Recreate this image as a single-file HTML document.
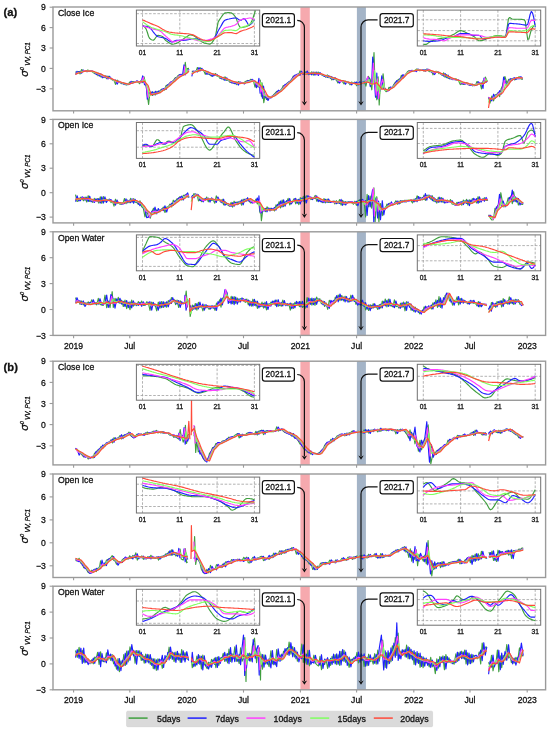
<!DOCTYPE html>
<html><head><meta charset="utf-8"><title>figure</title><style>html,body{margin:0;padding:0;background:#fff;}svg{display:block;}text{stroke:#111;stroke-width:0.28px;}</style></head><body>
<svg width="550" height="730" viewBox="0 0 550 730" font-family="'Liberation Sans', Arial, sans-serif">
<rect width="550" height="730" fill="#fff"/>
<defs>
<clipPath id="c0"><rect x="53.0" y="7.0" width="492.6" height="103.8"/></clipPath>
<clipPath id="c1"><rect x="53.0" y="119.4" width="492.6" height="103.5"/></clipPath>
<clipPath id="c2"><rect x="53.0" y="231.8" width="492.6" height="103.59999999999997"/></clipPath>
<clipPath id="c3"><rect x="53.0" y="361.2" width="492.6" height="103.69999999999999"/></clipPath>
<clipPath id="c4"><rect x="53.0" y="474.0" width="492.6" height="103.5"/></clipPath>
<clipPath id="c5"><rect x="53.0" y="586.2" width="492.6" height="103.59999999999991"/></clipPath>
</defs>
<rect x="300.4" y="7.0" width="9.4" height="103.8" fill="#f6a9ae"/>
<rect x="356.9" y="7.0" width="9.0" height="103.8" fill="#a4b4c7"/>
<g clip-path="url(#c0)" fill="none" stroke-width="1.25" stroke-linejoin="round">
<path d="M75.5,71.7 L77.0,73.2 L78.5,71.5 L80.0,74.0 L81.6,69.5 L83.2,71.0 L84.8,70.9 L86.4,71.6 L87.8,70.0 L89.3,71.0 L90.7,71.2 L92.2,71.6 L93.6,72.8 L95.1,73.9 L96.5,72.4 L98.0,75.8 L99.4,73.6 L100.9,76.9 L102.3,74.9 L103.7,77.6 L105.2,75.8 L106.6,78.7 L108.0,76.1 L109.5,77.2 L111.0,79.1 L112.5,80.0 L114.0,80.2 L115.5,84.4 L117.1,80.1 L118.8,82.3 L120.4,82.6 L122.0,83.9 L123.5,82.8 L125.1,84.7 L126.6,84.4 L128.2,84.6 L129.7,82.0 L131.1,83.4 L132.6,81.5 L134.0,82.0 L135.5,81.5 L136.9,81.7 L138.2,82.1 L139.6,83.7 L141.0,80.5 L142.8,82.6 L144.0,76.7 L146.3,87.5 L148.6,104.5 L149.6,95.4 L150.9,91.8 L152.4,95.5 L154.0,92.0 L155.5,94.9 L157.0,91.3 L158.5,93.1 L160.0,90.6 L161.5,89.2 L163.0,89.3 L164.6,90.1 L166.1,85.3 L167.6,85.4 L169.1,83.5 L170.6,82.5 L172.1,81.7 L173.6,80.1 L175.2,77.8 L176.7,77.3 L178.2,75.3 L179.6,74.8 L181.1,75.0 L182.6,75.4 L184.0,73.2 L185.3,62.3 L186.5,73.3 L187.3,68.6 L189.0,68.4 M191.8,71.4 L193.2,71.4 L194.6,71.7 L196.0,71.4 L197.4,67.5 L198.9,71.4 L200.4,67.8 L201.8,70.0 L203.5,70.0 L205.3,74.3 L207.0,71.3 L208.4,74.1 L209.8,74.4 L211.3,76.1 L212.7,73.7 L214.2,75.6 L215.6,73.5 L217.1,76.3 L218.5,76.2 L220.0,78.4 L221.7,77.3 L223.3,79.8 L225.0,76.8 L226.7,80.4 L228.3,79.7 L230.0,82.4 L231.7,82.0 L233.3,83.3 L235.0,82.0 L236.7,84.6 L238.3,81.5 L240.0,82.4 L241.5,83.0 L243.0,83.4 L244.5,82.3 L246.0,81.2 L247.5,80.4 L249.0,81.5 L250.5,79.4 L252.0,79.9 L253.5,81.1 L255.0,87.2 L256.5,83.0 L258.0,86.8 L259.3,87.1 L260.2,80.1 L261.4,96.1 L262.0,82.7 L263.8,102.6 L265.0,95.5 L266.5,99.5 L268.0,97.9 L269.5,98.3 L271.0,96.8 L272.3,96.7 L273.7,94.6 L275.0,93.3 L276.7,91.4 L278.3,92.6 L280.0,90.8 L281.7,89.2 L283.3,85.6 L285.0,86.2 L286.7,83.5 L288.3,82.5 L290.0,81.2 L291.7,79.8 L293.3,76.1 L295.0,76.5 L296.7,74.4 L298.3,75.7 L300.0,70.9 L301.5,73.5 L303.0,73.8 L304.5,73.6 L306.0,71.6 L307.3,74.4 L308.7,72.6 L310.0,74.1 L311.7,71.8 L313.3,75.1 L315.0,72.1 L316.7,74.7 L318.3,72.0 L320.0,74.2 L321.5,74.6 L322.9,75.6 L324.4,75.5 L325.9,77.3 L327.4,74.9 L328.9,77.7 L330.3,76.4 L331.8,80.0 L333.3,77.5 L334.9,79.5 L336.4,80.0 L337.9,83.0 L339.5,80.9 L341.0,81.5 L342.5,81.6 L344.0,83.9 L345.5,81.1 L347.0,82.7 L348.5,82.2 L350.0,84.8 L351.6,82.1 L353.3,82.9 L354.9,82.0 L356.6,85.7 L358.2,82.5 L359.8,84.6 L361.4,82.4 L363.0,83.6 L364.4,81.3 L365.9,86.1 L367.3,79.9 L368.3,76.3 L370.3,79.6 L371.8,89.8 L374.0,52.5 L374.9,82.8 L376.8,99.8 L378.1,76.9 L379.2,104.9 L380.0,89.5 L381.8,88.5 L383.1,73.9 L384.7,89.9 L386.1,91.6 L387.6,91.0 L389.0,87.3 L390.7,88.5 L392.3,87.4 L394.0,84.2 L395.4,82.0 L396.8,83.3 L398.2,79.4 L399.8,79.9 L401.4,75.3 L403.0,78.3 L404.4,75.4 L405.9,74.6 L407.3,71.9 L408.9,70.6 L410.4,71.2 L412.0,71.1 L413.5,70.6 L414.9,70.9 L416.4,69.1 L417.9,69.6 L419.5,70.7 L421.0,70.4 L422.5,69.8 L424.0,71.1 L425.5,69.6 L427.0,69.2 L428.5,71.0 L430.0,71.8 L431.5,71.0 L433.0,74.8 L434.5,71.7 L436.0,71.4 L437.5,71.6 L439.0,73.6 L440.5,73.3 L442.1,75.4 L443.6,72.8 L445.1,77.3 L446.7,74.5 L448.2,78.5 L449.7,77.2 L451.2,79.1 L452.8,79.1 L454.3,79.7 L455.8,78.8 L457.3,79.8 L458.8,81.2 L460.3,84.6 L461.9,83.5 L463.4,84.5 L464.9,82.9 L466.4,83.2 L467.9,84.6 L469.4,85.0 L470.9,84.0 L472.5,85.9 L474.0,84.8 L475.5,85.1 L477.0,81.5 L478.5,83.1 L480.0,82.8 L481.5,88.9 L483.0,80.9 L484.5,83.1 L485.3,77.0 L487.3,81.2 M488.5,97.0 L490.0,103.1 L491.8,96.1 L493.6,100.9 L495.1,94.7 L496.5,94.8 L498.0,92.7 L499.6,96.6 L501.1,88.8 L502.7,85.4 L504.9,76.5 L507.0,83.4 L508.6,79.4 L510.2,81.4 L511.8,78.6 L513.2,78.7 L514.5,79.9 L515.9,78.3 L517.3,78.8 L519.1,76.6 L520.9,79.0 L522.7,79.4" stroke="#3f9f3f" stroke-width="1.15"/>
<path d="M75.5,74.5 L77.0,71.3 L78.5,72.7 L80.0,71.3 L81.6,73.2 L83.2,70.0 L84.8,71.2 L86.4,71.1 L87.8,71.6 L89.3,70.7 L90.7,70.9 L92.2,71.1 L93.6,72.0 L95.1,73.0 L96.5,74.7 L98.0,73.1 L99.4,76.1 L100.9,73.9 L102.3,77.8 L103.7,75.5 L105.2,77.6 L106.6,76.1 L108.0,78.9 L109.5,76.3 L111.0,78.1 L112.5,79.6 L114.0,80.6 L115.5,80.0 L117.1,84.1 L118.8,81.1 L120.4,82.8 L122.0,82.7 L123.5,84.2 L125.1,83.3 L126.6,84.8 L128.2,83.8 L129.7,84.3 L131.1,81.3 L132.6,83.5 L134.0,81.6 L135.5,81.9 L136.9,80.8 L138.2,81.6 L139.6,81.5 L141.0,82.6 L142.7,75.8 L144.5,84.7 L146.3,85.2 L147.3,99.1 L148.2,92.5 L149.6,93.0 L150.9,94.7 L152.4,91.7 L154.0,94.9 L155.5,91.3 L157.0,93.9 L158.5,91.0 L160.0,92.7 L161.5,90.0 L163.0,88.9 L164.6,88.3 L166.1,89.4 L167.6,84.8 L169.1,84.9 L170.6,82.0 L172.1,81.9 L173.6,81.0 L175.2,79.4 L176.7,77.5 L178.2,77.2 L179.6,74.9 L181.1,74.4 L182.6,74.8 L184.0,64.8 L185.2,74.9 L185.7,73.0 L187.3,72.4 L189.0,69.2 M191.8,76.3 L193.2,71.2 L194.6,71.3 L196.0,71.0 L197.4,71.9 L198.9,67.6 L200.4,70.8 L201.8,68.3 L203.5,70.8 L205.3,70.9 L207.0,74.5 L208.4,72.0 L209.8,74.7 L211.3,74.8 L212.7,76.4 L214.2,74.3 L215.6,75.3 L217.1,74.6 L218.5,76.3 L220.0,76.9 L221.7,78.9 L223.3,77.4 L225.0,80.5 L226.7,77.8 L228.3,80.7 L230.0,80.2 L231.7,82.9 L233.3,82.4 L235.0,83.8 L236.7,82.1 L238.3,85.1 L240.0,82.0 L241.5,82.6 L243.0,83.2 L244.5,83.9 L246.0,82.1 L247.5,81.3 L249.0,80.6 L250.5,81.3 L252.0,79.3 L253.5,80.5 L255.0,81.2 L256.5,87.7 L258.0,83.5 L258.9,78.3 L260.1,93.1 L260.7,87.5 L262.5,98.3 L263.5,86.1 L265.0,97.0 L266.5,97.5 L268.0,100.5 L269.5,97.4 L271.0,98.0 L272.3,95.9 L273.7,96.1 L275.0,94.3 L276.7,92.9 L278.3,90.2 L280.0,91.4 L281.7,89.1 L283.3,88.0 L285.0,84.4 L286.7,84.5 L288.3,82.3 L290.0,81.4 L291.7,79.4 L293.3,77.4 L295.0,75.1 L296.7,75.0 L298.3,73.6 L300.0,75.4 L301.5,71.3 L303.0,74.3 L304.5,73.4 L306.0,73.9 L307.3,71.1 L308.7,74.7 L310.0,73.1 L311.7,74.8 L313.3,72.1 L315.0,75.1 L316.7,72.1 L318.3,75.5 L320.0,72.6 L321.5,74.6 L322.9,74.8 L324.4,76.5 L325.9,75.4 L327.4,77.5 L328.9,75.7 L330.3,78.3 L331.8,76.7 L333.3,79.7 L334.9,77.5 L336.4,79.5 L337.9,80.9 L339.5,83.1 L341.0,81.0 L342.5,81.5 L344.0,81.0 L345.5,84.2 L347.0,81.4 L348.5,82.8 L350.0,82.6 L351.6,84.8 L353.3,82.6 L354.9,83.5 L356.6,82.0 L358.2,85.0 L359.8,81.7 L361.4,83.8 L363.0,81.8 L364.4,83.3 L365.9,82.0 L367.0,78.8 L368.8,78.1 L370.3,86.7 L371.8,80.0 L372.7,57.0 L375.5,97.2 L376.4,85.1 L376.8,73.0 L377.9,98.8 L378.2,83.0 L380.0,91.1 L381.8,75.8 L383.2,88.7 L384.7,87.9 L386.1,89.9 L387.6,90.9 L389.0,90.5 L390.7,86.9 L392.3,87.8 L394.0,85.1 L395.4,83.6 L396.8,80.6 L398.2,82.2 L399.8,78.7 L401.4,78.2 L403.0,74.5 L404.4,76.8 L405.9,74.0 L407.3,73.4 L408.9,72.1 L410.4,70.7 L412.0,70.3 L413.5,70.7 L414.9,70.7 L416.4,71.6 L417.9,69.1 L419.5,69.7 L421.0,70.3 L422.5,70.5 L424.0,69.8 L425.5,71.1 L427.0,69.2 L428.5,69.3 L430.0,70.7 L431.5,72.2 L433.0,71.5 L434.5,74.6 L436.0,72.2 L437.5,72.1 L439.0,72.3 L440.5,73.9 L442.1,74.0 L443.6,76.1 L445.1,73.5 L446.7,77.6 L448.2,75.2 L449.7,78.9 L451.2,77.9 L452.8,79.6 L454.3,79.1 L455.8,80.0 L457.3,79.7 L458.8,80.1 L460.3,81.5 L461.9,84.0 L463.4,83.1 L464.9,84.4 L466.4,82.6 L467.9,83.7 L469.4,85.1 L470.9,85.5 L472.5,84.2 L474.0,85.7 L475.5,84.9 L477.0,85.0 L478.5,81.8 L480.0,83.7 L481.5,82.9 L483.0,88.4 L484.0,78.0 L485.9,82.4 L487.3,81.2 M488.5,97.4 L490.0,99.0 L491.8,100.8 L493.6,94.2 L495.1,98.4 L496.5,94.6 L498.0,94.3 L499.6,90.7 L501.1,94.2 L502.7,87.1 L503.6,77.1 L505.6,82.8 L507.0,85.5 L508.6,82.8 L510.2,78.6 L511.8,80.6 L513.2,78.3 L514.5,77.7 L515.9,79.6 L517.3,78.1 L519.1,79.0 L520.9,76.6 L522.7,79.2" stroke="#1f1fff" stroke-width="1.15"/>
<path d="M75.5,73.8 L77.0,73.0 L78.5,72.6 L80.0,72.5 L81.6,72.0 L83.2,71.0 L84.8,70.6 L86.4,71.2 L87.8,71.2 L89.3,70.9 L90.7,70.9 L92.2,71.2 L93.6,71.9 L95.1,72.8 L96.5,73.3 L98.0,73.9 L99.4,74.4 L100.9,75.1 L102.3,76.0 L103.7,76.4 L105.2,76.6 L106.6,77.4 L108.0,77.9 L109.5,77.7 L111.0,78.3 L112.5,79.6 L114.0,80.3 L115.5,81.3 L117.1,82.0 L118.8,81.8 L120.4,82.2 L122.0,82.7 L123.5,83.4 L125.1,83.8 L126.6,84.3 L128.2,84.4 L129.7,83.6 L131.1,83.0 L132.6,83.0 L134.0,82.3 L135.5,81.6 L136.9,81.4 L138.2,81.5 L139.6,82.5 L141.0,82.5 L143.4,77.3 L144.5,82.3 L146.3,84.4 L148.0,97.2 L149.6,94.4 L150.9,94.1 L152.4,93.8 L154.0,93.5 L155.5,93.2 L157.0,93.0 L158.5,92.8 L160.0,92.0 L161.5,90.8 L163.0,89.7 L164.6,89.1 L166.1,87.8 L167.6,86.3 L169.1,84.7 L170.6,83.0 L172.1,82.1 L173.6,81.2 L175.2,79.5 L176.7,77.9 L178.2,76.7 L179.6,75.6 L181.1,75.3 L182.6,75.5 L184.0,74.7 L184.7,66.4 L185.8,74.1 L187.3,71.0 L189.0,70.2 M191.8,73.9 L193.2,72.2 L194.6,71.4 L196.0,71.3 L197.4,70.3 L198.9,69.9 L200.4,69.6 L201.8,69.5 L203.5,70.1 L205.3,71.4 L207.0,72.7 L208.4,72.9 L209.8,73.6 L211.3,74.4 L212.7,74.5 L214.2,74.7 L215.6,74.9 L217.1,75.2 L218.5,75.9 L220.0,77.0 L221.7,77.8 L223.3,78.4 L225.0,78.8 L226.7,78.9 L228.3,79.7 L230.0,81.0 L231.7,81.8 L233.3,82.1 L235.0,82.5 L236.7,83.0 L238.3,83.4 L240.0,82.8 L241.5,82.9 L243.0,83.2 L244.5,82.9 L246.0,82.2 L247.5,81.7 L249.0,81.3 L250.5,80.8 L252.0,80.4 L253.5,80.5 L255.0,82.4 L256.5,84.0 L258.0,85.3 L259.3,86.4 L259.6,81.0 L260.8,92.2 L262.0,88.8 L263.2,95.0 L265.0,93.8 L266.5,96.8 L268.0,97.6 L269.5,98.3 L271.0,97.2 L272.3,96.3 L273.7,95.6 L275.0,94.7 L276.7,93.2 L278.3,92.3 L280.0,91.4 L281.7,90.0 L283.3,87.9 L285.0,86.0 L286.7,84.7 L288.3,83.1 L290.0,81.9 L291.7,80.3 L293.3,78.1 L295.0,76.4 L296.7,75.3 L298.3,74.2 L300.0,73.7 L301.5,72.9 L303.0,73.3 L304.5,74.1 L306.0,73.4 L307.3,73.2 L308.7,73.4 L310.0,73.5 L311.7,73.3 L313.3,73.3 L315.0,73.7 L316.7,73.9 L318.3,73.9 L320.0,73.9 L321.5,74.3 L322.9,74.8 L324.4,75.3 L325.9,76.2 L327.4,76.3 L328.9,76.7 L330.3,77.2 L331.8,77.7 L333.3,78.4 L334.9,78.7 L336.4,79.3 L337.9,80.6 L339.5,81.5 L341.0,81.4 L342.5,80.9 L344.0,81.5 L345.5,82.2 L347.0,82.1 L348.5,82.4 L350.0,83.1 L351.6,83.5 L353.3,83.1 L354.9,83.4 L356.6,84.2 L358.2,83.8 L359.8,83.4 L361.4,83.2 L363.0,82.8 L364.4,82.4 L365.9,82.5 L367.7,76.6 L368.8,82.4 L370.3,83.6 L371.8,83.8 L373.4,63.1 L374.9,82.8 L376.2,95.3 L377.4,78.9 L378.6,98.5 L380.0,88.5 L382.5,79.2 L384.7,89.0 L386.1,90.2 L387.6,91.1 L389.0,89.9 L390.7,88.2 L392.3,87.4 L394.0,85.9 L395.4,84.0 L396.8,82.8 L398.2,81.7 L399.8,80.1 L401.4,78.4 L403.0,76.9 L404.4,75.7 L405.9,74.1 L407.3,73.0 L408.9,71.9 L410.4,71.0 L412.0,71.0 L413.5,70.8 L414.9,70.7 L416.4,70.6 L417.9,69.9 L419.5,69.8 L421.0,70.3 L422.5,70.4 L424.0,70.6 L425.5,70.4 L427.0,70.0 L428.5,69.7 L430.0,70.7 L431.5,71.4 L433.0,72.2 L434.5,72.9 L436.0,72.2 L437.5,72.0 L439.0,72.5 L440.5,73.4 L442.1,74.4 L443.6,74.7 L445.1,75.2 L446.7,75.6 L448.2,76.3 L449.7,77.5 L451.2,78.5 L452.8,79.1 L454.3,79.4 L455.8,79.6 L457.3,79.9 L458.8,80.8 L460.3,81.9 L461.9,82.9 L463.4,83.3 L464.9,83.4 L466.4,83.7 L467.9,84.1 L469.4,84.7 L470.9,84.9 L472.5,85.0 L474.0,85.6 L475.5,85.1 L477.0,83.9 L478.5,83.2 L480.0,83.1 L481.5,84.3 L483.0,84.3 L484.7,78.3 L485.9,80.7 L487.3,80.7 M488.5,97.3 L490.0,98.5 L491.8,99.0 L493.6,97.4 L495.1,97.0 L496.5,95.5 L498.0,93.9 L499.6,93.1 L501.1,92.2 L502.7,88.8 L504.3,80.2 L505.6,86.0 L507.0,85.2 L508.6,82.5 L510.2,80.2 L511.8,79.7 L513.2,78.8 L514.5,78.5 L515.9,77.8 L517.3,78.1 L519.1,78.4 L520.9,77.9 L522.7,78.0" stroke="#ff3fff" stroke-width="1.15"/>
<path d="M75.5,73.7 L77.0,73.2 L78.5,72.9 L80.0,72.5 L81.6,71.8 L83.2,71.4 L84.8,71.2 L86.4,71.0 L87.8,70.9 L89.3,71.0 L90.7,71.2 L92.2,71.4 L93.6,72.1 L95.1,72.4 L96.5,73.0 L98.0,73.4 L99.4,74.1 L100.9,74.6 L102.3,75.3 L103.7,75.7 L105.2,76.5 L106.6,77.0 L108.0,77.3 L109.5,77.8 L111.0,78.7 L112.5,79.4 L114.0,80.5 L115.5,81.1 L117.1,81.2 L118.8,81.6 L120.4,82.3 L122.0,82.8 L123.5,83.2 L125.1,83.6 L126.6,84.2 L128.2,83.9 L129.7,83.5 L131.1,83.2 L132.6,82.7 L134.0,82.2 L135.5,82.0 L136.9,81.9 L138.2,82.2 L139.6,81.8 L141.0,81.4 L142.8,81.0 L144.6,79.7 L146.3,84.1 L148.2,88.7 L149.2,96.3 L150.9,94.5 L152.4,94.2 L154.0,93.9 L155.5,93.7 L157.0,93.4 L158.5,93.1 L160.0,92.0 L161.5,91.0 L163.0,90.4 L164.6,89.3 L166.1,87.9 L167.6,86.8 L169.1,85.5 L170.6,84.2 L172.1,83.0 L173.6,81.5 L175.2,80.1 L176.7,78.6 L178.2,77.3 L179.6,76.7 L181.1,76.2 L182.6,75.2 L184.0,74.2 L185.7,73.0 L185.9,68.2 L187.1,72.6 L187.3,71.5 L189.0,71.0 M191.8,73.1 L193.2,72.5 L194.6,72.1 L196.0,71.1 L197.4,70.6 L198.9,70.3 L200.4,69.7 L201.8,69.8 L203.5,70.7 L205.3,71.5 L207.0,72.0 L208.4,72.7 L209.8,73.5 L211.3,73.7 L212.7,73.9 L214.2,74.2 L215.6,74.7 L217.1,75.4 L218.5,76.3 L220.0,76.9 L221.7,77.5 L223.3,78.0 L225.0,78.4 L226.7,79.2 L228.3,80.0 L230.0,80.7 L231.7,81.3 L233.3,81.6 L235.0,82.1 L236.7,82.7 L238.3,83.0 L240.0,83.3 L241.5,83.4 L243.0,83.3 L244.5,82.8 L246.0,82.4 L247.5,82.4 L249.0,81.9 L250.5,81.1 L252.0,80.8 L253.5,81.7 L255.0,82.3 L256.5,82.5 L258.0,83.5 L259.3,85.7 L260.8,82.5 L261.9,88.9 L263.5,90.5 L264.4,95.5 L266.5,95.7 L268.0,96.8 L269.5,97.3 L271.0,97.1 L272.3,96.6 L273.7,96.0 L275.0,94.9 L276.7,93.8 L278.3,93.0 L280.0,91.8 L281.7,90.0 L283.3,88.4 L285.0,86.9 L286.7,85.3 L288.3,83.6 L290.0,82.0 L291.7,80.3 L293.3,78.8 L295.0,77.6 L296.7,76.3 L298.3,74.7 L300.0,73.4 L301.5,73.2 L303.0,73.5 L304.5,73.7 L306.0,74.0 L307.3,73.9 L308.7,73.6 L310.0,73.3 L311.7,73.2 L313.3,73.2 L315.0,73.2 L316.7,73.4 L318.3,73.2 L320.0,73.6 L321.5,74.3 L322.9,74.8 L324.4,75.4 L325.9,75.6 L327.4,76.1 L328.9,76.6 L330.3,77.2 L331.8,77.6 L333.3,77.9 L334.9,78.5 L336.4,79.5 L337.9,80.1 L339.5,80.3 L341.0,80.4 L342.5,81.0 L344.0,81.4 L345.5,81.6 L347.0,81.9 L348.5,82.5 L350.0,82.9 L351.6,83.0 L353.3,83.1 L354.9,83.7 L356.6,84.3 L358.2,84.2 L359.8,83.8 L361.4,83.4 L363.0,82.8 L364.4,82.9 L365.9,81.7 L367.3,81.8 L368.9,79.4 L370.3,84.2 L371.8,84.7 L373.3,83.5 L374.6,70.5 L376.4,83.0 L377.4,90.9 L378.2,85.7 L378.6,82.2 L379.8,93.4 L380.0,88.0 L381.8,88.7 L383.7,83.6 L384.7,89.7 L386.1,90.4 L387.6,90.3 L389.0,89.6 L390.7,88.7 L392.3,87.8 L394.0,86.0 L395.4,84.8 L396.8,83.4 L398.2,82.0 L399.8,80.3 L401.4,78.9 L403.0,77.7 L404.4,76.1 L405.9,74.3 L407.3,73.0 L408.9,72.2 L410.4,71.8 L412.0,71.3 L413.5,70.9 L414.9,70.3 L416.4,69.8 L417.9,69.9 L419.5,70.1 L421.0,70.2 L422.5,70.5 L424.0,70.7 L425.5,70.4 L427.0,70.3 L428.5,70.4 L430.0,70.7 L431.5,71.4 L433.0,71.8 L434.5,71.6 L436.0,71.6 L437.5,72.1 L439.0,72.7 L440.5,73.6 L442.1,74.0 L443.6,74.5 L445.1,75.2 L446.7,75.9 L448.2,76.7 L449.7,77.4 L451.2,78.0 L452.8,78.5 L454.3,79.0 L455.8,79.4 L457.3,80.0 L458.8,80.9 L460.3,81.9 L461.9,82.4 L463.4,82.5 L464.9,82.6 L466.4,83.0 L467.9,83.6 L469.4,84.0 L470.9,84.4 L472.5,84.9 L474.0,85.4 L475.5,85.0 L477.0,84.2 L478.5,83.7 L480.0,84.4 L481.5,84.2 L483.0,83.1 L484.5,82.3 L485.9,79.4 L487.3,81.1 M488.5,102.5 L490.0,98.8 L491.8,98.6 L493.6,98.6 L495.1,97.2 L496.5,95.7 L498.0,95.1 L499.6,94.3 L501.1,92.5 L502.7,90.4 L504.1,89.1 L505.5,84.1 L507.0,85.4 L508.6,83.2 L510.2,81.3 L511.8,79.7 L513.2,79.3 L514.5,78.7 L515.9,77.9 L517.3,77.6 L519.1,77.5 L520.9,78.1 L522.7,78.2" stroke="#7fff5f" stroke-width="1.15"/>
<path d="M75.5,74.4 L77.0,73.6 L78.5,73.0 L80.0,72.5 L81.6,72.2 L83.2,71.8 L84.8,71.2 L86.4,70.9 L87.8,71.1 L89.3,71.2 L90.7,71.1 L92.2,71.2 L93.6,71.4 L95.1,72.0 L96.5,72.6 L98.0,73.1 L99.4,73.6 L100.9,74.1 L102.3,74.8 L103.7,75.5 L105.2,76.1 L106.6,76.8 L108.0,77.4 L109.5,78.0 L111.0,78.4 L112.5,79.1 L114.0,79.8 L115.5,80.4 L117.1,81.2 L118.8,81.6 L120.4,81.9 L122.0,82.5 L123.5,82.9 L125.1,83.3 L126.6,83.7 L128.2,84.2 L129.7,83.9 L131.1,83.4 L132.6,83.0 L134.0,82.7 L135.5,82.2 L136.9,82.0 L138.2,81.9 L139.6,81.8 L141.0,81.8 L142.8,81.5 L144.5,81.2 L146.3,83.5 L148.2,85.6 L149.6,90.1 L150.9,94.9 L152.4,94.5 L154.0,94.2 L155.5,93.9 L157.0,93.5 L158.5,93.1 L160.0,92.7 L161.5,91.8 L163.0,90.5 L164.6,89.6 L166.1,88.7 L167.6,87.6 L169.1,86.4 L170.6,85.0 L172.1,83.6 L173.6,82.3 L175.2,81.0 L176.7,79.5 L178.2,78.2 L179.6,77.2 L181.1,76.2 L182.6,75.5 L184.0,74.7 L185.7,73.7 L187.3,72.8 L189.0,71.3 M191.8,74.2 L193.2,73.2 L194.6,72.3 L196.0,71.7 L197.4,71.4 L198.9,70.6 L200.4,70.2 L201.8,69.9 L203.5,70.2 L205.3,70.8 L207.0,71.6 L208.4,72.1 L209.8,72.6 L211.3,73.3 L212.7,73.9 L214.2,74.3 L215.6,74.7 L217.1,75.2 L218.5,75.7 L220.0,76.4 L221.7,77.1 L223.3,77.7 L225.0,78.3 L226.7,78.8 L228.3,79.3 L230.0,80.1 L231.7,80.7 L233.3,81.4 L235.0,81.9 L236.7,82.4 L238.3,83.0 L240.0,83.6 L241.5,83.2 L243.0,83.2 L244.5,83.2 L246.0,83.0 L247.5,82.7 L249.0,82.5 L250.5,82.0 L252.0,81.3 L253.5,81.0 L255.0,81.0 L256.5,82.2 L258.0,82.9 L259.3,84.1 L260.7,85.5 L262.0,87.3 L263.5,88.8 L265.0,90.8 L266.5,93.8 L268.0,96.1 L269.5,96.8 L271.0,97.4 L272.3,96.9 L273.7,96.3 L275.0,95.8 L276.7,94.5 L278.3,93.2 L280.0,92.1 L281.7,90.9 L283.3,89.3 L285.0,87.7 L286.7,86.0 L288.3,84.4 L290.0,82.7 L291.7,81.3 L293.3,79.8 L295.0,78.2 L296.7,76.8 L298.3,75.4 L300.0,74.1 L301.5,73.5 L303.0,73.0 L304.5,73.7 L306.0,74.3 L307.3,73.7 L308.7,73.5 L310.0,73.3 L311.7,73.3 L313.3,73.1 L315.0,73.1 L316.7,73.3 L318.3,73.5 L320.0,73.6 L321.5,73.9 L322.9,74.4 L324.4,75.0 L325.9,75.5 L327.4,76.0 L328.9,76.3 L330.3,76.8 L331.8,77.3 L333.3,77.8 L334.9,78.2 L336.4,78.6 L337.9,79.2 L339.5,79.9 L341.0,80.3 L342.5,80.6 L344.0,80.9 L345.5,81.5 L347.0,81.9 L348.5,82.2 L350.0,82.6 L351.6,83.1 L353.3,83.4 L354.9,83.6 L356.6,83.9 L358.2,84.4 L359.8,84.0 L361.4,83.5 L363.0,83.0 L364.4,82.7 L365.9,82.2 L367.3,82.1 L368.8,82.5 L370.3,83.3 L371.8,84.2 L373.3,84.0 L374.9,83.7 L376.4,82.5 L378.2,84.5 L380.0,86.7 L381.8,89.1 L383.2,89.1 L384.7,89.2 L386.1,89.4 L387.6,89.9 L389.0,90.3 L390.7,89.1 L392.3,88.0 L394.0,87.2 L395.4,85.7 L396.8,84.1 L398.2,82.8 L399.8,81.3 L401.4,79.6 L403.0,78.0 L404.4,76.7 L405.9,75.4 L407.3,73.8 L408.9,73.0 L410.4,72.0 L412.0,71.4 L413.5,71.0 L414.9,70.5 L416.4,70.1 L417.9,70.1 L419.5,70.0 L421.0,70.2 L422.5,70.5 L424.0,70.6 L425.5,70.8 L427.0,70.6 L428.5,70.2 L430.0,70.1 L431.5,70.7 L433.0,71.1 L434.5,71.7 L436.0,72.1 L437.5,72.1 L439.0,72.4 L440.5,73.1 L442.1,73.8 L443.6,74.5 L445.1,75.0 L446.7,75.6 L448.2,76.3 L449.7,76.9 L451.2,77.6 L452.8,78.2 L454.3,78.8 L455.8,79.4 L457.3,79.9 L458.8,80.3 L460.3,80.8 L461.9,81.5 L463.4,82.2 L464.9,82.6 L466.4,82.8 L467.9,83.1 L469.4,83.7 L470.9,84.2 L472.5,84.6 L474.0,85.0 L475.5,85.5 L477.0,85.0 L478.5,84.3 L480.0,83.8 L481.5,83.4 L483.0,83.6 L484.5,83.1 L485.9,81.8 L487.3,81.0 M488.5,108.0 L490.0,98.1 L491.8,98.9 L493.6,99.0 L495.1,97.9 L496.5,97.2 L498.0,95.8 L499.6,94.6 L501.1,93.8 L502.7,92.7 L504.1,90.2 L505.6,88.1 L507.0,86.5 L508.6,84.6 L510.2,82.1 L511.8,80.1 L513.2,79.5 L514.5,78.7 L515.9,78.2 L517.3,77.5 L519.1,77.7 L520.9,77.8 L522.7,78.1" stroke="#ff4a3a" stroke-width="1.2"/>
</g>
<rect x="53.0" y="7.0" width="492.6" height="103.8" fill="none" stroke="#9a9a9a" stroke-width="1.4"/>
<line x1="49.6" y1="7.2" x2="53.0" y2="7.2" stroke="#9a9a9a" stroke-width="1.1"/>
<text x="45.8" y="10.3" font-size="8.6" text-anchor="end" fill="#111">9</text>
<line x1="49.6" y1="27.6" x2="53.0" y2="27.6" stroke="#9a9a9a" stroke-width="1.1"/>
<text x="45.8" y="30.7" font-size="8.6" text-anchor="end" fill="#111">6</text>
<line x1="49.6" y1="48.0" x2="53.0" y2="48.0" stroke="#9a9a9a" stroke-width="1.1"/>
<text x="45.8" y="51.1" font-size="8.6" text-anchor="end" fill="#111">3</text>
<line x1="49.6" y1="68.4" x2="53.0" y2="68.4" stroke="#9a9a9a" stroke-width="1.1"/>
<text x="45.8" y="71.5" font-size="8.6" text-anchor="end" fill="#111">0</text>
<line x1="49.6" y1="88.8" x2="53.0" y2="88.8" stroke="#9a9a9a" stroke-width="1.1"/>
<text x="45.8" y="91.9" font-size="8.6" text-anchor="end" fill="#111">−3</text>
<line x1="73.6" y1="110.8" x2="73.6" y2="113.6" stroke="#9a9a9a" stroke-width="1.1"/>
<line x1="129.8" y1="110.8" x2="129.8" y2="113.6" stroke="#9a9a9a" stroke-width="1.1"/>
<line x1="187.0" y1="110.8" x2="187.0" y2="113.6" stroke="#9a9a9a" stroke-width="1.1"/>
<line x1="243.5" y1="110.8" x2="243.5" y2="113.6" stroke="#9a9a9a" stroke-width="1.1"/>
<line x1="300.4" y1="110.8" x2="300.4" y2="113.6" stroke="#9a9a9a" stroke-width="1.1"/>
<line x1="356.6" y1="110.8" x2="356.6" y2="113.6" stroke="#9a9a9a" stroke-width="1.1"/>
<line x1="413.8" y1="110.8" x2="413.8" y2="113.6" stroke="#9a9a9a" stroke-width="1.1"/>
<line x1="470.0" y1="110.8" x2="470.0" y2="113.6" stroke="#9a9a9a" stroke-width="1.1"/>
<line x1="527.2" y1="110.8" x2="527.2" y2="113.6" stroke="#9a9a9a" stroke-width="1.1"/>
<text x="58" y="15.9" font-size="8.7" fill="#111">Close Ice</text>
<g transform="translate(28.4,76.4) rotate(-90)" fill="#111"><text x="-0.3" y="0" font-size="10.2" font-style="italic" font-family="DejaVu Sans, sans-serif">σ</text><text x="6.2" y="-4.3" font-size="5.6" font-style="italic">0</text><text x="10.6" y="1.6" font-size="6.3" font-style="italic">VV, PC1</text></g>
<rect x="136.4" y="10.1" width="123.3" height="35.9" fill="#fff"/>
<line x1="142.5" y1="10.1" x2="142.5" y2="46.0" stroke="#a0a0a0" stroke-width="0.8" stroke-dasharray="2.6,1.6"/>
<line x1="179.8" y1="10.1" x2="179.8" y2="46.0" stroke="#a0a0a0" stroke-width="0.8" stroke-dasharray="2.6,1.6"/>
<line x1="217.1" y1="10.1" x2="217.1" y2="46.0" stroke="#a0a0a0" stroke-width="0.8" stroke-dasharray="2.6,1.6"/>
<line x1="254.4" y1="10.1" x2="254.4" y2="46.0" stroke="#a0a0a0" stroke-width="0.8" stroke-dasharray="2.6,1.6"/>
<line x1="136.4" y1="13.7" x2="259.7" y2="13.7" stroke="#a0a0a0" stroke-width="0.8" stroke-dasharray="2.6,1.6"/>
<line x1="136.4" y1="43.5" x2="259.7" y2="43.5" stroke="#a0a0a0" stroke-width="0.8" stroke-dasharray="2.6,1.6"/>
<g fill="none" stroke-width="1.15" stroke-linejoin="round">
<path d="M142.6,25.2 L143.8,26.0 L145.0,27.4 L146.2,29.1 L147.4,32.5 L148.6,36.5 L149.8,38.6 L151.0,39.4 L152.2,40.0 L153.4,40.2 L154.6,39.2 L155.8,37.5 L157.0,35.9 L158.2,35.4 L159.4,35.5 L160.6,35.8 L161.8,36.2 L163.0,36.7 L164.2,38.6 L165.4,40.2 L166.6,41.1 L167.8,41.9 L169.0,42.7 L170.2,43.5 L171.4,44.1 L172.6,44.2 L173.8,44.0 L175.0,43.7 L176.2,43.4 L177.4,42.9 L178.6,42.3 L179.8,41.4 L181.0,40.5 L182.2,39.7 L183.4,38.9 L184.6,38.0 L185.8,37.2 L187.0,36.5 L188.2,35.7 L189.4,35.0 L190.6,34.9 L191.8,35.2 L193.0,35.5 L194.2,36.0 L195.4,36.8 L196.6,37.7 L197.8,38.6 L199.0,39.5 L200.2,40.5 L201.4,41.5 L202.6,42.3 L203.8,42.8 L205.0,43.1 L206.2,43.4 L207.4,43.7 L208.6,44.0 L209.8,44.2 L211.0,43.6 L212.2,42.3 L213.4,40.7 L214.6,38.5 L215.8,34.4 L217.0,27.8 L218.2,21.9 L219.4,19.9 L220.6,18.2 L221.8,16.3 L223.0,14.6 L224.2,13.4 L225.4,12.9 L226.6,12.7 L227.8,12.6 L229.0,12.6 L230.2,12.7 L231.4,12.9 L232.6,13.7 L233.8,14.8 L235.0,16.3 L236.2,18.4 L237.4,21.9 L238.6,24.7 L239.8,27.0 L241.0,27.6 L242.2,27.5 L243.4,27.3 L244.6,27.0 L245.8,26.6 L247.0,26.3 L248.2,25.8 L249.4,25.1 L250.6,23.8 L251.8,21.0 L253.0,17.9 L254.2,14.2 L255.4,10.6 L255.5,10.6" stroke="#3f9f3f"/>
<path d="M142.6,26.4 L143.8,26.4 L145.0,26.4 L146.2,26.4 L147.4,26.4 L148.6,26.8 L149.8,27.7 L151.0,29.0 L152.2,30.5 L153.4,32.1 L154.6,33.6 L155.8,35.0 L157.0,36.1 L158.2,36.7 L159.4,37.0 L160.6,37.3 L161.8,37.5 L163.0,37.7 L164.2,38.0 L165.4,38.4 L166.6,39.0 L167.8,39.9 L169.0,40.7 L170.2,41.5 L171.4,41.9 L172.6,41.9 L173.8,41.3 L175.0,40.7 L176.2,40.4 L177.4,40.4 L178.6,40.4 L179.8,40.4 L181.0,40.4 L182.2,40.4 L183.4,40.4 L184.6,40.2 L185.8,40.1 L187.0,39.9 L188.2,39.8 L189.4,39.5 L190.6,39.1 L191.8,38.8 L193.0,38.7 L194.2,38.8 L195.4,38.9 L196.6,39.1 L197.8,39.3 L199.0,39.5 L200.2,39.8 L201.4,40.1 L202.6,40.3 L203.8,40.5 L205.0,40.7 L206.2,40.8 L207.4,40.9 L208.6,40.9 L209.8,40.6 L211.0,40.2 L212.2,39.7 L213.4,38.8 L214.6,37.5 L215.8,35.8 L217.0,33.4 L218.2,30.7 L219.4,28.7 L220.6,26.8 L221.8,24.6 L223.0,22.4 L224.2,20.8 L225.4,20.0 L226.6,19.6 L227.8,19.2 L229.0,19.0 L230.2,18.7 L231.4,18.5 L232.6,18.3 L233.8,18.1 L235.0,18.0 L236.2,18.0 L237.4,18.6 L238.6,19.5 L239.8,20.2 L241.0,20.3 L242.2,19.6 L243.4,18.7 L244.6,18.9 L245.8,20.4 L247.0,22.2 L248.2,24.5 L249.4,25.1 L250.6,24.3 L251.8,23.3 L253.0,21.9 L254.2,20.1 L254.4,19.8" stroke="#1f1fff"/>
<path d="M142.6,25.8 L143.8,26.2 L145.0,26.6 L146.2,27.0 L147.4,27.4 L148.6,27.8 L149.8,28.2 L151.0,28.5 L152.2,28.9 L153.4,29.1 L154.6,29.4 L155.8,29.6 L157.0,29.9 L158.2,30.2 L159.4,30.7 L160.6,31.4 L161.8,32.4 L163.0,33.6 L164.2,34.8 L165.4,35.8 L166.6,36.9 L167.8,38.0 L169.0,39.0 L170.2,40.0 L171.4,41.1 L172.6,41.9 L173.8,41.9 L175.0,41.6 L176.2,41.1 L177.4,40.8 L178.6,40.6 L179.8,40.3 L181.0,40.1 L182.2,39.9 L183.4,39.7 L184.6,39.5 L185.8,39.2 L187.0,39.0 L188.2,38.8 L189.4,38.7 L190.6,38.7 L191.8,38.9 L193.0,39.3 L194.2,39.6 L195.4,39.9 L196.6,40.2 L197.8,40.6 L199.0,40.8 L200.2,40.9 L201.4,40.8 L202.6,40.7 L203.8,40.6 L205.0,40.4 L206.2,40.2 L207.4,40.0 L208.6,39.7 L209.8,39.4 L211.0,39.0 L212.2,38.7 L213.4,38.3 L214.6,37.8 L215.8,37.1 L217.0,36.2 L218.2,35.1 L219.4,33.9 L220.6,32.7 L221.8,31.1 L223.0,29.6 L224.2,28.3 L225.4,27.7 L226.6,27.3 L227.8,27.1 L229.0,26.8 L230.2,26.6 L231.4,26.3 L232.6,25.9 L233.8,25.5 L235.0,25.0 L236.2,24.3 L237.4,23.1 L238.6,21.6 L239.8,20.3 L241.0,19.7 L242.2,19.4 L243.4,19.1 L244.6,18.9 L245.8,18.7 L247.0,18.5 L248.2,18.2 L249.4,18.0 L250.6,18.0 L251.8,18.3 L253.0,18.9 L254.2,19.7 L254.4,19.8" stroke="#ff3fff"/>
<path d="M142.6,21.6 L143.8,22.6 L145.0,23.5 L146.2,24.4 L147.4,25.2 L148.6,25.9 L149.8,26.6 L151.0,27.2 L152.2,27.7 L153.4,28.1 L154.6,28.5 L155.8,28.9 L157.0,29.2 L158.2,29.6 L159.4,29.9 L160.6,30.3 L161.8,30.6 L163.0,31.0 L164.2,31.3 L165.4,31.7 L166.6,32.2 L167.8,32.8 L169.0,33.3 L170.2,33.9 L171.4,34.3 L172.6,34.5 L173.8,34.7 L175.0,34.9 L176.2,35.0 L177.4,35.1 L178.6,35.3 L179.8,35.5 L181.0,35.7 L182.2,36.0 L183.4,36.3 L184.6,36.7 L185.8,37.0 L187.0,37.3 L188.2,37.7 L189.4,37.9 L190.6,38.2 L191.8,38.5 L193.0,38.8 L194.2,39.1 L195.4,39.4 L196.6,39.7 L197.8,40.0 L199.0,40.3 L200.2,40.6 L201.4,40.8 L202.6,41.0 L203.8,41.2 L205.0,41.3 L206.2,41.4 L207.4,41.5 L208.6,41.5 L209.8,41.2 L211.0,40.8 L212.2,40.2 L213.4,39.6 L214.6,39.0 L215.8,38.1 L217.0,37.1 L218.2,36.0 L219.4,34.9 L220.6,33.9 L221.8,32.7 L223.0,31.6 L224.2,30.8 L225.4,30.4 L226.6,30.3 L227.8,30.2 L229.0,30.1 L230.2,30.0 L231.4,30.0 L232.6,30.2 L233.8,30.4 L235.0,30.6 L236.2,30.6 L237.4,30.0 L238.6,29.0 L239.8,28.1 L241.0,27.4 L242.2,27.1 L243.4,26.7 L244.6,26.4 L245.8,26.1 L247.0,25.6 L248.2,25.0 L249.4,24.3 L250.6,23.5 L251.8,22.6 L253.0,21.6 L254.2,20.6 L254.4,20.4" stroke="#7fff5f"/>
<path d="M142.6,19.8 L143.8,20.4 L145.0,20.9 L146.2,21.5 L147.4,22.0 L148.6,22.5 L149.8,23.1 L151.0,23.6 L152.2,24.1 L153.4,24.6 L154.6,25.0 L155.8,25.5 L157.0,26.0 L158.2,26.5 L159.4,27.2 L160.6,27.9 L161.8,28.7 L163.0,29.4 L164.2,30.1 L165.4,30.7 L166.6,31.2 L167.8,31.6 L169.0,32.0 L170.2,32.2 L171.4,32.4 L172.6,32.6 L173.8,32.7 L175.0,32.9 L176.2,33.0 L177.4,33.1 L178.6,33.2 L179.8,33.3 L181.0,33.4 L182.2,33.4 L183.4,33.5 L184.6,33.6 L185.8,33.6 L187.0,33.7 L188.2,33.8 L189.4,34.0 L190.6,34.2 L191.8,34.5 L193.0,34.9 L194.2,35.4 L195.4,36.1 L196.6,36.8 L197.8,37.5 L199.0,38.1 L200.2,38.7 L201.4,39.2 L202.6,39.7 L203.8,40.0 L205.0,40.3 L206.2,40.5 L207.4,40.7 L208.6,40.7 L209.8,40.5 L211.0,40.1 L212.2,39.7 L213.4,39.2 L214.6,38.4 L215.8,37.7 L217.0,37.1 L218.2,36.4 L219.4,35.8 L220.6,35.1 L221.8,34.3 L223.0,33.4 L224.2,32.9 L225.4,32.7 L226.6,32.7 L227.8,32.6 L229.0,32.6 L230.2,32.6 L231.4,32.6 L232.6,32.9 L233.8,33.2 L235.0,33.5 L236.2,33.6 L237.4,33.1 L238.6,32.4 L239.8,31.6 L241.0,31.1 L242.2,30.7 L243.4,30.3 L244.6,30.0 L245.8,29.7 L247.0,29.3 L248.2,28.8 L249.4,28.3 L250.6,27.7 L251.8,27.2 L253.0,26.6 L254.2,25.9 L254.4,25.8" stroke="#ff4a3a"/>
</g>
<rect x="136.4" y="10.1" width="123.3" height="35.9" fill="none" stroke="#707070" stroke-width="1.0"/>
<text x="142.5" y="54.7" font-size="6.6" text-anchor="middle" fill="#111">01</text>
<text x="179.8" y="54.7" font-size="6.6" text-anchor="middle" fill="#111">11</text>
<text x="217.1" y="54.7" font-size="6.6" text-anchor="middle" fill="#111">21</text>
<text x="254.4" y="54.7" font-size="6.6" text-anchor="middle" fill="#111">31</text>
<rect x="417.3" y="10.1" width="123.4" height="35.9" fill="#fff"/>
<line x1="423.3" y1="10.1" x2="423.3" y2="46.0" stroke="#a0a0a0" stroke-width="0.8" stroke-dasharray="2.6,1.6"/>
<line x1="460.6" y1="10.1" x2="460.6" y2="46.0" stroke="#a0a0a0" stroke-width="0.8" stroke-dasharray="2.6,1.6"/>
<line x1="497.9" y1="10.1" x2="497.9" y2="46.0" stroke="#a0a0a0" stroke-width="0.8" stroke-dasharray="2.6,1.6"/>
<line x1="535.2" y1="10.1" x2="535.2" y2="46.0" stroke="#a0a0a0" stroke-width="0.8" stroke-dasharray="2.6,1.6"/>
<line x1="417.3" y1="19.8" x2="540.7" y2="19.8" stroke="#a0a0a0" stroke-width="0.8" stroke-dasharray="2.6,1.6"/>
<line x1="417.3" y1="30.6" x2="540.7" y2="30.6" stroke="#a0a0a0" stroke-width="0.8" stroke-dasharray="2.6,1.6"/>
<line x1="417.3" y1="40.8" x2="540.7" y2="40.8" stroke="#a0a0a0" stroke-width="0.8" stroke-dasharray="2.6,1.6"/>
<g fill="none" stroke-width="1.15" stroke-linejoin="round">
<path d="M423.3,44.2 L424.5,44.4 L425.7,44.4 L426.9,44.1 L428.1,43.1 L429.3,42.2 L430.5,41.6 L431.7,41.1 L432.9,40.6 L434.1,40.2 L435.3,39.8 L436.5,39.5 L437.7,39.1 L438.9,38.8 L440.1,38.6 L441.3,38.4 L442.5,38.2 L443.7,38.0 L444.9,37.8 L446.1,37.6 L447.3,37.3 L448.5,36.8 L449.7,36.3 L450.9,35.7 L452.1,35.1 L453.3,34.5 L454.5,33.9 L455.7,33.1 L456.9,32.2 L458.1,31.4 L459.3,30.9 L460.5,30.6 L461.7,30.7 L462.9,31.1 L464.1,31.6 L465.3,32.2 L466.5,32.8 L467.7,33.4 L468.9,34.0 L470.1,34.5 L471.3,35.1 L472.5,35.7 L473.7,36.4 L474.9,37.3 L476.1,38.5 L477.3,39.8 L478.5,40.6 L479.7,40.8 L480.9,40.6 L482.1,40.4 L483.3,40.1 L484.5,39.8 L485.7,39.3 L486.9,38.8 L488.1,38.2 L489.3,37.8 L490.5,37.4 L491.7,36.9 L492.9,36.5 L494.1,36.1 L495.3,35.7 L496.5,35.5 L497.7,35.4 L498.9,35.5 L500.1,35.7 L501.3,35.9 L502.5,36.2 L503.7,36.4 L504.9,36.6 L506.1,34.6 L507.3,26.4 L508.5,18.7 L509.7,17.5 L510.9,18.3 L512.1,19.0 L513.3,19.2 L514.5,19.2 L515.7,19.2 L516.9,19.2 L518.1,19.2 L519.3,19.2 L520.5,19.3 L521.7,19.3 L522.9,19.5 L524.1,19.7 L525.3,21.3 L526.5,30.7 L527.7,39.4 L528.9,39.0 L530.1,34.2 L531.3,29.8 L532.5,27.6 L533.7,25.8 L534.9,24.7 L535.2,24.6" stroke="#3f9f3f"/>
<path d="M423.3,40.8 L424.5,41.0 L425.7,41.2 L426.9,41.3 L428.1,41.4 L429.3,41.4 L430.5,41.4 L431.7,41.3 L432.9,41.3 L434.1,41.2 L435.3,41.1 L436.5,41.0 L437.7,40.9 L438.9,40.7 L440.1,40.4 L441.3,40.1 L442.5,39.7 L443.7,39.2 L444.9,38.8 L446.1,38.3 L447.3,38.0 L448.5,37.7 L449.7,37.4 L450.9,37.2 L452.1,37.0 L453.3,36.8 L454.5,36.4 L455.7,35.8 L456.9,35.1 L458.1,34.4 L459.3,33.8 L460.5,33.6 L461.7,33.6 L462.9,33.6 L464.1,33.6 L465.3,33.6 L466.5,33.6 L467.7,33.6 L468.9,33.7 L470.1,34.3 L471.3,34.9 L472.5,35.4 L473.7,35.4 L474.9,35.4 L476.1,35.4 L477.3,35.4 L478.5,35.4 L479.7,35.5 L480.9,36.9 L482.1,38.5 L483.3,39.0 L484.5,38.9 L485.7,38.6 L486.9,38.3 L488.1,38.0 L489.3,37.8 L490.5,37.6 L491.7,37.4 L492.9,37.2 L494.1,36.9 L495.3,36.8 L496.5,36.7 L497.7,36.6 L498.9,36.6 L500.1,36.7 L501.3,36.9 L502.5,37.0 L503.7,37.1 L504.9,37.2 L506.1,35.8 L507.3,29.9 L508.5,24.3 L509.7,23.4 L510.9,23.4 L512.1,23.5 L513.3,23.6 L514.5,23.7 L515.7,23.8 L516.9,23.9 L518.1,24.0 L519.3,24.1 L520.5,24.3 L521.7,24.5 L522.9,24.7 L524.1,24.9 L525.3,25.1 L526.5,25.2 L527.7,24.3 L528.9,19.8 L530.1,14.5 L531.3,11.5 L532.5,12.8 L533.7,17.4 L534.9,24.8 L535.2,27.0" stroke="#1f1fff"/>
<path d="M423.3,37.8 L424.5,38.1 L425.7,38.5 L426.9,38.7 L428.1,38.9 L429.3,39.1 L430.5,39.2 L431.7,39.2 L432.9,39.3 L434.1,39.3 L435.3,39.4 L436.5,39.5 L437.7,39.6 L438.9,39.7 L440.1,40.0 L441.3,40.3 L442.5,40.6 L443.7,40.8 L444.9,40.7 L446.1,40.2 L447.3,39.5 L448.5,38.8 L449.7,38.3 L450.9,37.8 L452.1,37.3 L453.3,36.8 L454.5,36.3 L455.7,35.8 L456.9,35.4 L458.1,35.1 L459.3,34.9 L460.5,34.8 L461.7,34.8 L462.9,34.8 L464.1,34.8 L465.3,34.8 L466.5,34.8 L467.7,34.8 L468.9,34.8 L470.1,34.8 L471.3,34.9 L472.5,34.9 L473.7,35.0 L474.9,35.0 L476.1,35.1 L477.3,35.2 L478.5,35.3 L479.7,35.5 L480.9,35.7 L482.1,36.1 L483.3,36.5 L484.5,36.9 L485.7,37.1 L486.9,37.2 L488.1,37.2 L489.3,37.1 L490.5,37.0 L491.7,36.9 L492.9,36.9 L494.1,36.8 L495.3,36.7 L496.5,36.6 L497.7,36.6 L498.9,36.6 L500.1,36.7 L501.3,36.9 L502.5,37.0 L503.7,37.1 L504.9,37.2 L506.1,36.2 L507.3,32.1 L508.5,28.2 L509.7,27.6 L510.9,27.7 L512.1,27.7 L513.3,27.9 L514.5,28.0 L515.7,28.1 L516.9,28.2 L518.1,28.2 L519.3,28.2 L520.5,28.2 L521.7,28.2 L522.9,28.2 L524.1,28.2 L525.3,28.2 L526.5,28.2 L527.7,27.7 L528.9,25.2 L530.1,22.1 L531.3,20.4 L532.5,20.4 L533.7,20.4 L534.9,20.4 L535.2,20.4" stroke="#ff3fff"/>
<path d="M423.3,34.8 L424.5,34.8 L425.7,34.9 L426.9,35.0 L428.1,35.1 L429.3,35.1 L430.5,35.2 L431.7,35.4 L432.9,35.5 L434.1,35.6 L435.3,35.8 L436.5,36.1 L437.7,36.3 L438.9,36.5 L440.1,36.7 L441.3,36.9 L442.5,37.1 L443.7,37.2 L444.9,37.2 L446.1,37.2 L447.3,37.3 L448.5,37.3 L449.7,37.3 L450.9,37.3 L452.1,37.3 L453.3,37.4 L454.5,37.4 L455.7,37.4 L456.9,37.4 L458.1,37.4 L459.3,37.5 L460.5,37.5 L461.7,37.6 L462.9,37.6 L464.1,37.6 L465.3,37.7 L466.5,37.7 L467.7,37.8 L468.9,37.8 L470.1,37.9 L471.3,38.0 L472.5,38.1 L473.7,38.2 L474.9,38.2 L476.1,38.3 L477.3,38.4 L478.5,38.4 L479.7,38.4 L480.9,38.4 L482.1,38.3 L483.3,38.2 L484.5,38.0 L485.7,37.9 L486.9,37.8 L488.1,37.6 L489.3,37.4 L490.5,37.1 L491.7,36.9 L492.9,36.6 L494.1,36.4 L495.3,36.2 L496.5,36.1 L497.7,36.0 L498.9,36.0 L500.1,36.2 L501.3,36.4 L502.5,36.7 L503.7,36.9 L504.9,37.0 L506.1,36.3 L507.3,33.6 L508.5,31.0 L509.7,30.6 L510.9,30.7 L512.1,30.7 L513.3,30.9 L514.5,31.0 L515.7,31.1 L516.9,31.2 L518.1,31.2 L519.3,31.2 L520.5,31.2 L521.7,31.1 L522.9,31.0 L524.1,30.9 L525.3,30.8 L526.5,30.7 L527.7,30.3 L528.9,29.1 L530.1,27.6 L531.3,26.5 L532.5,25.9 L533.7,25.5 L534.9,25.2 L535.2,25.2" stroke="#7fff5f"/>
<path d="M423.3,33.8 L424.5,33.9 L425.7,33.9 L426.9,34.0 L428.1,34.1 L429.3,34.1 L430.5,34.2 L431.7,34.3 L432.9,34.4 L434.1,34.5 L435.3,34.6 L436.5,34.7 L437.7,34.8 L438.9,34.9 L440.1,35.0 L441.3,35.1 L442.5,35.3 L443.7,35.4 L444.9,35.5 L446.1,35.7 L447.3,35.8 L448.5,35.9 L449.7,36.0 L450.9,36.1 L452.1,36.2 L453.3,36.2 L454.5,36.3 L455.7,36.3 L456.9,36.4 L458.1,36.4 L459.3,36.5 L460.5,36.6 L461.7,36.7 L462.9,36.9 L464.1,37.1 L465.3,37.3 L466.5,37.6 L467.7,37.8 L468.9,37.9 L470.1,38.1 L471.3,38.3 L472.5,38.4 L473.7,38.6 L474.9,38.7 L476.1,38.9 L477.3,38.9 L478.5,39.0 L479.7,39.0 L480.9,39.0 L482.1,38.9 L483.3,38.8 L484.5,38.6 L485.7,38.5 L486.9,38.4 L488.1,38.3 L489.3,38.1 L490.5,37.9 L491.7,37.8 L492.9,37.6 L494.1,37.4 L495.3,37.3 L496.5,37.2 L497.7,37.2 L498.9,37.2 L500.1,37.2 L501.3,37.3 L502.5,37.3 L503.7,37.4 L504.9,37.4 L506.1,36.8 L507.3,34.4 L508.5,32.2 L509.7,31.8 L510.9,31.8 L512.1,31.9 L513.3,31.9 L514.5,32.0 L515.7,32.1 L516.9,32.1 L518.1,32.2 L519.3,32.2 L520.5,32.3 L521.7,32.4 L522.9,32.5 L524.1,32.5 L525.3,32.6 L526.5,32.6 L527.7,32.3 L528.9,31.1 L530.1,29.7 L531.3,28.8 L532.5,28.8 L533.7,28.9 L534.9,29.3 L535.2,29.4" stroke="#ff4a3a"/>
</g>
<rect x="417.3" y="10.1" width="123.4" height="35.9" fill="none" stroke="#707070" stroke-width="1.0"/>
<text x="423.3" y="54.7" font-size="6.6" text-anchor="middle" fill="#111">01</text>
<text x="460.6" y="54.7" font-size="6.6" text-anchor="middle" fill="#111">11</text>
<text x="497.9" y="54.7" font-size="6.6" text-anchor="middle" fill="#111">21</text>
<text x="535.2" y="54.7" font-size="6.6" text-anchor="middle" fill="#111">31</text>
<rect x="262.4" y="13.7" width="32.0" height="13.2" rx="2.4" fill="#fff" stroke="#111" stroke-width="1.2"/>
<text x="278.4" y="22.9" font-size="8.4" text-anchor="middle" fill="#111">2021.1</text>
<rect x="380.1" y="13.7" width="33.2" height="13.2" rx="2.4" fill="#fff" stroke="#111" stroke-width="1.2"/>
<text x="396.7" y="22.9" font-size="8.4" text-anchor="middle" fill="#111">2021.7</text>
<path d="M297.2,20.3 A7.2,7.2 0 0 1 304.4,27.5 L304.4,102.1" fill="none" stroke="#111" stroke-width="1.2"/>
<path d="M301.7,101.2 L304.4,102.6 L307.1,101.2 L304.4,105.6 Z" fill="#111"/>
<path d="M377.6,19.9 L368.2,19.9 A7.2,7.2 0 0 0 361.0,27.1 L361.0,102.1" fill="none" stroke="#111" stroke-width="1.2"/>
<path d="M358.3,101.2 L361.0,102.6 L363.7,101.2 L361.0,105.6 Z" fill="#111"/>
<rect x="300.4" y="119.4" width="9.4" height="103.5" fill="#f6a9ae"/>
<rect x="356.9" y="119.4" width="9.0" height="103.5" fill="#a4b4c7"/>
<g clip-path="url(#c1)" fill="none" stroke-width="1.25" stroke-linejoin="round">
<path d="M75.5,194.7 L77.1,201.5 L78.8,200.4 L80.4,197.3 L82.0,198.7 L83.5,200.7 L85.1,197.0 L86.7,202.0 L88.2,195.7 L89.7,201.5 L91.2,200.1 L92.8,202.4 L94.3,198.4 L95.8,201.6 L97.3,198.5 L98.8,203.2 L100.3,196.9 L101.8,203.3 L103.4,196.6 L104.9,201.7 L106.4,199.3 L107.9,200.1 L109.4,199.0 L111.0,202.6 L112.5,201.4 L114.0,206.1 L115.5,199.2 L117.0,203.6 L118.5,202.9 L120.0,204.2 L121.5,204.3 L123.0,203.3 L124.5,198.5 L126.0,203.7 L127.5,200.0 L129.1,202.7 L130.6,198.4 L132.1,202.1 L133.6,198.7 L135.0,202.1 L136.7,202.5 L138.3,204.5 L140.0,200.8 L141.7,206.9 L143.3,208.1 L145.0,216.8 L146.7,210.1 L148.3,216.2 L150.3,218.1 L152.0,211.8 L153.5,208.3 L155.0,213.9 L156.7,209.9 L158.3,212.4 L160.0,209.8 L161.7,210.2 L163.3,207.1 L165.0,212.5 L166.7,207.1 L168.3,206.8 L170.0,204.0 L171.7,206.9 L173.3,200.2 L175.0,203.0 L176.7,199.1 L178.3,198.6 L180.0,196.5 L181.7,200.1 L183.3,195.4 L185.0,195.2 L186.3,194.2 L187.7,196.9 L189.0,196.9 M191.2,197.1 L192.5,197.6 L194.0,193.5 L195.5,195.3 L197.0,194.2 L198.5,200.9 L200.0,199.3 L201.7,201.7 L203.3,199.1 L205.0,200.5 L206.7,197.0 L208.3,201.8 L210.0,198.6 L211.6,200.3 L213.2,199.9 L214.8,203.2 L216.3,195.9 L217.9,199.9 L219.5,200.3 L220.9,202.1 L222.2,199.3 L223.6,204.8 L225.0,201.6 L226.5,204.4 L228.0,205.1 L229.6,206.2 L231.1,202.4 L232.6,207.1 L234.1,201.2 L235.6,204.5 L237.1,201.8 L238.6,204.1 L240.2,200.9 L241.7,205.2 L243.2,199.2 L244.7,201.8 L246.1,198.7 L247.6,200.7 L249.0,200.6 L250.5,202.9 L252.3,202.1 L254.1,202.7 L255.9,199.2 L257.3,203.9 L258.6,201.0 L260.0,212.8 L260.2,203.8 L261.4,220.8 L262.8,210.0 L264.1,208.4 L265.5,211.6 L267.0,206.8 L268.5,209.6 L270.0,208.2 L271.5,210.1 L273.0,208.7 L274.5,210.9 L276.0,204.9 L277.5,207.0 L279.1,201.7 L280.6,208.0 L282.1,200.0 L283.6,206.6 L285.1,201.6 L286.6,202.8 L288.1,198.4 L289.7,204.9 L291.2,202.0 L292.7,201.1 L294.2,198.6 L295.7,203.8 L297.2,199.6 L298.8,204.6 L300.3,197.6 L301.8,201.2 L303.3,196.4 L304.8,203.6 L306.4,195.8 L307.9,197.1 L309.4,196.6 L310.9,199.6 L312.4,198.3 L313.8,198.1 L315.3,195.4 L316.7,201.2 L318.2,199.2 L319.7,201.2 L321.1,201.0 L322.6,202.6 L324.0,198.5 L325.5,202.9 L327.1,199.1 L328.6,202.4 L330.2,201.9 L331.7,201.7 L333.3,201.0 L334.8,203.9 L336.4,200.7 L338.0,203.4 L339.5,199.6 L341.1,205.1 L342.6,200.3 L344.2,204.6 L345.7,201.6 L347.3,203.2 L348.8,201.7 L350.3,202.0 L351.9,202.5 L353.4,204.2 L354.9,201.2 L356.4,205.3 L357.9,200.7 L359.5,199.9 L361.0,199.9 L362.6,202.1 L364.1,202.0 L365.6,216.9 L367.1,194.4 L368.6,206.8 L370.2,196.1 L371.7,208.1 L373.2,198.1 L373.9,187.8 L375.1,221.9 L376.8,196.7 L377.8,205.6 L378.9,221.9 L380.5,203.5 L382.3,215.6 L383.8,208.8 L385.3,209.3 L386.9,204.2 L388.4,205.8 L389.9,203.0 L391.4,205.4 L392.9,204.2 L394.4,203.2 L395.9,200.7 L397.5,204.3 L399.0,201.1 L400.5,203.2 L402.0,200.6 L403.5,201.8 L405.0,200.1 L406.5,201.9 L408.0,200.2 L409.5,200.6 L411.0,200.6 L412.5,203.0 L414.1,199.0 L415.6,201.1 L417.1,195.8 L418.6,199.0 L420.4,197.3 L422.2,200.0 L424.0,195.2 L425.4,200.4 L426.8,195.2 L428.1,197.3 L429.5,195.2 L431.0,199.5 L432.4,195.8 L433.9,201.4 L435.3,198.8 L436.8,203.1 L438.3,197.4 L439.8,202.1 L441.4,197.6 L442.9,202.2 L444.4,201.4 L445.9,202.8 L447.4,200.0 L449.0,201.9 L450.5,199.6 L452.1,204.0 L453.7,204.4 L455.4,205.0 L457.0,202.3 L458.6,204.4 L460.2,201.7 L461.8,205.2 L463.4,200.0 L465.0,203.0 L466.5,199.4 L467.9,205.0 L469.4,199.8 L470.8,203.8 L472.3,198.7 L473.7,200.0 L475.2,199.7 L476.6,202.9 L478.1,196.7 L479.5,202.4 L481.1,199.4 L482.8,200.4 L484.4,197.7 L486.1,200.4 L487.7,200.4 M488.6,214.7 L490.2,217.8 L491.8,220.0 L493.4,219.8 L495.0,208.3 L496.4,210.6 L497.7,205.2 L499.5,205.1 L500.8,192.7 L503.2,206.9 L505.0,205.2 L506.8,203.4 L508.2,197.8 L509.5,199.4 L510.9,195.9 L512.3,203.7 L513.6,191.7 L515.3,201.6 L516.8,197.9 L518.4,205.0 L520.0,201.6 L521.6,204.3 L523.2,204.3" stroke="#3f9f3f" stroke-width="1.15"/>
<path d="M75.5,201.7 L77.1,195.8 L78.8,200.7 L80.4,200.7 L82.0,196.9 L83.5,197.5 L85.1,200.1 L86.7,197.2 L88.2,201.5 L89.7,196.2 L91.2,201.8 L92.8,199.4 L94.3,202.5 L95.8,198.9 L97.3,201.6 L98.8,198.6 L100.3,203.0 L101.8,196.8 L103.4,203.0 L104.9,196.9 L106.4,202.5 L107.9,200.0 L109.4,200.1 L111.0,199.5 L112.5,202.5 L114.0,201.1 L115.5,205.1 L117.0,200.1 L118.5,203.4 L120.0,202.8 L121.5,204.0 L123.0,203.9 L124.5,203.5 L126.0,198.9 L127.5,202.8 L129.1,200.3 L130.6,202.7 L132.1,198.8 L133.6,203.2 L135.0,199.2 L136.7,201.7 L138.3,202.9 L140.0,205.7 L141.7,202.9 L143.3,207.9 L145.0,209.5 L146.7,217.6 L149.0,216.9 L150.0,215.4 L152.0,211.2 L153.5,212.1 L155.0,207.1 L156.7,213.8 L158.3,208.5 L160.0,211.8 L161.7,208.9 L163.3,210.6 L165.0,205.8 L166.7,212.0 L168.3,206.5 L170.0,206.4 L171.7,203.2 L173.3,205.4 L175.0,200.8 L176.7,202.2 L178.3,198.1 L180.0,198.1 L181.7,196.1 L183.3,200.0 L185.0,195.8 L186.3,194.9 L187.7,192.9 L189.0,197.6 M191.2,198.2 L192.5,195.4 L194.0,197.8 L195.5,193.9 L197.0,195.9 L198.5,194.8 L200.0,200.7 L201.7,199.5 L203.3,201.8 L205.0,198.6 L206.7,199.7 L208.3,198.1 L210.0,202.1 L211.6,197.9 L213.2,200.0 L214.8,199.7 L216.3,202.4 L217.9,197.0 L219.5,200.6 L220.9,201.3 L222.2,202.9 L223.6,199.2 L225.0,205.3 L226.5,202.8 L228.0,204.5 L229.6,205.2 L231.1,206.3 L232.6,202.7 L234.1,206.2 L235.6,202.2 L237.1,204.7 L238.6,201.8 L240.2,203.6 L241.7,199.9 L243.2,204.8 L244.7,199.2 L246.1,201.3 L247.6,197.7 L249.0,201.1 L250.5,200.5 L252.3,203.1 L254.1,202.2 L255.9,201.0 L257.3,197.9 L258.6,203.5 L258.9,195.9 L260.1,211.5 L261.4,213.0 L262.8,209.6 L264.1,211.1 L265.5,208.4 L267.0,211.8 L268.5,208.0 L270.0,211.0 L271.5,208.3 L273.0,209.6 L274.5,207.4 L276.0,210.1 L277.5,204.4 L279.1,206.4 L280.6,201.0 L282.1,206.9 L283.6,199.9 L285.1,206.2 L286.6,200.7 L288.1,202.2 L289.7,198.6 L291.2,204.0 L292.7,202.0 L294.2,200.0 L295.7,198.3 L297.2,203.3 L298.8,199.3 L300.3,203.9 L301.8,198.1 L303.3,201.1 L304.8,195.9 L306.4,202.8 L307.9,195.7 L309.4,197.5 L310.9,197.0 L312.4,199.6 L313.8,198.1 L315.3,198.4 L316.7,195.9 L318.2,201.6 L319.7,199.8 L321.1,202.0 L322.6,201.1 L324.0,202.6 L325.5,199.3 L327.1,202.5 L328.6,199.0 L330.2,202.4 L331.7,202.0 L333.3,201.6 L334.8,201.2 L336.4,203.7 L338.0,201.6 L339.5,203.5 L341.1,199.4 L342.6,205.3 L344.2,201.8 L345.7,205.0 L347.3,202.0 L348.8,202.3 L350.3,201.5 L351.9,201.9 L353.4,202.4 L354.9,203.4 L356.4,201.3 L357.9,205.7 L359.5,200.4 L361.0,200.9 L362.6,199.3 L364.1,202.7 L365.6,200.7 L367.1,215.4 L368.6,195.6 L370.2,206.9 L371.7,195.4 L372.6,189.7 L373.8,221.9 L375.0,197.6 L376.4,201.3 L377.6,217.9 L378.6,201.1 L380.5,219.8 L382.3,200.7 L383.8,215.0 L385.3,207.0 L386.9,207.9 L388.4,203.6 L389.9,205.4 L391.4,201.9 L392.9,205.1 L394.4,203.3 L395.9,203.1 L397.5,201.1 L399.0,203.9 L400.5,200.7 L402.0,202.3 L403.5,200.8 L405.0,202.1 L406.5,200.3 L408.0,201.3 L409.5,200.8 L411.0,200.1 L412.5,200.4 L414.1,201.9 L415.6,198.7 L417.1,201.7 L418.6,196.5 L420.4,200.1 L422.2,197.5 L424.0,199.5 L425.4,193.6 L426.8,200.1 L428.1,195.0 L429.5,198.1 L431.0,195.7 L432.4,200.6 L433.9,197.5 L435.3,201.8 L436.8,199.7 L438.3,202.3 L439.8,197.2 L441.4,202.0 L442.9,198.2 L444.4,203.0 L445.9,201.8 L447.4,202.6 L449.0,201.3 L450.5,202.3 L452.1,200.7 L453.7,203.2 L455.4,205.3 L457.0,205.4 L458.6,202.3 L460.2,204.2 L461.8,201.6 L463.4,204.6 L465.0,200.8 L466.5,203.4 L467.9,200.1 L469.4,205.6 L470.8,200.1 L472.3,202.7 L473.7,198.3 L475.2,200.1 L476.6,198.7 L478.1,203.3 L479.5,196.8 L481.1,202.1 L482.8,198.8 L484.4,201.2 L486.1,197.4 L487.7,200.6 M488.6,215.9 L490.2,215.3 L491.8,216.6 L493.4,218.2 L495.0,215.0 L496.4,206.8 L497.7,209.9 L499.5,194.4 L501.4,205.5 L503.2,201.1 L505.0,206.9 L506.8,205.1 L508.2,203.8 L509.5,197.3 L510.9,199.2 L512.3,190.1 L513.8,201.7 L515.3,196.8 L516.8,202.2 L518.4,198.5 L520.0,205.0 L521.6,202.3 L523.2,203.7" stroke="#1f1fff" stroke-width="1.15"/>
<path d="M75.5,199.7 L77.1,198.7 L78.8,199.6 L80.4,199.2 L82.0,198.0 L83.5,198.3 L85.1,198.9 L86.7,198.9 L88.2,199.1 L89.7,199.2 L91.2,199.9 L92.8,200.7 L94.3,201.1 L95.8,201.2 L97.3,200.4 L98.8,200.7 L100.3,200.9 L101.8,200.5 L103.4,200.0 L104.9,199.7 L106.4,200.5 L107.9,200.2 L109.4,200.0 L111.0,200.8 L112.5,201.6 L114.0,202.9 L115.5,203.0 L117.0,202.4 L118.5,202.6 L120.0,203.1 L121.5,203.7 L123.0,203.8 L124.5,202.3 L126.0,201.2 L127.5,201.1 L129.1,201.3 L130.6,200.7 L132.1,199.8 L133.6,200.4 L135.0,200.5 L136.7,201.2 L138.3,202.3 L140.0,203.1 L141.7,204.0 L143.3,206.3 L145.0,210.2 L146.7,211.7 L148.3,212.2 L149.7,217.3 L152.0,212.4 L153.5,211.4 L155.0,211.5 L156.7,211.6 L158.3,211.4 L160.0,210.9 L161.7,210.0 L163.3,209.0 L165.0,209.0 L166.7,209.2 L168.3,207.8 L170.0,205.9 L171.7,205.2 L173.3,204.2 L175.0,202.3 L176.7,201.6 L178.3,200.0 L180.0,198.5 L181.7,198.6 L183.3,198.5 L185.0,196.4 L186.3,195.2 L187.7,195.2 L189.0,195.5 M191.2,197.8 L192.5,197.0 L194.0,196.0 L195.5,194.7 L197.0,195.2 L198.5,196.7 L200.0,198.4 L201.7,199.8 L203.3,200.7 L205.0,199.9 L206.7,199.1 L208.3,199.1 L210.0,199.5 L211.6,199.3 L213.2,199.3 L214.8,200.4 L216.3,200.3 L217.9,198.9 L219.5,199.9 L220.9,201.2 L222.2,201.1 L223.6,202.1 L225.0,203.1 L226.5,203.4 L228.0,204.3 L229.6,205.4 L231.1,205.3 L232.6,205.0 L234.1,204.0 L235.6,203.5 L237.1,203.5 L238.6,203.4 L240.2,202.5 L241.7,202.0 L243.2,201.8 L244.7,200.9 L246.1,199.6 L247.6,199.6 L249.0,199.7 L250.5,200.6 L252.3,201.8 L254.1,202.9 L255.9,201.6 L257.3,201.8 L258.6,201.8 L259.6,200.2 L260.8,212.1 L261.4,208.9 L262.8,210.6 L264.1,210.2 L265.5,210.0 L267.0,209.8 L268.5,209.2 L270.0,209.6 L271.5,209.8 L273.0,209.4 L274.5,209.1 L276.0,208.2 L277.5,206.8 L279.1,205.4 L280.6,204.7 L282.1,204.1 L283.6,204.2 L285.1,204.0 L286.6,202.8 L288.1,201.6 L289.7,201.6 L291.2,202.3 L292.7,201.5 L294.2,200.2 L295.7,200.5 L297.2,200.8 L298.8,201.4 L300.3,201.1 L301.8,200.1 L303.3,199.7 L304.8,199.8 L306.4,199.4 L307.9,197.8 L309.4,197.1 L310.9,197.7 L312.4,198.2 L313.8,198.1 L315.3,197.1 L316.7,197.4 L318.2,198.8 L319.7,199.5 L321.1,200.0 L322.6,200.9 L324.0,201.0 L325.5,200.9 L327.1,201.3 L328.6,201.1 L330.2,201.5 L331.7,201.7 L333.3,201.9 L334.8,202.7 L336.4,202.5 L338.0,201.9 L339.5,201.7 L341.1,202.0 L342.6,202.6 L344.2,203.1 L345.7,203.3 L347.3,202.8 L348.8,202.6 L350.3,202.1 L351.9,202.1 L353.4,202.9 L354.9,202.7 L356.4,202.9 L357.9,202.9 L359.5,201.9 L361.0,200.9 L362.6,201.1 L364.1,201.3 L365.6,205.1 L367.1,204.7 L368.6,200.7 L370.2,200.2 L371.7,201.1 L373.3,188.2 L374.4,216.2 L375.0,203.3 L376.8,205.1 L377.1,198.7 L378.2,211.3 L378.6,206.3 L380.5,210.7 L382.3,209.6 L383.8,209.8 L385.3,208.9 L386.9,207.3 L388.4,205.6 L389.9,204.4 L391.4,203.6 L392.9,203.7 L394.4,203.7 L395.9,202.8 L397.5,202.4 L399.0,202.2 L400.5,202.2 L402.0,201.8 L403.5,201.2 L405.0,201.3 L406.5,201.3 L408.0,200.9 L409.5,200.5 L411.0,200.0 L412.5,200.2 L414.1,200.3 L415.6,200.3 L417.1,199.9 L418.6,199.2 L420.4,199.2 L422.2,198.9 L424.0,197.5 L425.4,196.9 L426.8,196.9 L428.1,196.2 L429.5,196.3 L431.0,197.2 L432.4,197.8 L433.9,198.7 L435.3,200.2 L436.8,200.7 L438.3,200.1 L439.8,199.8 L441.4,199.9 L442.9,199.9 L444.4,200.6 L445.9,201.9 L447.4,201.8 L449.0,201.5 L450.5,201.9 L452.1,202.6 L453.7,203.7 L455.4,204.9 L457.0,205.2 L458.6,203.8 L460.2,203.1 L461.8,203.0 L463.4,202.3 L465.0,202.1 L466.5,202.1 L467.9,202.5 L469.4,202.4 L470.8,202.8 L472.3,201.9 L473.7,200.8 L475.2,200.1 L476.6,200.8 L478.1,200.1 L479.5,200.0 L481.1,200.3 L482.8,199.9 L484.4,199.5 L486.1,199.1 L487.7,199.2 M488.6,216.1 L490.2,216.2 L491.8,217.1 L493.4,219.2 L495.0,213.6 L496.4,209.4 L497.7,208.7 L500.2,198.7 L501.4,204.9 L503.2,204.4 L505.0,205.0 L506.8,205.6 L508.2,202.7 L509.5,200.1 L510.9,198.6 L513.0,194.7 L515.3,198.6 L516.8,199.3 L518.4,200.7 L520.0,202.2 L521.6,203.0 L523.2,203.0" stroke="#ff3fff" stroke-width="1.15"/>
<path d="M75.5,198.8 L77.1,199.4 L78.8,199.3 L80.4,198.5 L82.0,198.7 L83.5,198.7 L85.1,198.7 L86.7,198.3 L88.2,198.4 L89.7,199.1 L91.2,199.8 L92.8,199.9 L94.3,200.3 L95.8,200.6 L97.3,201.0 L98.8,200.7 L100.3,200.6 L101.8,200.3 L103.4,200.0 L104.9,199.9 L106.4,199.9 L107.9,200.0 L109.4,200.7 L111.0,201.2 L112.5,202.2 L114.0,202.6 L115.5,202.4 L117.0,202.7 L118.5,203.1 L120.0,203.2 L121.5,203.3 L123.0,202.6 L124.5,202.1 L126.0,202.0 L127.5,201.8 L129.1,201.2 L130.6,200.8 L132.1,200.2 L133.6,200.0 L135.0,200.6 L136.7,201.6 L138.3,201.7 L140.0,202.2 L141.7,204.3 L143.3,206.9 L145.0,208.9 L146.7,210.0 L148.3,211.6 L150.0,213.0 L150.9,215.0 L152.0,213.1 L153.5,213.2 L155.0,213.4 L156.7,212.7 L158.3,211.9 L160.0,211.2 L161.7,210.1 L163.3,209.3 L165.0,209.1 L166.7,208.2 L168.3,207.1 L170.0,206.4 L171.7,205.5 L173.3,204.2 L175.0,203.2 L176.7,201.7 L178.3,200.2 L180.0,199.5 L181.7,199.2 L183.3,198.1 L185.0,196.8 L186.3,196.7 L187.7,196.1 L189.0,195.9 M191.2,201.6 L192.5,197.1 L194.0,196.0 L195.5,195.0 L197.0,195.7 L198.5,197.0 L200.0,198.0 L201.7,198.7 L203.3,199.3 L205.0,199.5 L206.7,199.3 L208.3,199.2 L210.0,198.9 L211.6,199.1 L213.2,199.9 L214.8,199.9 L216.3,199.2 L217.9,199.4 L219.5,200.3 L220.9,200.4 L222.2,201.5 L223.6,202.5 L225.0,202.9 L226.5,203.5 L228.0,204.3 L229.6,204.4 L231.1,204.6 L232.6,205.0 L234.1,204.8 L235.6,204.4 L237.1,203.9 L238.6,203.1 L240.2,202.9 L241.7,202.5 L243.2,201.7 L244.7,200.8 L246.1,200.3 L247.6,199.8 L249.0,199.2 L250.5,199.5 L252.3,200.4 L254.1,200.7 L255.9,201.3 L257.3,201.5 L258.6,203.2 L260.0,205.4 L260.8,203.9 L261.9,210.7 L262.8,207.5 L264.1,209.4 L265.5,209.8 L267.0,209.6 L268.5,209.7 L270.0,209.7 L271.5,209.6 L273.0,210.0 L274.5,209.4 L276.0,208.2 L277.5,206.9 L279.1,206.4 L280.6,205.6 L282.1,204.9 L283.6,204.4 L285.1,203.6 L286.6,202.6 L288.1,202.3 L289.7,202.5 L291.2,201.7 L292.7,200.6 L294.2,200.8 L295.7,201.0 L297.2,201.2 L298.8,200.8 L300.3,200.3 L301.8,199.6 L303.3,199.7 L304.8,199.4 L306.4,198.5 L307.9,198.1 L309.4,198.3 L310.9,198.5 L312.4,198.3 L313.8,197.6 L315.3,197.7 L316.7,197.9 L318.2,198.4 L319.7,199.0 L321.1,199.7 L322.6,199.9 L324.0,200.5 L325.5,200.8 L327.1,200.9 L328.6,201.3 L330.2,201.5 L331.7,201.5 L333.3,201.8 L334.8,202.0 L336.4,201.9 L338.0,201.8 L339.5,202.1 L341.1,202.6 L342.6,202.7 L344.2,202.8 L345.7,202.8 L347.3,202.6 L348.8,202.3 L350.3,202.4 L351.9,202.9 L353.4,202.8 L354.9,203.0 L356.4,203.0 L357.9,202.2 L359.5,201.5 L361.0,201.5 L362.6,201.7 L364.1,204.1 L365.6,203.7 L367.1,201.8 L368.6,200.9 L370.2,200.9 L371.7,200.5 L373.2,201.1 L374.5,194.9 L375.6,210.9 L376.8,203.2 L378.3,202.5 L379.4,209.7 L380.5,208.0 L382.3,209.9 L383.8,209.1 L385.3,207.7 L386.9,206.7 L388.4,205.8 L389.9,205.3 L391.4,205.1 L392.9,204.6 L394.4,203.7 L395.9,203.4 L397.5,203.0 L399.0,202.4 L400.5,201.9 L402.0,201.6 L403.5,201.4 L405.0,201.2 L406.5,200.9 L408.0,200.4 L409.5,200.1 L411.0,200.4 L412.5,200.3 L414.1,200.3 L415.6,200.1 L417.1,200.1 L418.6,200.2 L420.4,199.8 L422.2,199.1 L424.0,198.6 L425.4,198.1 L426.8,197.2 L428.1,196.1 L429.5,196.4 L431.0,197.1 L432.4,198.2 L433.9,199.4 L435.3,200.6 L436.8,200.5 L438.3,200.3 L439.8,200.3 L441.4,200.3 L442.9,200.6 L444.4,200.7 L445.9,200.6 L447.4,200.7 L449.0,200.9 L450.5,201.5 L452.1,202.7 L453.7,203.7 L455.4,204.1 L457.0,204.7 L458.6,204.7 L460.2,204.2 L461.8,203.4 L463.4,202.2 L465.0,201.6 L466.5,202.1 L467.9,202.4 L469.4,202.7 L470.8,202.9 L472.3,202.3 L473.7,201.8 L475.2,201.9 L476.6,200.7 L478.1,199.7 L479.5,199.7 L481.1,199.7 L482.8,199.4 L484.4,199.4 L486.1,199.7 L487.7,199.8 M488.6,216.3 L490.2,217.0 L491.8,217.9 L493.4,217.3 L495.0,214.7 L496.4,211.5 L497.7,209.3 L499.5,207.1 L501.4,201.7 L503.2,206.2 L505.0,206.2 L506.8,204.0 L508.2,202.5 L509.5,201.1 L510.9,200.9 L512.3,200.4 L514.2,197.0 L515.3,198.6 L516.8,198.9 L518.4,200.4 L520.0,201.4 L521.6,202.4 L523.2,202.9" stroke="#7fff5f" stroke-width="1.15"/>
<path d="M75.5,199.7 L77.1,198.8 L78.8,198.7 L80.4,199.2 L82.0,198.6 L83.5,198.3 L85.1,198.6 L86.7,198.5 L88.2,198.4 L89.7,198.6 L91.2,199.0 L92.8,199.8 L94.3,200.2 L95.8,200.5 L97.3,200.9 L98.8,200.7 L100.3,200.8 L101.8,200.5 L103.4,200.3 L104.9,200.2 L106.4,199.8 L107.9,200.5 L109.4,200.6 L111.0,200.9 L112.5,201.6 L114.0,202.1 L115.5,202.9 L117.0,202.7 L118.5,202.4 L120.0,202.9 L121.5,202.9 L123.0,203.0 L124.5,203.0 L126.0,202.0 L127.5,201.6 L129.1,201.5 L130.6,201.1 L132.1,200.5 L133.6,200.1 L135.0,200.4 L136.7,200.6 L138.3,201.5 L140.0,202.1 L141.7,203.3 L143.3,204.9 L145.0,207.0 L146.7,209.6 L148.3,211.1 L150.0,212.6 L152.0,214.8 L153.5,213.9 L155.0,213.2 L156.7,212.8 L158.3,212.3 L160.0,211.3 L161.7,210.5 L163.3,209.6 L165.0,208.5 L166.7,208.3 L168.3,208.0 L170.0,207.0 L171.7,205.9 L173.3,205.1 L175.0,203.9 L176.7,202.6 L178.3,201.5 L180.0,200.0 L181.7,199.2 L183.3,198.9 L185.0,198.2 L186.3,197.1 L187.7,196.3 L189.0,195.8 M191.2,210.1 L192.5,197.5 L194.0,196.9 L195.5,196.1 L197.0,195.0 L198.5,195.7 L200.0,196.8 L201.7,198.1 L203.3,199.0 L205.0,199.8 L206.7,199.4 L208.3,199.1 L210.0,199.0 L211.6,199.2 L213.2,199.1 L214.8,199.5 L216.3,200.1 L217.9,199.8 L219.5,199.5 L220.9,200.5 L222.2,201.3 L223.6,201.6 L225.0,202.5 L226.5,203.3 L228.0,203.5 L229.6,204.2 L231.1,204.8 L232.6,204.9 L234.1,205.3 L235.6,204.7 L237.1,204.1 L238.6,203.7 L240.2,203.0 L241.7,202.3 L243.2,202.0 L244.7,201.4 L246.1,200.5 L247.6,199.8 L249.0,199.1 L250.5,198.6 L252.3,199.8 L254.1,201.0 L255.9,201.9 L257.3,201.6 L258.6,202.1 L260.0,202.6 L261.4,204.9 L262.8,207.4 L264.1,208.6 L265.5,209.9 L267.0,210.0 L268.5,209.9 L270.0,209.7 L271.5,209.9 L273.0,209.8 L274.5,209.8 L276.0,209.2 L277.5,208.1 L279.1,207.0 L280.6,205.9 L282.1,205.3 L283.6,204.4 L285.1,203.9 L286.6,203.6 L288.1,202.6 L289.7,201.8 L291.2,201.6 L292.7,201.5 L294.2,200.9 L295.7,200.4 L297.2,200.6 L298.8,200.6 L300.3,200.6 L301.8,200.3 L303.3,199.7 L304.8,199.2 L306.4,199.2 L307.9,199.0 L309.4,198.1 L310.9,198.0 L312.4,198.1 L313.8,198.1 L315.3,197.8 L316.7,197.3 L318.2,197.4 L319.7,198.4 L321.1,199.1 L322.6,199.8 L324.0,200.4 L325.5,200.8 L327.1,200.9 L328.6,201.1 L330.2,201.1 L331.7,201.5 L333.3,201.6 L334.8,201.6 L336.4,202.0 L338.0,202.0 L339.5,202.0 L341.1,202.0 L342.6,202.3 L344.2,202.7 L345.7,202.7 L347.3,202.9 L348.8,202.7 L350.3,202.6 L351.9,202.4 L353.4,202.6 L354.9,202.9 L356.4,202.7 L357.9,202.7 L359.5,202.6 L361.0,201.8 L362.6,201.5 L364.1,201.6 L365.6,201.5 L367.1,203.1 L368.6,202.1 L370.2,200.6 L371.7,200.5 L373.2,200.2 L375.0,201.4 L376.8,203.0 L378.6,203.8 L380.5,206.8 L382.3,209.7 L383.8,208.5 L385.3,208.9 L386.9,207.6 L388.4,206.7 L389.9,205.9 L391.4,205.2 L392.9,204.6 L394.4,204.4 L395.9,203.7 L397.5,202.9 L399.0,202.6 L400.5,202.1 L402.0,201.6 L403.5,201.4 L405.0,201.1 L406.5,200.8 L408.0,200.5 L409.5,200.3 L411.0,200.2 L412.5,200.3 L414.1,200.6 L415.6,200.5 L417.1,200.6 L418.6,200.5 L420.4,199.9 L422.2,199.5 L424.0,199.0 L425.4,198.1 L426.8,197.7 L428.1,197.3 L429.5,196.3 L431.0,197.0 L432.4,197.9 L433.9,198.7 L435.3,199.7 L436.8,200.8 L438.3,200.8 L439.8,200.4 L441.4,200.2 L442.9,200.2 L444.4,200.1 L445.9,200.4 L447.4,200.9 L449.0,201.2 L450.5,201.6 L452.1,202.1 L453.7,202.9 L455.4,204.0 L457.0,204.7 L458.6,205.2 L460.2,204.4 L461.8,203.5 L463.4,202.9 L465.0,201.9 L466.5,202.0 L467.9,202.3 L469.4,202.7 L470.8,203.1 L472.3,203.3 L473.7,202.4 L475.2,201.3 L476.6,200.8 L478.1,200.4 L479.5,199.3 L481.1,199.4 L482.8,199.8 L484.4,199.7 L486.1,199.6 L487.7,199.8 M488.6,216.3 L490.2,216.3 L491.8,216.6 L493.4,217.1 L495.0,217.7 L496.4,214.0 L497.7,210.6 L499.5,208.9 L501.4,206.8 L503.2,205.9 L505.0,205.6 L506.8,205.7 L508.2,204.5 L509.5,202.7 L510.9,201.3 L512.3,200.2 L513.8,199.8 L515.3,199.3 L516.8,198.3 L518.4,199.3 L520.0,200.5 L521.6,201.9 L523.2,202.8" stroke="#ff4a3a" stroke-width="1.2"/>
</g>
<rect x="53.0" y="119.4" width="492.6" height="103.5" fill="none" stroke="#9a9a9a" stroke-width="1.4"/>
<line x1="49.6" y1="119.4" x2="53.0" y2="119.4" stroke="#9a9a9a" stroke-width="1.1"/>
<text x="45.8" y="122.5" font-size="8.6" text-anchor="end" fill="#111">9</text>
<line x1="49.6" y1="143.8" x2="53.0" y2="143.8" stroke="#9a9a9a" stroke-width="1.1"/>
<text x="45.8" y="146.9" font-size="8.6" text-anchor="end" fill="#111">6</text>
<line x1="49.6" y1="168.2" x2="53.0" y2="168.2" stroke="#9a9a9a" stroke-width="1.1"/>
<text x="45.8" y="171.3" font-size="8.6" text-anchor="end" fill="#111">3</text>
<line x1="49.6" y1="192.7" x2="53.0" y2="192.7" stroke="#9a9a9a" stroke-width="1.1"/>
<text x="45.8" y="195.8" font-size="8.6" text-anchor="end" fill="#111">0</text>
<line x1="49.6" y1="217.1" x2="53.0" y2="217.1" stroke="#9a9a9a" stroke-width="1.1"/>
<text x="45.8" y="220.2" font-size="8.6" text-anchor="end" fill="#111">−3</text>
<line x1="73.6" y1="222.9" x2="73.6" y2="225.7" stroke="#9a9a9a" stroke-width="1.1"/>
<line x1="129.8" y1="222.9" x2="129.8" y2="225.7" stroke="#9a9a9a" stroke-width="1.1"/>
<line x1="187.0" y1="222.9" x2="187.0" y2="225.7" stroke="#9a9a9a" stroke-width="1.1"/>
<line x1="243.5" y1="222.9" x2="243.5" y2="225.7" stroke="#9a9a9a" stroke-width="1.1"/>
<line x1="300.4" y1="222.9" x2="300.4" y2="225.7" stroke="#9a9a9a" stroke-width="1.1"/>
<line x1="356.6" y1="222.9" x2="356.6" y2="225.7" stroke="#9a9a9a" stroke-width="1.1"/>
<line x1="413.8" y1="222.9" x2="413.8" y2="225.7" stroke="#9a9a9a" stroke-width="1.1"/>
<line x1="470.0" y1="222.9" x2="470.0" y2="225.7" stroke="#9a9a9a" stroke-width="1.1"/>
<line x1="527.2" y1="222.9" x2="527.2" y2="225.7" stroke="#9a9a9a" stroke-width="1.1"/>
<text x="58" y="128.3" font-size="8.7" fill="#111">Open Ice</text>
<g transform="translate(28.4,188.7) rotate(-90)" fill="#111"><text x="-0.3" y="0" font-size="10.2" font-style="italic" font-family="DejaVu Sans, sans-serif">σ</text><text x="6.2" y="-4.3" font-size="5.6" font-style="italic">0</text><text x="10.6" y="1.6" font-size="6.3" font-style="italic">VV, PC1</text></g>
<rect x="136.4" y="122.5" width="123.3" height="35.9" fill="#fff"/>
<line x1="142.5" y1="122.5" x2="142.5" y2="158.4" stroke="#a0a0a0" stroke-width="0.8" stroke-dasharray="2.6,1.6"/>
<line x1="179.8" y1="122.5" x2="179.8" y2="158.4" stroke="#a0a0a0" stroke-width="0.8" stroke-dasharray="2.6,1.6"/>
<line x1="217.1" y1="122.5" x2="217.1" y2="158.4" stroke="#a0a0a0" stroke-width="0.8" stroke-dasharray="2.6,1.6"/>
<line x1="254.4" y1="122.5" x2="254.4" y2="158.4" stroke="#a0a0a0" stroke-width="0.8" stroke-dasharray="2.6,1.6"/>
<line x1="136.4" y1="130.7" x2="259.7" y2="130.7" stroke="#a0a0a0" stroke-width="0.8" stroke-dasharray="2.6,1.6"/>
<line x1="136.4" y1="147.2" x2="259.7" y2="147.2" stroke="#a0a0a0" stroke-width="0.8" stroke-dasharray="2.6,1.6"/>
<g fill="none" stroke-width="1.15" stroke-linejoin="round">
<path d="M142.5,146.6 L143.7,145.8 L144.9,145.2 L146.1,144.9 L147.3,145.1 L148.5,145.5 L149.7,146.1 L150.9,146.5 L152.1,146.6 L153.3,145.4 L154.5,143.3 L155.7,141.1 L156.9,139.7 L158.1,139.7 L159.3,140.7 L160.5,142.2 L161.7,143.5 L162.9,144.2 L164.1,143.9 L165.3,143.1 L166.5,142.1 L167.7,141.3 L168.9,141.1 L170.1,141.3 L171.3,141.8 L172.5,142.2 L173.7,142.5 L174.9,142.4 L176.1,142.1 L177.3,141.5 L178.5,140.7 L179.7,139.6 L180.9,136.4 L182.1,130.7 L183.3,126.7 L184.5,126.0 L185.7,125.5 L186.9,125.2 L188.1,124.9 L189.3,124.7 L190.5,124.6 L191.7,124.7 L192.9,125.4 L194.1,126.6 L195.3,128.1 L196.5,129.8 L197.7,131.4 L198.9,133.0 L200.1,134.9 L201.3,137.2 L202.5,139.7 L203.7,142.3 L204.9,144.7 L206.1,146.9 L207.3,148.6 L208.5,149.7 L209.7,150.1 L210.9,149.6 L212.1,148.4 L213.3,146.6 L214.5,144.7 L215.7,142.6 L216.9,140.9 L218.1,139.3 L219.3,137.8 L220.5,136.3 L221.7,134.7 L222.9,133.2 L224.1,131.8 L225.3,130.2 L226.5,128.4 L227.7,127.1 L228.9,127.1 L230.1,128.4 L231.3,130.7 L232.5,133.5 L233.7,136.4 L234.9,139.1 L236.1,141.1 L237.3,142.9 L238.5,144.7 L239.7,146.3 L240.9,147.8 L242.1,149.1 L243.3,150.2 L244.5,151.1 L245.7,151.9 L246.9,152.7 L248.1,153.3 L249.3,153.9 L250.5,154.3 L251.7,154.7 L252.9,155.0 L254.1,155.3 L254.4,155.3" stroke="#3f9f3f"/>
<path d="M142.5,145.4 L143.7,144.7 L144.9,144.3 L146.1,144.2 L147.3,144.7 L148.5,145.8 L149.7,146.6 L150.9,146.5 L152.1,146.1 L153.3,145.6 L154.5,144.9 L155.7,144.2 L156.9,143.7 L158.1,143.3 L159.3,142.8 L160.5,142.6 L161.7,142.6 L162.9,143.3 L164.1,144.0 L165.3,144.1 L166.5,143.2 L167.7,142.2 L168.9,141.8 L170.1,142.2 L171.3,142.8 L172.5,143.0 L173.7,142.7 L174.9,142.1 L176.1,141.2 L177.3,140.1 L178.5,139.0 L179.7,137.9 L180.9,136.6 L182.1,135.1 L183.3,133.7 L184.5,132.5 L185.7,131.2 L186.9,130.0 L188.1,128.9 L189.3,128.1 L190.5,127.6 L191.7,127.7 L192.9,128.0 L194.1,128.5 L195.3,129.2 L196.5,129.9 L197.7,130.7 L198.9,131.5 L200.1,132.3 L201.3,133.3 L202.5,134.3 L203.7,135.5 L204.9,137.1 L206.1,139.3 L207.3,141.7 L208.5,143.5 L209.7,144.2 L210.9,144.2 L212.1,144.2 L213.3,144.2 L214.5,144.2 L215.7,144.2 L216.9,144.2 L218.1,143.7 L219.3,142.2 L220.5,140.8 L221.7,140.2 L222.9,139.8 L224.1,139.4 L225.3,139.1 L226.5,138.8 L227.7,138.5 L228.9,138.0 L230.1,137.4 L231.3,136.7 L232.5,136.2 L233.7,135.9 L234.9,136.3 L236.1,137.7 L237.3,139.6 L238.5,141.6 L239.7,143.3 L240.9,144.7 L242.1,146.1 L243.3,147.5 L244.5,148.8 L245.7,150.1 L246.9,151.3 L248.1,152.4 L249.3,153.4 L250.5,154.4 L251.7,155.3 L252.9,156.2 L254.1,157.0 L254.4,157.2" stroke="#1f1fff"/>
<path d="M142.5,146.6 L143.7,146.5 L144.9,146.4 L146.1,146.3 L147.3,146.2 L148.5,146.1 L149.7,145.9 L150.9,145.8 L152.1,145.6 L153.3,145.5 L154.5,145.3 L155.7,145.1 L156.9,144.8 L158.1,144.5 L159.3,144.3 L160.5,144.0 L161.7,143.7 L162.9,143.4 L164.1,143.1 L165.3,142.9 L166.5,142.7 L167.7,142.6 L168.9,142.4 L170.1,142.3 L171.3,142.0 L172.5,141.8 L173.7,141.3 L174.9,140.6 L176.1,139.8 L177.3,138.9 L178.5,138.0 L179.7,137.2 L180.9,136.3 L182.1,135.4 L183.3,134.5 L184.5,133.7 L185.7,133.0 L186.9,132.5 L188.1,132.2 L189.3,132.0 L190.5,131.9 L191.7,131.7 L192.9,131.7 L194.1,131.9 L195.3,132.4 L196.5,133.1 L197.7,133.7 L198.9,134.1 L200.1,134.5 L201.3,134.8 L202.5,135.1 L203.7,135.3 L204.9,135.6 L206.1,136.0 L207.3,136.3 L208.5,136.8 L209.7,137.2 L210.9,137.6 L212.1,138.0 L213.3,138.3 L214.5,138.5 L215.7,138.8 L216.9,139.1 L218.1,139.3 L219.3,139.4 L220.5,139.5 L221.7,139.4 L222.9,139.2 L224.1,138.8 L225.3,138.4 L226.5,138.0 L227.7,137.8 L228.9,137.8 L230.1,138.0 L231.3,138.2 L232.5,138.5 L233.7,138.9 L234.9,139.3 L236.1,139.6 L237.3,140.0 L238.5,140.5 L239.7,141.0 L240.9,141.4 L242.1,141.7 L243.3,141.8 L244.5,141.6 L245.7,141.3 L246.9,140.9 L248.1,140.7 L249.3,140.7 L250.5,141.4 L251.7,142.9 L252.9,144.8 L254.1,147.1 L254.4,147.7" stroke="#ff3fff"/>
<path d="M142.5,152.5 L143.7,152.3 L144.9,152.1 L146.1,151.8 L147.3,151.6 L148.5,151.3 L149.7,151.1 L150.9,150.8 L152.1,150.5 L153.3,150.2 L154.5,149.9 L155.7,149.6 L156.9,149.2 L158.1,148.8 L159.3,148.4 L160.5,148.0 L161.7,147.6 L162.9,147.2 L164.1,146.9 L165.3,146.5 L166.5,146.1 L167.7,145.8 L168.9,145.4 L170.1,145.0 L171.3,144.6 L172.5,144.1 L173.7,143.5 L174.9,142.8 L176.1,141.9 L177.3,141.1 L178.5,140.3 L179.7,139.6 L180.9,138.9 L182.1,138.2 L183.3,137.5 L184.5,136.9 L185.7,136.4 L186.9,136.0 L188.1,135.7 L189.3,135.4 L190.5,135.2 L191.7,135.0 L192.9,134.8 L194.1,134.7 L195.3,134.7 L196.5,134.9 L197.7,135.1 L198.9,135.5 L200.1,135.8 L201.3,136.2 L202.5,136.6 L203.7,136.9 L204.9,137.0 L206.1,137.1 L207.3,137.1 L208.5,137.1 L209.7,137.1 L210.9,137.1 L212.1,137.1 L213.3,137.1 L214.5,137.1 L215.7,137.1 L216.9,137.1 L218.1,137.1 L219.3,136.9 L220.5,136.7 L221.7,136.4 L222.9,136.1 L224.1,136.0 L225.3,135.8 L226.5,135.7 L227.7,135.6 L228.9,135.5 L230.1,135.4 L231.3,135.4 L232.5,135.4 L233.7,135.6 L234.9,136.0 L236.1,136.6 L237.3,137.2 L238.5,137.8 L239.7,138.4 L240.9,139.1 L242.1,139.8 L243.3,140.6 L244.5,141.4 L245.7,142.2 L246.9,143.0 L248.1,143.7 L249.3,144.5 L250.5,145.2 L251.7,146.0 L252.9,146.8 L254.1,147.5 L254.4,147.7" stroke="#7fff5f"/>
<path d="M142.5,153.6 L143.7,153.5 L144.9,153.5 L146.1,153.4 L147.3,153.3 L148.5,153.1 L149.7,153.0 L150.9,152.9 L152.1,152.7 L153.3,152.6 L154.5,152.4 L155.7,152.2 L156.9,152.0 L158.1,151.8 L159.3,151.5 L160.5,151.3 L161.7,151.0 L162.9,150.7 L164.1,150.3 L165.3,150.0 L166.5,149.5 L167.7,149.0 L168.9,148.5 L170.1,147.9 L171.3,147.2 L172.5,146.5 L173.7,145.6 L174.9,144.6 L176.1,143.5 L177.3,142.4 L178.5,141.4 L179.7,140.7 L180.9,140.0 L182.1,139.5 L183.3,139.0 L184.5,138.5 L185.7,138.1 L186.9,137.9 L188.1,137.7 L189.3,137.5 L190.5,137.4 L191.7,137.2 L192.9,137.2 L194.1,137.1 L195.3,137.1 L196.5,137.2 L197.7,137.3 L198.9,137.4 L200.1,137.6 L201.3,137.8 L202.5,137.9 L203.7,138.1 L204.9,138.2 L206.1,138.3 L207.3,138.4 L208.5,138.4 L209.7,138.5 L210.9,138.5 L212.1,138.6 L213.3,138.6 L214.5,138.7 L215.7,138.7 L216.9,138.7 L218.1,138.6 L219.3,138.5 L220.5,138.2 L221.7,137.9 L222.9,137.5 L224.1,137.1 L225.3,136.8 L226.5,136.6 L227.7,136.4 L228.9,136.4 L230.1,136.4 L231.3,136.5 L232.5,136.5 L233.7,136.6 L234.9,136.7 L236.1,136.8 L237.3,136.9 L238.5,137.0 L239.7,137.1 L240.9,137.2 L242.1,137.4 L243.3,137.6 L244.5,137.8 L245.7,138.0 L246.9,138.3 L248.1,138.6 L249.3,139.1 L250.5,139.6 L251.7,140.2 L252.9,140.9 L254.1,141.6 L254.4,141.8" stroke="#ff4a3a"/>
</g>
<rect x="136.4" y="122.5" width="123.3" height="35.9" fill="none" stroke="#707070" stroke-width="1.0"/>
<text x="142.5" y="167.1" font-size="6.6" text-anchor="middle" fill="#111">01</text>
<text x="179.8" y="167.1" font-size="6.6" text-anchor="middle" fill="#111">11</text>
<text x="217.1" y="167.1" font-size="6.6" text-anchor="middle" fill="#111">21</text>
<text x="254.4" y="167.1" font-size="6.6" text-anchor="middle" fill="#111">31</text>
<rect x="417.3" y="122.5" width="123.4" height="35.9" fill="#fff"/>
<line x1="423.3" y1="122.5" x2="423.3" y2="158.4" stroke="#a0a0a0" stroke-width="0.8" stroke-dasharray="2.6,1.6"/>
<line x1="460.6" y1="122.5" x2="460.6" y2="158.4" stroke="#a0a0a0" stroke-width="0.8" stroke-dasharray="2.6,1.6"/>
<line x1="497.9" y1="122.5" x2="497.9" y2="158.4" stroke="#a0a0a0" stroke-width="0.8" stroke-dasharray="2.6,1.6"/>
<line x1="535.2" y1="122.5" x2="535.2" y2="158.4" stroke="#a0a0a0" stroke-width="0.8" stroke-dasharray="2.6,1.6"/>
<line x1="417.3" y1="128.4" x2="540.7" y2="128.4" stroke="#a0a0a0" stroke-width="0.8" stroke-dasharray="2.6,1.6"/>
<line x1="417.3" y1="143.5" x2="540.7" y2="143.5" stroke="#a0a0a0" stroke-width="0.8" stroke-dasharray="2.6,1.6"/>
<g fill="none" stroke-width="1.15" stroke-linejoin="round">
<path d="M423.3,151.0 L424.5,150.0 L425.7,149.1 L426.9,148.2 L428.1,147.5 L429.3,146.9 L430.5,146.5 L431.7,146.2 L432.9,146.0 L434.1,145.9 L435.3,145.8 L436.5,145.6 L437.7,145.5 L438.9,145.4 L440.1,145.3 L441.3,145.1 L442.5,144.9 L443.7,144.5 L444.9,144.1 L446.1,143.6 L447.3,143.0 L448.5,142.5 L449.7,142.0 L450.9,141.5 L452.1,141.1 L453.3,140.9 L454.5,140.7 L455.7,140.5 L456.9,140.3 L458.1,140.2 L459.3,140.1 L460.5,140.1 L461.7,140.3 L462.9,141.1 L464.1,142.1 L465.3,143.4 L466.5,144.8 L467.7,146.0 L468.9,147.3 L470.1,148.7 L471.3,150.2 L472.5,151.7 L473.7,153.0 L474.9,154.1 L476.1,154.8 L477.3,155.5 L478.5,156.1 L479.7,156.6 L480.9,157.0 L482.1,157.2 L483.3,157.3 L484.5,156.9 L485.7,156.1 L486.9,155.1 L488.1,154.2 L489.3,153.5 L490.5,153.2 L491.7,153.4 L492.9,153.8 L494.1,154.3 L495.3,154.8 L496.5,155.2 L497.7,155.4 L498.9,155.2 L500.1,154.5 L501.3,153.5 L502.5,151.1 L503.7,146.0 L504.9,141.6 L506.1,140.4 L507.3,139.8 L508.5,139.4 L509.7,139.1 L510.9,138.8 L512.1,138.4 L513.3,138.0 L514.5,137.5 L515.7,136.9 L516.9,136.4 L518.1,135.9 L519.3,135.6 L520.5,135.6 L521.7,137.9 L522.9,141.2 L524.1,142.8 L525.3,140.3 L526.5,135.9 L527.7,132.7 L528.9,131.4 L530.1,130.5 L531.3,130.0 L532.5,130.4 L533.7,131.6 L534.9,133.5 L535.2,134.1" stroke="#3f9f3f"/>
<path d="M423.3,153.7 L424.5,152.4 L425.7,151.2 L426.9,150.0 L428.1,149.0 L429.3,148.3 L430.5,147.8 L431.7,147.5 L432.9,147.3 L434.1,147.2 L435.3,147.1 L436.5,147.0 L437.7,146.9 L438.9,146.8 L440.1,146.7 L441.3,146.5 L442.5,146.3 L443.7,145.9 L444.9,145.5 L446.1,145.0 L447.3,144.4 L448.5,143.9 L449.7,143.4 L450.9,142.9 L452.1,142.5 L453.3,142.3 L454.5,142.1 L455.7,141.9 L456.9,141.7 L458.1,141.6 L459.3,141.5 L460.5,141.5 L461.7,141.6 L462.9,142.0 L464.1,142.5 L465.3,143.2 L466.5,144.0 L467.7,144.8 L468.9,145.6 L470.1,146.8 L471.3,148.1 L472.5,149.5 L473.7,150.7 L474.9,151.5 L476.1,152.0 L477.3,152.3 L478.5,152.6 L479.7,152.8 L480.9,153.0 L482.1,153.2 L483.3,153.3 L484.5,153.5 L485.7,153.6 L486.9,153.7 L488.1,153.8 L489.3,154.0 L490.5,154.1 L491.7,154.2 L492.9,154.3 L494.1,154.4 L495.3,154.4 L496.5,154.5 L497.7,154.5 L498.9,154.2 L500.1,153.3 L501.3,152.1 L502.5,150.7 L503.7,148.6 L504.9,146.8 L506.1,146.0 L507.3,145.4 L508.5,144.9 L509.7,144.5 L510.9,144.2 L512.1,143.9 L513.3,143.6 L514.5,143.2 L515.7,142.7 L516.9,142.1 L518.1,141.3 L519.3,140.4 L520.5,139.3 L521.7,138.1 L522.9,136.8 L524.1,135.4 L525.3,133.5 L526.5,131.0 L527.7,128.3 L528.9,125.9 L530.1,124.1 L531.3,123.2 L532.5,124.6 L533.7,129.1 L534.9,135.2 L535.2,136.8" stroke="#1f1fff"/>
<path d="M423.3,153.2 L424.5,152.7 L425.7,152.2 L426.9,151.7 L428.1,151.3 L429.3,150.8 L430.5,150.4 L431.7,150.0 L432.9,149.6 L434.1,149.2 L435.3,148.9 L436.5,148.6 L437.7,148.3 L438.9,148.0 L440.1,147.7 L441.3,147.5 L442.5,147.2 L443.7,146.9 L444.9,146.6 L446.1,146.3 L447.3,145.9 L448.5,145.4 L449.7,144.9 L450.9,144.4 L452.1,143.9 L453.3,143.5 L454.5,143.1 L455.7,142.9 L456.9,142.8 L458.1,142.8 L459.3,142.9 L460.5,143.0 L461.7,143.2 L462.9,143.4 L464.1,143.6 L465.3,143.8 L466.5,144.3 L467.7,144.8 L468.9,145.5 L470.1,146.2 L471.3,147.0 L472.5,147.7 L473.7,148.3 L474.9,148.9 L476.1,149.3 L477.3,149.7 L478.5,150.1 L479.7,150.5 L480.9,150.8 L482.1,151.2 L483.3,151.5 L484.5,151.8 L485.7,152.1 L486.9,152.3 L488.1,152.5 L489.3,152.6 L490.5,152.6 L491.7,152.6 L492.9,152.6 L494.1,152.6 L495.3,152.6 L496.5,152.6 L497.7,152.6 L498.9,152.6 L500.1,152.6 L501.3,152.6 L502.5,151.8 L503.7,149.2 L504.9,146.8 L506.1,146.1 L507.3,145.8 L508.5,145.5 L509.7,145.2 L510.9,145.1 L512.1,144.9 L513.3,144.8 L514.5,144.7 L515.7,144.5 L516.9,144.4 L518.1,144.2 L519.3,143.9 L520.5,143.5 L521.7,143.0 L522.9,142.3 L524.1,141.4 L525.3,140.4 L526.5,139.3 L527.7,138.2 L528.9,136.8 L530.1,135.1 L531.3,134.1 L532.5,134.3 L533.7,135.0 L534.9,136.3 L535.2,136.8" stroke="#ff3fff"/>
<path d="M423.3,152.6 L424.5,152.3 L425.7,151.9 L426.9,151.6 L428.1,151.3 L429.3,151.0 L430.5,150.7 L431.7,150.4 L432.9,150.1 L434.1,149.9 L435.3,149.6 L436.5,149.4 L437.7,149.2 L438.9,149.0 L440.1,148.8 L441.3,148.6 L442.5,148.5 L443.7,148.3 L444.9,148.2 L446.1,148.0 L447.3,147.9 L448.5,147.7 L449.7,147.6 L450.9,147.5 L452.1,147.3 L453.3,147.2 L454.5,147.0 L455.7,146.9 L456.9,146.7 L458.1,146.5 L459.3,146.4 L460.5,146.4 L461.7,146.4 L462.9,146.5 L464.1,146.6 L465.3,146.7 L466.5,146.8 L467.7,147.0 L468.9,147.2 L470.1,147.4 L471.3,147.6 L472.5,147.8 L473.7,148.0 L474.9,148.2 L476.1,148.4 L477.3,148.6 L478.5,148.8 L479.7,149.1 L480.9,149.3 L482.1,149.6 L483.3,149.8 L484.5,150.1 L485.7,150.3 L486.9,150.5 L488.1,150.7 L489.3,150.9 L490.5,151.0 L491.7,151.1 L492.9,151.2 L494.1,151.4 L495.3,151.5 L496.5,151.6 L497.7,151.7 L498.9,151.7 L500.1,151.8 L501.3,151.8 L502.5,151.4 L503.7,150.2 L504.9,149.2 L506.1,149.1 L507.3,149.1 L508.5,149.1 L509.7,149.1 L510.9,149.1 L512.1,149.1 L513.3,149.1 L514.5,149.1 L515.7,149.1 L516.9,149.1 L518.1,149.1 L519.3,149.1 L520.5,149.1 L521.7,148.9 L522.9,148.4 L524.1,147.7 L525.3,146.9 L526.5,146.0 L527.7,145.0 L528.9,143.6 L530.1,141.9 L531.3,140.9 L532.5,141.0 L533.7,141.5 L534.9,142.7 L535.2,143.1" stroke="#7fff5f"/>
<path d="M423.3,153.2 L424.5,152.9 L425.7,152.7 L426.9,152.4 L428.1,152.2 L429.3,151.9 L430.5,151.7 L431.7,151.5 L432.9,151.3 L434.1,151.1 L435.3,150.9 L436.5,150.7 L437.7,150.6 L438.9,150.4 L440.1,150.3 L441.3,150.1 L442.5,150.0 L443.7,149.9 L444.9,149.8 L446.1,149.6 L447.3,149.5 L448.5,149.4 L449.7,149.3 L450.9,149.2 L452.1,149.2 L453.3,149.1 L454.5,149.0 L455.7,149.0 L456.9,148.9 L458.1,148.8 L459.3,148.8 L460.5,148.7 L461.7,148.7 L462.9,148.6 L464.1,148.6 L465.3,148.6 L466.5,148.5 L467.7,148.5 L468.9,148.5 L470.1,148.5 L471.3,148.4 L472.5,148.4 L473.7,148.4 L474.9,148.4 L476.1,148.4 L477.3,148.3 L478.5,148.3 L479.7,148.3 L480.9,148.3 L482.1,148.3 L483.3,148.3 L484.5,148.3 L485.7,148.3 L486.9,148.4 L488.1,148.4 L489.3,148.5 L490.5,148.6 L491.7,148.6 L492.9,148.7 L494.1,148.8 L495.3,148.9 L496.5,149.0 L497.7,149.1 L498.9,149.2 L500.1,149.3 L501.3,149.5 L502.5,149.7 L503.7,149.8 L504.9,149.9 L506.1,149.7 L507.3,148.7 L508.5,147.8 L509.7,147.7 L510.9,147.7 L512.1,147.8 L513.3,147.9 L514.5,148.0 L515.7,148.1 L516.9,148.2 L518.1,148.2 L519.3,148.3 L520.5,148.3 L521.7,148.2 L522.9,148.1 L524.1,147.9 L525.3,147.7 L526.5,147.4 L527.7,147.2 L528.9,146.9 L530.1,146.6 L531.3,146.4 L532.5,146.5 L533.7,146.9 L534.9,147.5 L535.2,147.7" stroke="#ff4a3a"/>
</g>
<rect x="417.3" y="122.5" width="123.4" height="35.9" fill="none" stroke="#707070" stroke-width="1.0"/>
<text x="423.3" y="167.1" font-size="6.6" text-anchor="middle" fill="#111">01</text>
<text x="460.6" y="167.1" font-size="6.6" text-anchor="middle" fill="#111">11</text>
<text x="497.9" y="167.1" font-size="6.6" text-anchor="middle" fill="#111">21</text>
<text x="535.2" y="167.1" font-size="6.6" text-anchor="middle" fill="#111">31</text>
<rect x="262.4" y="126.1" width="32.0" height="13.2" rx="2.4" fill="#fff" stroke="#111" stroke-width="1.2"/>
<text x="278.4" y="135.3" font-size="8.4" text-anchor="middle" fill="#111">2021.1</text>
<rect x="380.1" y="126.1" width="33.2" height="13.2" rx="2.4" fill="#fff" stroke="#111" stroke-width="1.2"/>
<text x="396.7" y="135.3" font-size="8.4" text-anchor="middle" fill="#111">2021.7</text>
<path d="M297.2,132.7 A7.2,7.2 0 0 1 304.4,139.9 L304.4,214.5" fill="none" stroke="#111" stroke-width="1.2"/>
<path d="M301.7,213.6 L304.4,215.0 L307.1,213.6 L304.4,218.0 Z" fill="#111"/>
<path d="M377.6,132.3 L368.2,132.3 A7.2,7.2 0 0 0 361.0,139.5 L361.0,214.5" fill="none" stroke="#111" stroke-width="1.2"/>
<path d="M358.3,213.6 L361.0,215.0 L363.7,213.6 L361.0,218.0 Z" fill="#111"/>
<rect x="300.4" y="231.8" width="9.4" height="103.59999999999997" fill="#f6a9ae"/>
<rect x="356.9" y="231.8" width="9.0" height="103.59999999999997" fill="#a4b4c7"/>
<g clip-path="url(#c2)" fill="none" stroke-width="1.25" stroke-linejoin="round">
<path d="M75.5,297.6 L77.0,301.7 L78.5,300.6 L80.0,304.4 L81.7,300.9 L83.3,304.9 L85.0,302.6 L86.7,304.6 L88.3,301.9 L90.0,304.2 L91.7,299.9 L93.3,303.9 L95.0,302.5 L96.7,304.9 L98.3,298.3 L100.0,304.4 L101.7,304.9 L103.3,305.4 L105.0,295.2 L106.7,307.7 L108.3,301.0 L110.0,307.6 L112.2,291.7 L113.3,307.5 L115.0,298.3 L116.7,302.6 L118.3,297.4 L120.0,303.5 L121.7,300.2 L123.3,306.5 L125.0,300.1 L126.7,308.6 L128.3,302.2 L130.0,309.6 L131.7,300.1 L133.3,306.2 L135.0,302.9 L136.7,305.6 L138.3,301.6 L140.0,304.5 L141.7,301.1 L143.3,305.4 L145.0,305.2 L146.7,301.8 L148.3,302.7 L150.0,310.3 L151.7,302.1 L153.3,304.9 L155.0,304.0 L156.7,310.8 L158.3,302.2 L160.0,308.2 L161.7,301.5 L163.3,307.5 L165.0,302.2 L166.7,307.2 L168.3,300.6 L170.0,303.6 L171.4,297.6 L172.7,301.1 L174.1,299.4 L175.6,304.6 L177.1,300.0 L178.6,307.5 L180.2,300.8 L181.7,304.2 L183.2,302.8 L184.7,302.6 L186.2,291.0 L187.4,307.0 L187.7,299.0 M189.1,300.4 L190.2,316.4 L192.3,305.0 L193.8,309.4 L195.3,303.5 L196.9,310.2 L198.4,302.3 L199.9,307.4 L201.4,305.5 L202.9,310.8 L204.4,304.9 L205.9,307.9 L207.5,305.5 L209.0,309.4 L210.5,306.0 L212.0,308.1 L213.5,306.1 L215.0,310.4 L216.5,303.0 L218.0,305.8 L219.5,299.8 L221.0,307.2 L222.4,298.1 L223.9,299.0 L225.3,293.2 L226.3,291.2 L228.3,298.2 L229.7,302.7 L231.2,296.4 L232.6,303.6 L234.1,296.5 L235.7,303.4 L237.3,298.1 L238.9,302.1 L240.4,298.6 L242.0,300.3 L243.6,298.6 L245.2,302.4 L246.8,299.0 L248.3,304.9 L249.8,300.7 L251.4,306.2 L252.9,299.2 L254.4,305.4 L255.9,301.1 L257.4,308.4 L258.9,303.2 L260.4,306.7 L262.0,302.1 L263.5,308.0 L265.0,302.2 L266.5,309.9 L267.9,303.5 L269.4,305.6 L270.9,302.2 L272.3,303.0 L273.8,301.0 L275.3,305.3 L276.7,300.1 L278.2,306.3 L279.7,303.1 L281.2,306.3 L282.8,300.1 L284.3,304.8 L285.8,303.7 L287.3,305.6 L288.8,304.0 L290.3,310.2 L291.8,303.3 L293.4,308.4 L294.9,302.4 L296.4,304.9 L297.9,301.9 L299.4,306.6 L300.9,301.4 L302.5,307.5 L304.0,304.9 L305.5,308.1 L307.1,297.5 L308.7,304.1 L310.3,298.6 L311.9,305.1 L313.4,298.6 L315.0,305.3 L316.6,297.0 L318.2,301.1 L319.8,298.7 L321.4,303.8 L323.0,301.1 L324.5,306.4 L326.1,302.9 L327.7,309.3 L329.3,300.3 L330.9,303.2 L332.4,301.2 L333.8,303.8 L335.3,297.1 L336.7,300.4 L338.2,295.0 L340.0,300.6 L341.8,295.5 L343.6,300.9 L345.1,296.2 L346.5,300.9 L348.0,298.6 L349.4,301.9 L350.9,295.2 L352.6,300.8 L354.3,297.9 L356.0,304.3 L357.6,301.5 L359.2,304.8 L360.9,300.2 L362.5,305.3 L364.1,302.6 L365.6,310.0 L367.1,306.0 L368.6,310.5 L370.2,304.7 L371.7,308.5 L373.2,303.7 L374.7,307.3 L376.2,305.5 L377.8,309.5 L379.3,304.6 L380.8,308.1 L382.3,301.1 L383.8,305.5 L385.3,299.0 L386.9,307.0 L388.4,299.1 L389.9,306.0 L391.4,305.4 L392.9,306.9 L394.4,299.9 L395.9,306.6 L397.5,306.0 L399.0,308.2 L400.5,303.2 L402.0,307.4 L403.5,302.0 L405.0,310.8 L406.5,301.7 L408.0,305.7 L409.5,303.7 L411.0,310.2 L412.4,307.6 L413.9,311.6 L415.3,307.2 L416.8,311.1 L418.3,309.7 L419.7,313.8 L421.2,311.0 L422.6,312.5 L424.1,306.9 L425.6,309.0 L427.0,306.9 L428.5,307.7 L429.9,306.0 L431.4,309.0 L432.9,302.9 L434.4,306.2 L435.9,299.8 L437.5,307.4 L439.0,296.5 L440.5,307.4 L442.0,300.2 L443.5,303.8 L445.0,295.7 L446.5,294.4 L448.0,293.0 L449.5,301.0 L451.0,299.7 L452.6,305.1 L454.1,300.3 L455.6,301.4 L457.1,296.9 L458.6,305.0 L460.2,298.5 L461.7,302.5 L463.2,299.9 L464.7,302.3 L466.2,301.7 L467.8,303.9 L469.3,301.0 L470.8,303.3 L472.3,300.8 L473.8,303.4 L475.3,302.9 L476.9,305.8 L478.4,301.5 L479.9,306.8 L481.4,304.0 L483.2,304.3 L485.0,304.4 L486.8,304.4 M488.6,308.0 L490.0,310.8 L491.4,302.5 L492.7,306.2 L494.1,303.7 L495.6,307.3 L497.1,301.5 L498.6,304.3 L500.2,300.7 L501.7,307.0 L503.2,298.6 L504.7,303.8 L506.2,301.2 L507.8,304.1 L509.3,296.9 L510.8,303.3 L512.3,300.0 L513.8,304.5 L515.3,299.3 L516.8,302.2 L518.4,299.7 L519.9,304.2 L521.4,304.5 L523.2,304.3" stroke="#3f9f3f" stroke-width="1.15"/>
<path d="M75.5,302.8 L77.0,297.7 L78.5,301.6 L80.0,300.7 L81.7,304.4 L83.3,300.9 L85.0,306.5 L86.7,302.9 L88.3,304.6 L90.0,302.3 L91.7,304.2 L93.3,299.8 L95.0,304.1 L96.7,302.5 L98.3,304.1 L100.0,298.7 L101.7,304.6 L103.3,304.3 L105.0,303.4 L106.7,295.1 L108.3,307.4 L110.0,301.0 L110.9,294.5 L113.3,299.2 L115.0,308.2 L116.7,298.8 L118.3,302.6 L120.0,298.3 L121.7,304.2 L123.3,301.4 L125.0,306.5 L126.7,300.5 L128.3,307.7 L130.0,301.8 L131.7,307.9 L133.3,300.9 L135.0,305.2 L136.7,303.4 L138.3,305.5 L140.0,302.4 L141.7,306.3 L143.3,301.9 L145.0,305.0 L146.7,304.0 L148.3,302.6 L150.0,301.8 L151.7,310.1 L153.3,302.4 L155.0,305.9 L156.7,305.0 L158.3,310.2 L160.0,301.7 L161.7,307.6 L163.3,301.7 L165.0,306.8 L166.7,301.8 L168.3,306.8 L170.0,299.8 L171.4,303.5 L172.7,297.6 L174.1,301.7 L175.6,300.4 L177.1,303.9 L178.6,300.5 L180.2,307.4 L181.7,301.7 L183.2,303.9 L184.7,302.6 L184.9,295.4 L186.1,310.1 L187.7,299.8 M189.5,310.9 L190.0,305.3 L192.3,310.3 L193.8,305.7 L195.3,309.1 L196.9,303.6 L198.4,308.9 L199.9,302.1 L201.4,307.3 L202.9,304.1 L204.4,310.2 L205.9,304.6 L207.5,307.7 L209.0,305.8 L210.5,309.0 L212.0,305.6 L213.5,308.2 L215.0,305.6 L216.5,310.3 L218.0,301.6 L219.5,305.0 L221.0,298.2 L222.4,304.9 L223.9,296.1 L225.0,289.6 L226.8,292.0 L228.3,303.4 L229.7,299.0 L231.2,304.0 L232.6,296.9 L234.1,304.7 L235.7,297.1 L237.3,304.1 L238.9,298.8 L240.4,302.0 L242.0,297.9 L243.6,301.1 L245.2,299.3 L246.8,301.8 L248.3,300.0 L249.8,305.8 L251.4,301.6 L252.9,306.0 L254.4,299.3 L255.9,305.9 L257.4,301.2 L258.9,307.9 L260.4,304.1 L262.0,306.4 L263.5,303.3 L265.0,307.6 L266.5,301.6 L267.9,309.5 L269.4,303.9 L270.9,306.1 L272.3,301.1 L273.8,303.7 L275.3,300.0 L276.7,306.6 L278.2,299.7 L279.7,305.6 L281.2,302.4 L282.8,305.9 L284.3,300.5 L285.8,305.6 L287.3,303.5 L288.8,305.3 L290.3,303.1 L291.8,308.7 L293.4,303.8 L294.9,307.8 L296.4,301.4 L297.9,305.2 L299.4,301.5 L300.9,306.8 L302.5,301.4 L304.0,306.9 L305.5,304.4 L307.1,307.4 L308.7,298.0 L310.3,304.4 L311.9,298.1 L313.4,304.7 L315.0,298.3 L316.6,304.3 L318.2,298.9 L319.8,301.1 L321.4,300.4 L323.0,304.7 L324.5,301.6 L326.1,305.8 L327.7,305.2 L329.3,308.3 L330.9,300.3 L332.4,302.4 L333.8,300.3 L335.3,302.2 L336.7,295.6 L338.2,301.8 L340.0,294.0 L341.8,300.3 L343.6,297.0 L345.1,301.9 L346.5,296.6 L348.0,302.2 L349.4,298.4 L350.9,301.5 L352.6,295.2 L354.3,301.5 L356.0,300.0 L357.6,305.2 L359.2,303.1 L360.9,305.2 L362.5,300.2 L364.1,306.5 L365.6,302.6 L367.1,309.1 L368.6,305.0 L370.2,310.6 L371.7,305.4 L373.2,308.0 L374.7,303.7 L376.2,307.6 L377.8,305.5 L379.3,308.8 L380.8,304.1 L382.3,307.8 L383.8,301.4 L385.3,305.9 L386.9,300.3 L388.4,306.4 L389.9,299.2 L391.4,305.8 L392.9,305.2 L394.4,307.6 L395.9,301.0 L397.5,306.5 L399.0,306.2 L400.5,308.2 L402.0,302.9 L403.5,306.8 L405.0,302.8 L406.5,310.3 L408.0,301.8 L409.5,307.3 L411.0,304.0 L412.4,310.3 L413.9,307.0 L415.3,312.1 L416.8,308.5 L418.3,312.4 L419.7,310.7 L421.2,314.1 L422.6,310.0 L424.1,311.5 L425.6,306.2 L427.0,309.4 L428.5,305.9 L429.9,307.8 L431.4,305.0 L432.9,309.0 L434.4,302.4 L435.9,305.4 L437.5,300.4 L439.0,306.5 L440.5,297.8 L442.0,308.2 L443.5,297.7 L445.0,300.7 L446.5,293.0 L448.0,295.7 L449.5,293.8 L451.0,302.2 L452.6,300.1 L454.1,305.2 L455.6,300.8 L457.1,302.4 L458.6,296.5 L460.2,304.0 L461.7,298.4 L463.2,303.2 L464.7,300.3 L466.2,302.6 L467.8,302.5 L469.3,304.2 L470.8,300.3 L472.3,302.9 L473.8,300.3 L475.3,303.5 L476.9,303.0 L478.4,306.6 L479.9,302.0 L481.4,306.6 L483.2,303.9 L485.0,304.6 L486.8,304.5 M488.6,309.7 L490.0,305.9 L491.4,311.1 L492.7,302.4 L494.1,306.5 L495.6,303.3 L497.1,306.7 L498.6,301.6 L500.2,304.5 L501.7,300.8 L503.2,306.4 L504.7,299.6 L506.2,303.4 L507.8,300.9 L509.3,304.2 L510.8,297.7 L512.3,303.6 L513.8,299.9 L515.3,303.9 L516.8,299.6 L518.4,302.1 L519.9,301.4 L521.4,305.6 L523.2,304.3" stroke="#1f1fff" stroke-width="1.15"/>
<path d="M75.5,301.7 L77.0,300.6 L78.5,301.0 L80.0,302.9 L81.7,303.2 L83.3,303.0 L85.0,303.8 L86.7,303.7 L88.3,304.0 L90.0,304.1 L91.7,303.1 L93.3,302.7 L95.0,303.5 L96.7,303.3 L98.3,302.3 L100.0,302.1 L101.7,303.4 L103.3,304.2 L105.0,302.1 L106.7,301.7 L108.3,303.8 L110.0,303.8 L111.6,296.3 L113.3,303.3 L115.0,303.4 L116.7,301.9 L118.3,301.1 L120.0,301.5 L121.7,302.1 L123.3,302.9 L125.0,303.1 L126.7,303.3 L128.3,304.2 L130.0,304.9 L131.7,304.2 L133.3,303.1 L135.0,303.7 L136.7,304.2 L138.3,304.1 L140.0,304.1 L141.7,304.1 L143.3,303.4 L145.0,303.9 L146.7,303.7 L148.3,303.1 L150.0,304.8 L151.7,305.8 L153.3,304.5 L155.0,304.3 L156.7,305.8 L158.3,306.1 L160.0,304.9 L161.7,304.5 L163.3,304.7 L165.0,304.4 L166.7,304.2 L168.3,303.8 L170.0,302.1 L171.4,300.7 L172.7,300.3 L174.1,301.2 L175.6,301.9 L177.1,302.2 L178.6,303.1 L180.2,304.0 L181.7,303.8 L183.2,303.0 L184.7,302.9 L185.6,296.0 L186.8,307.2 L187.7,300.8 M189.5,309.2 L190.0,308.7 L192.3,307.9 L193.8,307.9 L195.3,306.9 L196.9,306.5 L198.4,306.7 L199.9,306.0 L201.4,305.9 L202.9,307.1 L204.4,307.1 L205.9,306.3 L207.5,306.8 L209.0,307.4 L210.5,307.1 L212.0,306.9 L213.5,306.7 L215.0,307.3 L216.5,306.6 L218.0,305.2 L219.5,303.3 L221.0,303.3 L222.4,302.1 L223.9,299.2 L225.7,289.4 L226.8,296.9 L228.3,300.3 L229.7,301.1 L231.2,300.0 L232.6,300.0 L234.1,300.3 L235.7,300.5 L237.3,301.0 L238.9,300.7 L240.4,300.4 L242.0,300.3 L243.6,299.8 L245.2,300.4 L246.8,301.0 L248.3,301.5 L249.8,302.4 L251.4,303.0 L252.9,302.8 L254.4,302.4 L255.9,303.1 L257.4,304.6 L258.9,305.3 L260.4,305.2 L262.0,304.9 L263.5,305.2 L265.0,305.0 L266.5,305.5 L267.9,306.1 L269.4,305.9 L270.9,304.9 L272.3,303.6 L273.8,303.0 L275.3,303.0 L276.7,302.4 L278.2,302.6 L279.7,303.5 L281.2,304.3 L282.8,303.9 L284.3,303.7 L285.8,304.6 L287.3,304.8 L288.8,304.4 L290.3,305.4 L291.8,306.1 L293.4,305.7 L294.9,305.3 L296.4,304.7 L297.9,304.1 L299.4,304.7 L300.9,304.8 L302.5,304.4 L304.0,305.1 L305.5,305.5 L307.1,303.8 L308.7,301.8 L310.3,301.4 L311.9,301.9 L313.4,302.0 L315.0,301.6 L316.6,300.3 L318.2,300.3 L319.8,300.7 L321.4,302.0 L323.0,303.2 L324.5,303.9 L326.1,305.1 L327.7,306.2 L329.3,306.4 L330.9,303.5 L332.4,302.3 L333.8,302.3 L335.3,300.5 L336.7,298.9 L338.2,298.3 L340.0,297.8 L341.8,297.6 L343.6,298.4 L345.1,298.8 L346.5,299.2 L348.0,299.8 L349.4,300.5 L350.9,299.5 L352.6,298.7 L354.3,299.4 L356.0,301.1 L357.6,302.3 L359.2,302.9 L360.9,302.9 L362.5,303.8 L364.1,304.1 L365.6,305.3 L367.1,306.4 L368.6,306.9 L370.2,307.2 L371.7,307.1 L373.2,306.5 L374.7,306.2 L376.2,306.2 L377.8,306.8 L379.3,306.6 L380.8,305.9 L382.3,304.7 L383.8,304.1 L385.3,303.3 L386.9,303.3 L388.4,303.8 L389.9,303.1 L391.4,304.2 L392.9,305.4 L394.4,304.7 L395.9,304.2 L397.5,305.2 L399.0,306.6 L400.5,306.2 L402.0,305.6 L403.5,305.1 L405.0,305.7 L406.5,305.4 L408.0,304.1 L409.5,304.9 L411.0,306.5 L412.4,307.8 L413.9,309.3 L415.3,309.6 L416.8,309.6 L418.3,310.5 L419.7,311.3 L421.2,312.0 L422.6,312.5 L424.1,310.5 L425.6,309.0 L427.0,308.0 L428.5,307.4 L429.9,306.7 L431.4,307.0 L432.9,306.1 L434.4,304.9 L435.9,304.2 L437.5,304.1 L439.0,303.1 L440.5,303.4 L442.0,303.7 L443.5,303.1 L445.0,300.0 L446.5,297.0 L448.0,293.5 L449.5,295.7 L451.0,298.3 L452.6,301.5 L454.1,302.0 L455.6,301.9 L457.1,300.8 L458.6,300.8 L460.2,301.3 L461.7,301.3 L463.2,301.4 L464.7,301.4 L466.2,301.9 L467.8,302.2 L469.3,302.0 L470.8,302.3 L472.3,302.2 L473.8,302.2 L475.3,302.8 L476.9,303.8 L478.4,304.2 L479.9,303.9 L481.4,304.2 L483.2,303.7 L485.0,304.1 L486.8,304.7 M488.6,310.0 L490.0,309.6 L491.4,307.7 L492.7,304.9 L494.1,304.7 L495.6,304.9 L497.1,304.3 L498.6,303.6 L500.2,303.2 L501.7,303.6 L503.2,303.3 L504.7,302.2 L506.2,301.9 L507.8,301.9 L509.3,300.7 L510.8,300.4 L512.3,301.0 L513.8,301.7 L515.3,302.1 L516.8,301.3 L518.4,301.0 L519.9,301.2 L521.4,304.5 L523.2,305.0" stroke="#ff3fff" stroke-width="1.15"/>
<path d="M75.5,302.3 L77.0,302.3 L78.5,302.4 L80.0,302.4 L81.7,302.7 L83.3,303.5 L85.0,303.7 L86.7,303.9 L88.3,304.3 L90.0,304.1 L91.7,303.5 L93.3,303.6 L95.0,303.6 L96.7,303.1 L98.3,302.4 L100.0,303.0 L101.7,303.6 L103.3,302.5 L105.0,301.9 L106.7,303.1 L108.3,303.4 L110.0,303.1 L111.7,302.8 L112.8,299.0 L115.0,302.2 L116.7,301.5 L118.3,301.3 L120.0,301.8 L121.7,302.5 L123.3,302.9 L125.0,303.1 L126.7,303.7 L128.3,304.0 L130.0,304.0 L131.7,303.5 L133.3,303.6 L135.0,304.0 L136.7,304.2 L138.3,304.4 L140.0,304.5 L141.7,304.3 L143.3,304.5 L145.0,304.3 L146.7,303.6 L148.3,304.1 L150.0,304.9 L151.7,304.4 L153.3,304.4 L155.0,305.2 L156.7,305.6 L158.3,305.2 L160.0,305.1 L161.7,304.8 L163.3,304.6 L165.0,304.3 L166.7,304.1 L168.3,303.7 L170.0,302.6 L171.4,301.6 L172.7,300.9 L174.1,301.2 L175.6,301.4 L177.1,302.3 L178.6,302.9 L180.2,302.9 L181.7,303.5 L183.2,303.5 L184.7,302.5 L186.2,301.6 L186.8,298.2 L188.0,304.6 M189.7,307.2 L190.8,313.6 L192.3,308.1 L193.8,307.5 L195.3,307.2 L196.9,306.9 L198.4,306.5 L199.9,306.3 L201.4,306.9 L202.9,306.9 L204.4,306.4 L205.9,306.4 L207.5,306.8 L209.0,306.7 L210.5,306.7 L212.0,306.5 L213.5,306.8 L215.0,306.3 L216.5,305.7 L218.0,305.3 L219.5,305.2 L221.0,303.6 L222.4,301.2 L223.9,298.5 L225.3,297.6 L226.9,294.6 L228.3,299.0 L229.7,298.8 L231.2,299.4 L232.6,299.8 L234.1,300.2 L235.7,300.5 L237.3,300.5 L238.9,300.3 L240.4,300.1 L242.0,300.3 L243.6,300.8 L245.2,301.2 L246.8,301.8 L248.3,302.3 L249.8,302.7 L251.4,302.3 L252.9,302.4 L254.4,302.6 L255.9,303.3 L257.4,303.9 L258.9,304.1 L260.4,304.2 L262.0,304.8 L263.5,305.2 L265.0,305.6 L266.5,305.7 L267.9,305.3 L269.4,304.6 L270.9,304.0 L272.3,303.5 L273.8,303.7 L275.3,303.3 L276.7,303.2 L278.2,303.5 L279.7,304.0 L281.2,303.7 L282.8,303.6 L284.3,304.0 L285.8,304.3 L287.3,304.3 L288.8,305.0 L290.3,305.3 L291.8,305.4 L293.4,305.2 L294.9,304.9 L296.4,304.6 L297.9,304.9 L299.4,304.7 L300.9,304.8 L302.5,305.2 L304.0,305.6 L305.5,304.5 L307.1,303.1 L308.7,302.5 L310.3,302.5 L311.9,302.3 L313.4,301.9 L315.0,301.2 L316.6,299.9 L318.2,299.8 L319.8,300.9 L321.4,301.9 L323.0,302.7 L324.5,303.6 L326.1,304.6 L327.7,305.1 L329.3,305.3 L330.9,305.0 L332.4,304.3 L333.8,302.6 L335.3,301.1 L336.7,299.4 L338.2,298.5 L340.0,298.3 L341.8,297.9 L343.6,297.7 L345.1,298.2 L346.5,298.8 L348.0,299.7 L349.4,300.0 L350.9,299.9 L352.6,299.9 L354.3,299.8 L356.0,300.4 L357.6,301.3 L359.2,301.7 L360.9,302.4 L362.5,303.5 L364.1,304.7 L365.6,305.6 L367.1,306.5 L368.6,306.7 L370.2,306.7 L371.7,306.9 L373.2,306.8 L374.7,306.7 L376.2,306.9 L377.8,306.7 L379.3,306.4 L380.8,305.5 L382.3,304.8 L383.8,304.3 L385.3,304.4 L386.9,304.1 L388.4,303.6 L389.9,303.9 L391.4,304.6 L392.9,304.1 L394.4,303.8 L395.9,304.7 L397.5,305.8 L399.0,305.8 L400.5,305.6 L402.0,305.1 L403.5,305.6 L405.0,305.4 L406.5,304.4 L408.0,303.5 L409.5,304.5 L411.0,305.8 L412.4,306.9 L413.9,307.6 L415.3,308.5 L416.8,309.4 L418.3,310.3 L419.7,310.9 L421.2,311.5 L422.6,311.7 L424.1,311.4 L425.6,310.4 L427.0,309.5 L428.5,308.5 L429.9,307.9 L431.4,306.9 L432.9,306.1 L434.4,305.3 L435.9,305.1 L437.5,304.2 L439.0,303.7 L440.5,303.8 L442.0,304.1 L443.5,304.7 L445.0,302.8 L446.5,298.8 L448.0,295.2 L449.5,295.3 L451.0,298.2 L452.6,300.7 L454.1,301.4 L455.6,300.6 L457.1,300.9 L458.6,301.2 L460.2,301.2 L461.7,301.4 L463.2,301.5 L464.7,301.8 L466.2,302.3 L467.8,302.2 L469.3,302.1 L470.8,302.2 L472.3,302.4 L473.8,302.8 L475.3,303.5 L476.9,303.6 L478.4,303.5 L479.9,303.5 L481.4,303.6 L483.2,304.1 L485.0,305.0 L486.8,305.5 M488.6,312.0 L490.0,309.9 L491.4,307.8 L492.7,306.1 L494.1,305.6 L495.6,305.1 L497.1,304.4 L498.6,303.8 L500.2,304.1 L501.7,303.8 L503.2,303.2 L504.7,302.9 L506.2,302.8 L507.8,301.8 L509.3,301.2 L510.8,301.0 L512.3,301.3 L513.8,301.3 L515.3,301.1 L516.8,301.0 L518.4,301.2 L519.9,301.5 L521.4,303.4 L523.2,305.2" stroke="#7fff5f" stroke-width="1.15"/>
<path d="M75.5,303.5 L77.0,302.4 L78.5,302.0 L80.0,302.1 L81.7,302.8 L83.3,303.0 L85.0,303.5 L86.7,304.2 L88.3,304.2 L90.0,304.6 L91.7,304.4 L93.3,303.6 L95.0,303.3 L96.7,303.4 L98.3,303.3 L100.0,302.5 L101.7,302.5 L103.3,303.4 L105.0,303.5 L106.7,302.0 L108.3,302.5 L110.0,303.4 L111.7,303.1 L113.3,302.6 L115.0,302.7 L116.7,302.6 L118.3,301.7 L120.0,301.4 L121.7,301.8 L123.3,302.4 L125.0,303.0 L126.7,303.1 L128.3,303.5 L130.0,304.0 L131.7,304.2 L133.3,304.1 L135.0,303.7 L136.7,304.2 L138.3,304.5 L140.0,304.6 L141.7,304.6 L143.3,304.3 L145.0,304.2 L146.7,304.5 L148.3,303.9 L150.0,303.4 L151.7,304.8 L153.3,304.8 L155.0,304.3 L156.7,304.8 L158.3,305.6 L160.0,305.4 L161.7,304.8 L163.3,304.7 L165.0,304.4 L166.7,304.2 L168.3,304.0 L170.0,303.6 L171.4,302.6 L172.7,301.6 L174.1,300.4 L175.6,301.2 L177.1,301.8 L178.6,302.1 L180.2,302.9 L181.7,303.5 L183.2,303.4 L184.7,303.2 L186.2,302.6 L187.7,301.6 M189.5,297.9 L190.0,311.6 L192.3,308.2 L193.8,308.0 L195.3,307.6 L196.9,307.1 L198.4,306.8 L199.9,306.6 L201.4,306.0 L202.9,306.4 L204.4,306.9 L205.9,306.7 L207.5,306.2 L209.0,306.5 L210.5,306.7 L212.0,306.5 L213.5,306.4 L215.0,306.3 L216.5,306.4 L218.0,305.9 L219.5,305.3 L221.0,303.8 L222.4,302.8 L223.9,301.2 L225.3,298.7 L226.8,296.4 L228.3,297.7 L229.7,299.1 L231.2,299.4 L232.6,299.5 L234.1,300.1 L235.7,300.3 L237.3,300.5 L238.9,300.9 L240.4,300.7 L242.0,300.7 L243.6,300.6 L245.2,300.9 L246.8,301.4 L248.3,301.6 L249.8,302.2 L251.4,302.6 L252.9,302.7 L254.4,302.5 L255.9,302.6 L257.4,303.2 L258.9,303.9 L260.4,304.5 L262.0,304.6 L263.5,304.8 L265.0,305.5 L266.5,305.2 L267.9,305.3 L269.4,305.4 L270.9,304.8 L272.3,304.3 L273.8,303.8 L275.3,303.4 L276.7,303.6 L278.2,303.2 L279.7,303.3 L281.2,304.0 L282.8,304.2 L284.3,303.9 L285.8,303.9 L287.3,304.5 L288.8,304.5 L290.3,304.6 L291.8,305.4 L293.4,305.4 L294.9,305.5 L296.4,305.4 L297.9,304.8 L299.4,304.7 L300.9,304.9 L302.5,304.6 L304.0,304.6 L305.5,305.1 L307.1,304.7 L308.7,303.3 L310.3,302.2 L311.9,302.0 L313.4,301.8 L315.0,301.5 L316.6,300.9 L318.2,300.2 L319.8,300.3 L321.4,301.1 L323.0,302.2 L324.5,303.1 L326.1,303.8 L327.7,304.8 L329.3,305.8 L330.9,306.1 L332.4,304.3 L333.8,303.2 L335.3,302.3 L336.7,300.6 L338.2,299.0 L340.0,298.3 L341.8,297.8 L343.6,297.5 L345.1,298.3 L346.5,298.7 L348.0,299.1 L349.4,300.0 L350.9,300.7 L352.6,299.8 L354.3,299.3 L356.0,299.3 L357.6,300.6 L359.2,301.8 L360.9,302.6 L362.5,303.1 L364.1,304.1 L365.6,304.6 L367.1,305.4 L368.6,306.3 L370.2,306.9 L371.7,307.1 L373.2,307.2 L374.7,306.8 L376.2,306.5 L377.8,306.4 L379.3,306.5 L380.8,306.1 L382.3,305.8 L383.8,305.0 L385.3,304.4 L386.9,304.1 L388.4,304.1 L389.9,303.7 L391.4,303.1 L392.9,304.4 L394.4,304.8 L395.9,304.3 L397.5,304.3 L399.0,305.4 L400.5,306.1 L402.0,305.4 L403.5,305.0 L405.0,304.6 L406.5,305.0 L408.0,304.7 L409.5,303.5 L411.0,304.6 L412.4,306.0 L413.9,307.3 L415.3,308.2 L416.8,309.1 L418.3,309.6 L419.7,310.5 L421.2,311.3 L422.6,311.9 L424.1,312.5 L425.6,311.1 L427.0,310.0 L428.5,309.1 L429.9,308.0 L431.4,307.1 L432.9,307.0 L434.4,306.2 L435.9,305.5 L437.5,304.8 L439.0,304.7 L440.5,303.7 L442.0,304.1 L443.5,304.6 L445.0,304.6 L446.5,301.2 L448.0,297.3 L449.5,293.4 L451.0,296.1 L452.6,298.8 L454.1,301.5 L455.6,301.7 L457.1,301.3 L458.6,300.8 L460.2,301.3 L461.7,301.6 L463.2,301.4 L464.7,301.8 L466.2,301.7 L467.8,302.2 L469.3,302.5 L470.8,302.4 L472.3,302.4 L473.8,302.5 L475.3,302.7 L476.9,303.1 L478.4,303.7 L479.9,303.6 L481.4,303.6 L483.2,304.5 L485.0,304.8 L486.8,305.7 M488.6,312.7 L490.0,310.5 L491.4,309.5 L492.7,307.5 L494.1,305.2 L495.6,305.3 L497.1,305.1 L498.6,304.5 L500.2,303.9 L501.7,303.6 L503.2,303.8 L504.7,303.2 L506.2,302.4 L507.8,302.4 L509.3,302.1 L510.8,301.1 L512.3,300.6 L513.8,301.2 L515.3,301.4 L516.8,301.5 L518.4,301.2 L519.9,301.4 L521.4,301.5 L523.2,305.4" stroke="#ff4a3a" stroke-width="1.2"/>
</g>
<rect x="53.0" y="231.8" width="492.6" height="103.59999999999997" fill="none" stroke="#9a9a9a" stroke-width="1.4"/>
<line x1="49.6" y1="231.8" x2="53.0" y2="231.8" stroke="#9a9a9a" stroke-width="1.1"/>
<text x="45.8" y="234.9" font-size="8.6" text-anchor="end" fill="#111">9</text>
<line x1="49.6" y1="257.7" x2="53.0" y2="257.7" stroke="#9a9a9a" stroke-width="1.1"/>
<text x="45.8" y="260.8" font-size="8.6" text-anchor="end" fill="#111">6</text>
<line x1="49.6" y1="283.6" x2="53.0" y2="283.6" stroke="#9a9a9a" stroke-width="1.1"/>
<text x="45.8" y="286.7" font-size="8.6" text-anchor="end" fill="#111">3</text>
<line x1="49.6" y1="309.5" x2="53.0" y2="309.5" stroke="#9a9a9a" stroke-width="1.1"/>
<text x="45.8" y="312.6" font-size="8.6" text-anchor="end" fill="#111">0</text>
<line x1="49.6" y1="335.4" x2="53.0" y2="335.4" stroke="#9a9a9a" stroke-width="1.1"/>
<text x="45.8" y="338.5" font-size="8.6" text-anchor="end" fill="#111">−3</text>
<line x1="73.6" y1="335.4" x2="73.6" y2="338.2" stroke="#9a9a9a" stroke-width="1.1"/>
<text x="73.6" y="348.9" font-size="8.6" text-anchor="middle" fill="#111">2019</text>
<line x1="129.8" y1="335.4" x2="129.8" y2="338.2" stroke="#9a9a9a" stroke-width="1.1"/>
<text x="129.8" y="348.9" font-size="8.6" text-anchor="middle" fill="#111">Jul</text>
<line x1="187.0" y1="335.4" x2="187.0" y2="338.2" stroke="#9a9a9a" stroke-width="1.1"/>
<text x="187.0" y="348.9" font-size="8.6" text-anchor="middle" fill="#111">2020</text>
<line x1="243.5" y1="335.4" x2="243.5" y2="338.2" stroke="#9a9a9a" stroke-width="1.1"/>
<text x="243.5" y="348.9" font-size="8.6" text-anchor="middle" fill="#111">Jul</text>
<line x1="300.4" y1="335.4" x2="300.4" y2="338.2" stroke="#9a9a9a" stroke-width="1.1"/>
<text x="300.4" y="348.9" font-size="8.6" text-anchor="middle" fill="#111">2021</text>
<line x1="356.6" y1="335.4" x2="356.6" y2="338.2" stroke="#9a9a9a" stroke-width="1.1"/>
<text x="356.6" y="348.9" font-size="8.6" text-anchor="middle" fill="#111">Jul</text>
<line x1="413.8" y1="335.4" x2="413.8" y2="338.2" stroke="#9a9a9a" stroke-width="1.1"/>
<text x="413.8" y="348.9" font-size="8.6" text-anchor="middle" fill="#111">2022</text>
<line x1="470.0" y1="335.4" x2="470.0" y2="338.2" stroke="#9a9a9a" stroke-width="1.1"/>
<text x="470.0" y="348.9" font-size="8.6" text-anchor="middle" fill="#111">Jul</text>
<line x1="527.2" y1="335.4" x2="527.2" y2="338.2" stroke="#9a9a9a" stroke-width="1.1"/>
<text x="527.2" y="348.9" font-size="8.6" text-anchor="middle" fill="#111">2023</text>
<text x="58" y="240.7" font-size="8.7" fill="#111">Open Water</text>
<g transform="translate(28.4,301.1) rotate(-90)" fill="#111"><text x="-0.3" y="0" font-size="10.2" font-style="italic" font-family="DejaVu Sans, sans-serif">σ</text><text x="6.2" y="-4.3" font-size="5.6" font-style="italic">0</text><text x="10.6" y="1.6" font-size="6.3" font-style="italic">VV, PC1</text></g>
<rect x="136.4" y="234.9" width="123.3" height="35.9" fill="#fff"/>
<line x1="142.5" y1="234.9" x2="142.5" y2="270.8" stroke="#a0a0a0" stroke-width="0.8" stroke-dasharray="2.6,1.6"/>
<line x1="179.8" y1="234.9" x2="179.8" y2="270.8" stroke="#a0a0a0" stroke-width="0.8" stroke-dasharray="2.6,1.6"/>
<line x1="217.1" y1="234.9" x2="217.1" y2="270.8" stroke="#a0a0a0" stroke-width="0.8" stroke-dasharray="2.6,1.6"/>
<line x1="254.4" y1="234.9" x2="254.4" y2="270.8" stroke="#a0a0a0" stroke-width="0.8" stroke-dasharray="2.6,1.6"/>
<line x1="136.4" y1="237.4" x2="259.7" y2="237.4" stroke="#a0a0a0" stroke-width="0.8" stroke-dasharray="2.6,1.6"/>
<line x1="136.4" y1="266.4" x2="259.7" y2="266.4" stroke="#a0a0a0" stroke-width="0.8" stroke-dasharray="2.6,1.6"/>
<g fill="none" stroke-width="1.15" stroke-linejoin="round">
<path d="M142.5,251.5 L143.7,248.6 L144.9,246.0 L146.1,243.5 L147.3,240.8 L148.5,238.2 L149.7,236.7 L150.9,236.6 L152.1,236.7 L153.3,236.8 L154.5,236.9 L155.7,237.0 L156.9,237.2 L158.1,237.5 L159.3,238.0 L160.5,238.7 L161.7,239.6 L162.9,240.6 L164.1,241.5 L165.3,242.3 L166.5,243.0 L167.7,243.6 L168.9,244.3 L170.1,245.0 L171.3,245.9 L172.5,246.8 L173.7,248.2 L174.9,249.9 L176.1,251.8 L177.3,253.7 L178.5,255.6 L179.7,257.3 L180.9,258.8 L182.1,260.5 L183.3,262.0 L184.5,263.5 L185.7,264.7 L186.9,265.5 L188.1,265.9 L189.3,266.2 L190.5,266.5 L191.7,266.7 L192.9,266.8 L194.1,266.2 L195.3,264.8 L196.5,262.9 L197.7,260.9 L198.9,259.0 L200.1,256.9 L201.3,254.6 L202.5,252.2 L203.7,250.0 L204.9,248.0 L206.1,246.5 L207.3,245.2 L208.5,243.9 L209.7,242.7 L210.9,241.7 L212.1,241.1 L213.3,240.8 L214.5,241.2 L215.7,242.3 L216.9,243.8 L218.1,245.5 L219.3,247.2 L220.5,249.1 L221.7,251.4 L222.9,253.6 L224.1,255.6 L225.3,257.1 L226.5,258.6 L227.7,260.0 L228.9,261.3 L230.1,262.3 L231.3,263.0 L232.5,263.4 L233.7,263.7 L234.9,264.0 L236.1,264.2 L237.3,264.4 L238.5,264.5 L239.7,264.5 L240.9,263.6 L242.1,261.8 L243.3,259.4 L244.5,256.9 L245.7,254.5 L246.9,252.6 L248.1,251.3 L249.3,250.0 L250.5,248.8 L251.7,247.9 L252.9,247.2 L254.1,246.8 L254.4,246.7" stroke="#3f9f3f"/>
<path d="M142.5,251.5 L143.7,250.3 L144.9,249.2 L146.1,248.2 L147.3,247.4 L148.5,246.6 L149.7,246.1 L150.9,245.7 L152.1,245.5 L153.3,245.3 L154.5,245.1 L155.7,244.9 L156.9,244.6 L158.1,244.1 L159.3,243.4 L160.5,242.5 L161.7,241.5 L162.9,240.0 L164.1,238.8 L165.3,238.5 L166.5,238.8 L167.7,239.4 L168.9,240.3 L170.1,241.2 L171.3,242.3 L172.5,243.3 L173.7,244.6 L174.9,246.2 L176.1,248.1 L177.3,250.0 L178.5,251.9 L179.7,253.7 L180.9,255.5 L182.1,257.6 L183.3,259.7 L184.5,261.6 L185.7,263.1 L186.9,263.9 L188.1,264.1 L189.3,264.2 L190.5,264.3 L191.7,264.4 L192.9,264.5 L194.1,264.5 L195.3,264.4 L196.5,263.7 L197.7,262.4 L198.9,260.8 L200.1,259.1 L201.3,257.3 L202.5,255.8 L203.7,254.3 L204.9,252.7 L206.1,251.1 L207.3,249.5 L208.5,248.0 L209.7,246.6 L210.9,245.2 L212.1,243.8 L213.3,243.2 L214.5,243.4 L215.7,244.0 L216.9,244.9 L218.1,245.9 L219.3,247.1 L220.5,249.0 L221.7,251.4 L222.9,253.9 L224.1,255.8 L225.3,256.7 L226.5,257.4 L227.7,258.0 L228.9,258.5 L230.1,259.0 L231.3,259.4 L232.5,259.9 L233.7,260.4 L234.9,260.9 L236.1,261.4 L237.3,261.8 L238.5,262.0 L239.7,262.1 L240.9,261.7 L242.1,260.8 L243.3,259.7 L244.5,258.5 L245.7,257.2 L246.9,256.2 L248.1,255.4 L249.3,254.6 L250.5,253.8 L251.7,253.1 L252.9,252.4 L254.1,251.7 L254.4,251.5" stroke="#1f1fff"/>
<path d="M142.5,253.8 L143.7,253.2 L144.9,252.5 L146.1,252.0 L147.3,251.4 L148.5,250.9 L149.7,250.4 L150.9,250.0 L152.1,249.5 L153.3,249.1 L154.5,248.8 L155.7,248.4 L156.9,248.0 L158.1,247.7 L159.3,247.4 L160.5,247.1 L161.7,246.8 L162.9,246.5 L164.1,246.2 L165.3,245.9 L166.5,245.6 L167.7,245.2 L168.9,244.9 L170.1,244.6 L171.3,244.5 L172.5,244.4 L173.7,244.6 L174.9,245.0 L176.1,245.6 L177.3,246.3 L178.5,247.1 L179.7,248.4 L180.9,250.0 L182.1,251.8 L183.3,253.5 L184.5,255.3 L185.7,257.3 L186.9,258.5 L188.1,258.6 L189.3,258.6 L190.5,258.6 L191.7,258.6 L192.9,258.6 L194.1,258.6 L195.3,258.6 L196.5,258.4 L197.7,258.0 L198.9,257.5 L200.1,257.0 L201.3,256.5 L202.5,256.1 L203.7,255.7 L204.9,255.4 L206.1,255.0 L207.3,254.6 L208.5,254.2 L209.7,253.8 L210.9,253.2 L212.1,252.5 L213.3,251.7 L214.5,251.1 L215.7,250.5 L216.9,250.3 L218.1,250.3 L219.3,250.3 L220.5,250.3 L221.7,250.3 L222.9,250.3 L224.1,250.3 L225.3,250.3 L226.5,250.6 L227.7,251.0 L228.9,251.5 L230.1,252.0 L231.3,252.4 L232.5,252.7 L233.7,252.9 L234.9,253.1 L236.1,253.3 L237.3,253.5 L238.5,253.6 L239.7,253.8 L240.9,254.0 L242.1,254.2 L243.3,254.4 L244.5,254.6 L245.7,254.8 L246.9,255.0 L248.1,255.2 L249.3,255.4 L250.5,255.6 L251.7,255.8 L252.9,256.0 L254.1,256.2 L254.4,256.2" stroke="#ff3fff"/>
<path d="M142.5,257.4 L143.7,256.4 L144.9,255.6 L146.1,254.7 L147.3,254.0 L148.5,253.3 L149.7,252.7 L150.9,252.2 L152.1,251.7 L153.3,251.3 L154.5,250.9 L155.7,250.6 L156.9,250.4 L158.1,250.2 L159.3,250.2 L160.5,250.1 L161.7,250.0 L162.9,249.9 L164.1,249.9 L165.3,249.8 L166.5,249.8 L167.7,249.8 L168.9,249.8 L170.1,249.9 L171.3,250.0 L172.5,250.3 L173.7,250.5 L174.9,250.8 L176.1,251.1 L177.3,251.3 L178.5,251.4 L179.7,251.5 L180.9,251.5 L182.1,251.5 L183.3,251.5 L184.5,251.5 L185.7,251.5 L186.9,251.5 L188.1,251.5 L189.3,251.5 L190.5,251.5 L191.7,251.5 L192.9,251.6 L194.1,251.6 L195.3,251.7 L196.5,251.9 L197.7,252.0 L198.9,252.2 L200.1,252.3 L201.3,252.5 L202.5,252.6 L203.7,252.8 L204.9,253.0 L206.1,253.2 L207.3,253.4 L208.5,253.6 L209.7,253.8 L210.9,254.0 L212.1,254.3 L213.3,254.5 L214.5,254.7 L215.7,255.0 L216.9,255.4 L218.1,255.7 L219.3,256.1 L220.5,256.4 L221.7,256.6 L222.9,256.8 L224.1,256.9 L225.3,256.9 L226.5,256.7 L227.7,256.4 L228.9,256.0 L230.1,255.6 L231.3,255.2 L232.5,254.9 L233.7,254.5 L234.9,254.2 L236.1,253.8 L237.3,253.4 L238.5,253.0 L239.7,252.5 L240.9,252.0 L242.1,251.3 L243.3,250.7 L244.5,250.0 L245.7,249.5 L246.9,249.1 L248.1,248.8 L249.3,248.6 L250.5,248.3 L251.7,248.1 L252.9,248.0 L254.1,247.9 L254.4,247.9" stroke="#7fff5f"/>
<path d="M142.5,252.6 L143.7,251.9 L144.9,251.4 L146.1,251.1 L147.3,250.9 L148.5,250.7 L149.7,250.7 L150.9,250.9 L152.1,251.5 L153.3,252.3 L154.5,253.2 L155.7,254.0 L156.9,254.4 L158.1,254.4 L159.3,254.1 L160.5,253.6 L161.7,252.9 L162.9,252.3 L164.1,251.7 L165.3,251.4 L166.5,251.1 L167.7,250.9 L168.9,250.6 L170.1,250.5 L171.3,250.3 L172.5,250.3 L173.7,250.4 L174.9,250.5 L176.1,250.8 L177.3,251.0 L178.5,251.3 L179.7,251.5 L180.9,251.7 L182.1,251.9 L183.3,252.2 L184.5,252.4 L185.7,252.5 L186.9,252.6 L188.1,252.6 L189.3,252.6 L190.5,252.6 L191.7,252.6 L192.9,252.6 L194.1,252.6 L195.3,252.6 L196.5,252.3 L197.7,251.9 L198.9,251.5 L200.1,251.0 L201.3,250.5 L202.5,250.2 L203.7,250.0 L204.9,249.7 L206.1,249.5 L207.3,249.3 L208.5,249.1 L209.7,249.1 L210.9,249.1 L212.1,249.3 L213.3,249.5 L214.5,249.7 L215.7,250.0 L216.9,250.3 L218.1,250.7 L219.3,251.4 L220.5,252.2 L221.7,253.1 L222.9,253.8 L224.1,254.4 L225.3,254.7 L226.5,254.9 L227.7,255.0 L228.9,255.2 L230.1,255.3 L231.3,255.4 L232.5,255.6 L233.7,255.7 L234.9,255.9 L236.1,256.0 L237.3,256.1 L238.5,256.2 L239.7,256.2 L240.9,256.1 L242.1,255.8 L243.3,255.4 L244.5,255.1 L245.7,254.7 L246.9,254.5 L248.1,254.3 L249.3,254.2 L250.5,254.1 L251.7,254.0 L252.9,253.9 L254.1,253.8 L254.4,253.8" stroke="#ff4a3a"/>
</g>
<rect x="136.4" y="234.9" width="123.3" height="35.9" fill="none" stroke="#707070" stroke-width="1.0"/>
<text x="142.5" y="279.5" font-size="6.6" text-anchor="middle" fill="#111">01</text>
<text x="179.8" y="279.5" font-size="6.6" text-anchor="middle" fill="#111">11</text>
<text x="217.1" y="279.5" font-size="6.6" text-anchor="middle" fill="#111">21</text>
<text x="254.4" y="279.5" font-size="6.6" text-anchor="middle" fill="#111">31</text>
<rect x="417.3" y="234.9" width="123.4" height="35.9" fill="#fff"/>
<line x1="423.3" y1="234.9" x2="423.3" y2="270.8" stroke="#a0a0a0" stroke-width="0.8" stroke-dasharray="2.6,1.6"/>
<line x1="460.6" y1="234.9" x2="460.6" y2="270.8" stroke="#a0a0a0" stroke-width="0.8" stroke-dasharray="2.6,1.6"/>
<line x1="497.9" y1="234.9" x2="497.9" y2="270.8" stroke="#a0a0a0" stroke-width="0.8" stroke-dasharray="2.6,1.6"/>
<line x1="535.2" y1="234.9" x2="535.2" y2="270.8" stroke="#a0a0a0" stroke-width="0.8" stroke-dasharray="2.6,1.6"/>
<line x1="417.3" y1="245.6" x2="540.7" y2="245.6" stroke="#a0a0a0" stroke-width="0.8" stroke-dasharray="2.6,1.6"/>
<line x1="417.3" y1="260.8" x2="540.7" y2="260.8" stroke="#a0a0a0" stroke-width="0.8" stroke-dasharray="2.6,1.6"/>
<g fill="none" stroke-width="1.15" stroke-linejoin="round">
<path d="M423.3,244.4 L424.5,244.0 L425.7,243.5 L426.9,243.1 L428.1,242.6 L429.3,242.2 L430.5,241.7 L431.7,241.2 L432.9,240.6 L434.1,239.9 L435.3,239.2 L436.5,238.5 L437.7,237.9 L438.9,237.4 L440.1,237.0 L441.3,236.7 L442.5,236.7 L443.7,236.7 L444.9,236.8 L446.1,236.8 L447.3,236.9 L448.5,237.0 L449.7,237.1 L450.9,237.2 L452.1,237.4 L453.3,237.5 L454.5,237.8 L455.7,238.1 L456.9,238.5 L458.1,239.0 L459.3,239.6 L460.5,240.2 L461.7,241.0 L462.9,242.0 L464.1,243.1 L465.3,244.3 L466.5,245.6 L467.7,246.8 L468.9,247.9 L470.1,249.3 L471.3,250.8 L472.5,252.1 L473.7,253.2 L474.9,253.8 L476.1,253.8 L477.3,253.0 L478.5,252.2 L479.7,252.0 L480.9,252.5 L482.1,253.3 L483.3,254.5 L484.5,255.7 L485.7,257.0 L486.9,258.2 L488.1,259.5 L489.3,261.1 L490.5,262.8 L491.7,264.3 L492.9,265.5 L494.1,266.2 L495.3,266.5 L496.5,266.8 L497.7,267.1 L498.9,267.3 L500.1,267.4 L501.3,267.5 L502.5,267.4 L503.7,267.0 L504.9,266.4 L506.1,265.8 L507.3,265.2 L508.5,264.8 L509.7,264.8 L510.9,265.1 L512.1,265.5 L513.3,266.1 L514.5,266.7 L515.7,267.4 L516.9,268.0 L518.1,268.5 L519.3,268.8 L520.5,268.9 L521.7,268.3 L522.9,267.0 L524.1,265.4 L525.3,263.8 L526.5,262.6 L527.7,262.1 L528.9,262.1 L530.1,262.1 L531.3,262.3 L532.5,262.5 L533.7,262.8 L534.9,263.3 L535.2,263.5" stroke="#3f9f3f"/>
<path d="M423.3,247.1 L424.5,246.5 L425.7,245.9 L426.9,245.4 L428.1,244.9 L429.3,244.4 L430.5,243.9 L431.7,243.5 L432.9,243.0 L434.1,242.6 L435.3,242.2 L436.5,241.8 L437.7,241.4 L438.9,241.1 L440.1,240.7 L441.3,240.4 L442.5,240.2 L443.7,239.9 L444.9,239.6 L446.1,239.3 L447.3,239.1 L448.5,238.9 L449.7,238.7 L450.9,238.5 L452.1,238.4 L453.3,238.4 L454.5,238.4 L455.7,238.4 L456.9,238.4 L458.1,238.4 L459.3,238.4 L460.5,238.4 L461.7,238.6 L462.9,239.2 L464.1,240.2 L465.3,241.4 L466.5,242.8 L467.7,244.2 L468.9,245.7 L470.1,247.0 L471.3,248.1 L472.5,249.0 L473.7,249.8 L474.9,250.6 L476.1,251.3 L477.3,252.0 L478.5,252.7 L479.7,253.4 L480.9,254.1 L482.1,254.8 L483.3,255.5 L484.5,256.3 L485.7,257.3 L486.9,258.2 L488.1,259.2 L489.3,260.1 L490.5,260.9 L491.7,261.5 L492.9,261.9 L494.1,262.1 L495.3,262.1 L496.5,262.1 L497.7,262.1 L498.9,262.1 L500.1,262.1 L501.3,262.1 L502.5,262.2 L503.7,262.7 L504.9,263.5 L506.1,264.4 L507.3,265.2 L508.5,266.0 L509.7,266.4 L510.9,266.8 L512.1,267.2 L513.3,267.6 L514.5,268.0 L515.7,268.3 L516.9,268.6 L518.1,268.8 L519.3,268.9 L520.5,268.9 L521.7,268.4 L522.9,267.4 L524.1,266.1 L525.3,264.9 L526.5,263.9 L527.7,263.5 L528.9,264.6 L530.1,266.9 L531.3,268.4 L532.5,268.2 L533.7,267.2 L534.9,265.4 L535.2,264.8" stroke="#1f1fff"/>
<path d="M423.3,247.6 L424.5,247.0 L425.7,246.4 L426.9,245.8 L428.1,245.3 L429.3,244.8 L430.5,244.3 L431.7,243.9 L432.9,243.5 L434.1,243.1 L435.3,242.8 L436.5,242.5 L437.7,242.2 L438.9,242.0 L440.1,241.7 L441.3,241.5 L442.5,241.3 L443.7,241.1 L444.9,240.9 L446.1,240.7 L447.3,240.5 L448.5,240.4 L449.7,240.3 L450.9,240.1 L452.1,240.0 L453.3,239.9 L454.5,239.8 L455.7,239.7 L456.9,239.6 L458.1,239.6 L459.3,239.5 L460.5,239.5 L461.7,239.6 L462.9,240.1 L464.1,240.8 L465.3,241.7 L466.5,242.7 L467.7,243.7 L468.9,244.8 L470.1,245.9 L471.3,246.8 L472.5,247.6 L473.7,248.3 L474.9,249.1 L476.1,249.9 L477.3,250.7 L478.5,251.5 L479.7,252.2 L480.9,252.9 L482.1,253.5 L483.3,254.0 L484.5,254.6 L485.7,255.0 L486.9,255.5 L488.1,255.9 L489.3,256.3 L490.5,256.7 L491.7,257.1 L492.9,257.5 L494.1,258.0 L495.3,258.5 L496.5,259.0 L497.7,259.5 L498.9,260.1 L500.1,260.7 L501.3,261.2 L502.5,261.8 L503.7,262.3 L504.9,262.7 L506.1,263.2 L507.3,263.6 L508.5,264.1 L509.7,264.6 L510.9,265.0 L512.1,265.4 L513.3,265.8 L514.5,266.0 L515.7,266.2 L516.9,266.2 L518.1,266.1 L519.3,266.0 L520.5,265.8 L521.7,265.6 L522.9,265.4 L524.1,265.1 L525.3,265.0 L526.5,264.8 L527.7,264.8 L528.9,264.8 L530.1,265.0 L531.3,265.2 L532.5,265.4 L533.7,265.8 L534.9,266.1 L535.2,266.2" stroke="#ff3fff"/>
<path d="M423.3,243.0 L424.5,243.3 L425.7,243.5 L426.9,243.7 L428.1,243.9 L429.3,244.1 L430.5,244.2 L431.7,244.3 L432.9,244.4 L434.1,244.4 L435.3,244.4 L436.5,244.4 L437.7,244.3 L438.9,244.2 L440.1,244.1 L441.3,244.0 L442.5,243.9 L443.7,243.7 L444.9,243.6 L446.1,243.4 L447.3,243.3 L448.5,243.1 L449.7,243.0 L450.9,242.8 L452.1,242.5 L453.3,242.3 L454.5,242.0 L455.7,241.7 L456.9,241.5 L458.1,241.3 L459.3,241.2 L460.5,241.1 L461.7,241.2 L462.9,241.5 L464.1,241.9 L465.3,242.4 L466.5,243.0 L467.7,243.7 L468.9,244.3 L470.1,244.9 L471.3,245.5 L472.5,246.0 L473.7,246.4 L474.9,246.9 L476.1,247.4 L477.3,247.9 L478.5,248.3 L479.7,248.7 L480.9,249.1 L482.1,249.5 L483.3,249.9 L484.5,250.3 L485.7,250.7 L486.9,251.0 L488.1,251.4 L489.3,251.8 L490.5,252.1 L491.7,252.3 L492.9,252.4 L494.1,252.5 L495.3,252.4 L496.5,252.2 L497.7,251.9 L498.9,251.6 L500.1,251.3 L501.3,251.2 L502.5,251.3 L503.7,251.8 L504.9,252.5 L506.1,253.5 L507.3,254.6 L508.5,255.7 L509.7,256.9 L510.9,258.0 L512.1,258.9 L513.3,259.7 L514.5,260.4 L515.7,261.2 L516.9,262.0 L518.1,262.7 L519.3,263.4 L520.5,264.0 L521.7,264.4 L522.9,264.7 L524.1,264.8 L525.3,264.8 L526.5,264.8 L527.7,264.8 L528.9,264.7 L530.1,264.6 L531.3,264.4 L532.5,264.2 L533.7,264.0 L534.9,263.6 L535.2,263.5" stroke="#7fff5f"/>
<path d="M423.3,245.7 L424.5,245.4 L425.7,245.1 L426.9,244.8 L428.1,244.5 L429.3,244.2 L430.5,243.9 L431.7,243.6 L432.9,243.3 L434.1,243.1 L435.3,242.8 L436.5,242.6 L437.7,242.3 L438.9,242.0 L440.1,241.7 L441.3,241.4 L442.5,241.1 L443.7,240.9 L444.9,240.7 L446.1,240.5 L447.3,240.4 L448.5,240.3 L449.7,240.3 L450.9,240.3 L452.1,240.4 L453.3,240.4 L454.5,240.5 L455.7,240.6 L456.9,240.7 L458.1,240.8 L459.3,241.0 L460.5,241.1 L461.7,241.3 L462.9,241.6 L464.1,242.0 L465.3,242.5 L466.5,243.0 L467.7,243.5 L468.9,244.0 L470.1,244.4 L471.3,244.8 L472.5,245.0 L473.7,245.2 L474.9,245.4 L476.1,245.6 L477.3,245.7 L478.5,245.8 L479.7,246.0 L480.9,246.2 L482.1,246.3 L483.3,246.6 L484.5,246.8 L485.7,247.1 L486.9,247.5 L488.1,247.8 L489.3,248.2 L490.5,248.6 L491.7,249.0 L492.9,249.4 L494.1,249.8 L495.3,250.2 L496.5,250.6 L497.7,251.0 L498.9,251.5 L500.1,251.9 L501.3,252.4 L502.5,252.8 L503.7,253.3 L504.9,253.7 L506.1,254.2 L507.3,254.6 L508.5,255.1 L509.7,255.5 L510.9,255.9 L512.1,256.4 L513.3,256.8 L514.5,257.2 L515.7,257.7 L516.9,258.1 L518.1,258.6 L519.3,259.0 L520.5,259.5 L521.7,259.9 L522.9,260.4 L524.1,260.8 L525.3,261.3 L526.5,261.7 L527.7,262.1 L528.9,262.5 L530.1,262.8 L531.3,263.2 L532.5,263.6 L533.7,263.9 L534.9,264.2 L535.2,264.3" stroke="#ff4a3a"/>
</g>
<rect x="417.3" y="234.9" width="123.4" height="35.9" fill="none" stroke="#707070" stroke-width="1.0"/>
<text x="423.3" y="279.5" font-size="6.6" text-anchor="middle" fill="#111">01</text>
<text x="460.6" y="279.5" font-size="6.6" text-anchor="middle" fill="#111">11</text>
<text x="497.9" y="279.5" font-size="6.6" text-anchor="middle" fill="#111">21</text>
<text x="535.2" y="279.5" font-size="6.6" text-anchor="middle" fill="#111">31</text>
<rect x="262.4" y="238.5" width="32.0" height="13.2" rx="2.4" fill="#fff" stroke="#111" stroke-width="1.2"/>
<text x="278.4" y="247.7" font-size="8.4" text-anchor="middle" fill="#111">2021.1</text>
<rect x="380.1" y="238.5" width="33.2" height="13.2" rx="2.4" fill="#fff" stroke="#111" stroke-width="1.2"/>
<text x="396.7" y="247.7" font-size="8.4" text-anchor="middle" fill="#111">2021.7</text>
<path d="M297.2,245.1 A7.2,7.2 0 0 1 304.4,252.3 L304.4,326.9" fill="none" stroke="#111" stroke-width="1.2"/>
<path d="M301.7,326.0 L304.4,327.4 L307.1,326.0 L304.4,330.4 Z" fill="#111"/>
<path d="M377.6,244.7 L368.2,244.7 A7.2,7.2 0 0 0 361.0,251.9 L361.0,326.9" fill="none" stroke="#111" stroke-width="1.2"/>
<path d="M358.3,326.0 L361.0,327.4 L363.7,326.0 L361.0,330.4 Z" fill="#111"/>
<rect x="300.4" y="361.2" width="9.4" height="103.69999999999999" fill="#f6a9ae"/>
<rect x="356.9" y="361.2" width="9.0" height="103.69999999999999" fill="#a4b4c7"/>
<g clip-path="url(#c3)" fill="none" stroke-width="1.25" stroke-linejoin="round">
<path d="M75.5,448.5 L76.8,449.3 L79.1,452.2 L80.9,453.6 L82.4,455.4 L83.8,457.0 L85.3,454.9 L86.7,456.5 L88.2,458.9 L90.0,458.0 L91.8,457.1 L93.2,458.0 L94.5,453.1 L95.9,453.7 L97.3,450.1 L99.2,450.1 L101.0,446.6 L102.8,448.1 L104.6,444.6 L106.4,444.0 L107.9,442.4 L109.4,442.3 L111.0,439.8 L112.5,443.0 L114.0,437.7 L115.5,439.7 L117.0,438.3 L118.5,437.9 L120.0,435.5 L121.5,438.9 L123.0,435.4 L124.5,435.7 L126.0,434.3 L127.4,434.3 L128.9,432.0 L130.3,435.4 L131.8,436.5 L133.7,437.7 L135.5,436.0 L136.9,434.3 L138.4,434.2 L139.8,434.2 L141.3,434.1 L142.7,435.0 L144.2,433.4 L145.7,434.7 L147.2,432.0 L148.8,433.1 L150.3,433.3 L151.8,432.4 L153.3,431.1 L154.8,432.2 L156.4,430.4 L157.9,432.9 L159.4,432.3 L160.9,432.9 L162.4,431.5 L163.9,433.4 L165.4,433.4 L167.0,432.6 L168.5,433.9 L170.0,434.9 L172.3,434.5 L173.9,437.4 L175.4,435.6 L177.0,438.0 L178.6,439.1 L180.2,429.6 L181.4,437.6 L181.7,435.6 L183.2,442.1 L184.7,437.6 L185.4,425.4 L186.6,443.4 L187.7,435.2 L189.5,434.3 M194.1,436.2 L194.6,426.4 L195.7,452.4 L196.8,440.9 L198.3,451.8 L199.9,450.7 L201.4,455.0 L203.2,458.3 L205.0,460.9 L206.8,460.4 L208.2,458.6 L209.5,453.4 L211.0,451.7 L212.6,447.5 L214.1,448.0 L215.9,443.5 L217.7,443.3 L219.5,443.5 L221.0,442.7 L222.5,441.0 L224.1,441.1 L225.6,439.9 L227.1,440.0 L228.6,437.2 L230.1,437.5 L231.6,437.5 L233.1,436.9 L234.7,435.5 L236.2,434.4 L237.7,433.5 L239.2,438.0 L240.7,434.7 L242.2,436.2 L243.8,434.7 L245.3,435.0 L246.8,433.3 L248.3,432.9 L249.8,433.0 L251.4,433.4 L252.9,433.5 L254.4,434.6 L255.9,431.3 L257.4,435.0 L258.9,431.0 L260.4,430.7 L262.0,430.1 L263.5,434.6 L265.0,431.1 L266.4,431.5 L267.7,430.5 L269.1,430.8 L270.6,431.6 L272.1,431.8 L273.6,431.7 L275.2,430.9 L276.7,426.9 L278.2,431.1 L280.0,429.2 L281.8,429.8 L283.6,431.3 L285.0,432.5 L286.4,432.9 L287.7,433.5 L289.1,432.1 L290.6,435.2 L292.0,433.5 L293.5,437.0 L294.9,436.9 L296.4,438.5 L298.2,440.7 L300.0,444.0 L301.8,444.6 L303.6,448.8 L305.5,448.8 L307.3,452.3 L309.1,450.9 L310.9,454.1 L312.4,452.8 L313.8,453.6 L315.3,453.4 L316.7,454.2 L318.2,453.2 L320.0,452.2 L321.8,450.1 L323.2,449.1 L324.6,445.4 L325.9,443.8 L327.3,442.8 L329.1,443.4 L330.9,439.3 L332.7,441.7 L334.2,438.5 L335.7,438.3 L337.2,435.7 L338.8,435.7 L340.3,434.2 L341.8,435.8 L343.3,434.6 L344.8,435.9 L346.4,433.2 L347.9,434.8 L349.4,432.7 L350.9,432.3 L352.4,431.0 L353.9,432.5 L355.4,431.8 L357.0,432.6 L358.5,431.3 L360.0,431.9 L361.4,432.1 L362.7,433.0 L364.1,429.8 L365.6,432.3 L367.1,429.9 L368.6,433.1 L370.2,430.1 L371.7,431.5 L373.2,429.5 L374.7,430.7 L376.2,429.9 L377.8,431.9 L379.3,429.0 L380.8,431.3 L382.3,429.6 L383.8,429.2 L385.3,430.0 L386.9,430.6 L388.4,429.4 L389.9,429.0 L391.4,430.2 L392.9,430.7 L394.4,429.5 L395.9,433.9 L397.5,429.6 L399.0,431.1 L400.5,429.1 L402.3,430.7 L404.1,429.9 L405.9,433.1 L407.3,434.9 L408.6,437.9 L410.0,429.9 L411.4,437.1 L413.2,433.2 L415.0,443.8 L416.3,437.1 L418.4,451.1 L420.0,440.3 L421.6,449.8 L423.2,442.2 L424.7,438.4 L426.2,437.5 L428.1,424.9 L429.5,440.5 L430.8,463.9 L433.2,452.5 L435.0,454.3 L436.4,450.8 L437.8,451.3 L439.1,448.9 L440.5,449.3 L442.0,446.9 L443.5,446.2 L445.0,445.2 L446.5,444.9 L448.0,440.2 L449.5,441.7 L451.1,440.2 L452.7,438.4 L454.3,438.1 L455.9,438.8 L457.4,435.4 L458.8,437.2 L460.3,435.8 L461.7,436.3 L463.2,434.7 L464.7,436.3 L466.2,435.6 L467.8,435.4 L469.3,434.4 L470.8,434.2 L472.3,432.2 L473.7,435.5 L475.2,430.2 L476.6,432.8 L478.1,432.5 L479.5,432.8 L481.0,433.5 L482.4,435.0 L483.9,432.6 L485.3,435.0 L486.8,435.0 M488.6,432.3 L490.5,434.8 L492.3,431.1 L494.1,431.1 L495.9,432.0 L497.4,432.7 L498.8,430.2 L500.3,433.4 L501.7,430.6 L503.2,431.5 L504.7,429.8 L506.1,429.7 L507.6,429.2 L509.0,430.9 L510.5,429.3 L512.3,432.1 L514.1,433.4 L515.9,434.8 L517.4,435.1 L518.8,437.6 L520.3,436.7 L521.7,436.9 L523.2,436.9" stroke="#3f9f3f" stroke-width="1.15"/>
<path d="M75.5,448.1 L77.3,449.5 L79.1,455.2 L80.9,452.2 L82.4,454.3 L83.8,456.0 L85.3,457.2 L86.7,456.1 L88.2,457.0 L90.0,458.5 L91.8,456.9 L93.2,456.0 L94.5,457.4 L95.9,451.7 L97.3,452.5 L99.2,448.7 L101.0,448.5 L102.8,445.0 L104.6,446.5 L106.4,442.8 L107.9,443.0 L109.4,441.8 L111.0,441.7 L112.5,439.1 L114.0,442.3 L115.5,437.8 L117.0,439.4 L118.5,437.6 L120.0,438.0 L121.5,434.7 L123.0,438.6 L124.5,434.8 L126.0,435.4 L127.4,433.7 L128.9,434.0 L130.3,432.6 L131.8,436.4 L133.7,437.9 L135.5,437.3 L136.9,435.5 L138.4,433.9 L139.8,434.4 L141.3,434.3 L142.7,434.5 L144.2,435.4 L145.7,432.8 L147.2,434.4 L148.8,432.8 L150.3,432.6 L151.8,432.2 L153.3,432.8 L154.8,431.0 L156.4,432.2 L157.9,431.1 L159.4,432.4 L160.9,432.1 L162.4,433.0 L163.9,431.8 L165.4,433.3 L167.0,433.3 L168.5,432.6 L170.0,435.0 L172.3,435.7 L173.9,434.7 L175.4,437.1 L177.0,435.4 L178.6,437.9 L178.9,433.2 L180.1,440.6 L181.7,435.4 L183.2,435.7 L184.1,427.6 L185.2,444.2 L186.2,438.1 L187.7,441.2 L189.5,435.4 M194.1,432.2 L195.4,438.0 L196.8,442.4 L198.3,444.0 L199.9,454.0 L201.4,453.4 L203.2,458.0 L205.0,460.0 L206.8,462.0 L208.2,457.9 L209.5,456.4 L211.0,451.8 L212.6,449.3 L214.1,446.7 L215.9,446.7 L217.7,442.5 L219.5,442.6 L221.0,442.9 L222.5,442.1 L224.1,440.8 L225.6,441.4 L227.1,438.6 L228.6,439.6 L230.1,437.3 L231.6,436.9 L233.1,436.8 L234.7,436.2 L236.2,435.5 L237.7,434.0 L239.2,433.6 L240.7,437.2 L242.2,434.2 L243.8,435.3 L245.3,435.3 L246.8,435.0 L248.3,433.1 L249.8,432.4 L251.4,432.8 L252.9,433.4 L254.4,433.5 L255.9,434.6 L257.4,431.8 L258.9,434.3 L260.4,430.8 L262.0,431.0 L263.5,430.3 L265.0,434.1 L266.4,430.8 L267.7,431.8 L269.1,430.6 L270.6,430.6 L272.1,431.3 L273.6,431.3 L275.2,431.4 L276.7,430.6 L278.2,427.1 L280.0,430.6 L281.8,428.5 L283.6,430.6 L285.0,431.9 L286.4,432.7 L287.7,433.4 L289.1,434.3 L290.6,432.7 L292.0,436.2 L293.5,433.5 L294.9,438.3 L296.4,437.9 L298.2,440.2 L300.0,441.4 L301.8,445.8 L303.6,446.2 L305.5,450.0 L307.3,449.4 L309.1,453.1 L310.9,450.9 L312.4,454.7 L313.8,453.1 L315.3,453.5 L316.7,453.5 L318.2,454.3 L320.0,452.7 L321.8,450.3 L323.2,448.7 L324.6,448.0 L325.9,444.0 L327.3,442.2 L329.1,441.9 L330.9,442.7 L332.7,438.3 L334.2,440.8 L335.7,437.9 L337.2,438.3 L338.8,435.2 L340.3,435.6 L341.8,433.8 L343.3,434.8 L344.8,433.7 L346.4,435.4 L347.9,433.0 L349.4,434.9 L350.9,432.5 L352.4,432.4 L353.9,430.7 L355.4,432.6 L357.0,431.4 L358.5,432.0 L360.0,431.6 L361.4,432.5 L362.7,431.5 L364.1,433.4 L365.6,429.5 L367.1,432.0 L368.6,429.7 L370.2,433.5 L371.7,430.1 L373.2,431.6 L374.7,429.1 L376.2,430.2 L377.8,429.3 L379.3,431.2 L380.8,428.2 L382.3,430.2 L383.8,430.0 L385.3,429.2 L386.9,429.9 L388.4,430.7 L389.9,429.4 L391.4,429.3 L392.9,430.3 L394.4,430.7 L395.9,429.8 L397.5,433.5 L399.0,430.1 L400.5,431.0 L402.3,429.1 L404.1,431.0 L405.9,431.3 L407.3,433.2 L408.6,434.8 L410.0,440.7 L411.4,432.2 L413.2,438.6 L415.0,427.0 L416.8,445.8 L418.4,448.0 L420.0,452.0 L421.6,440.2 L423.2,444.7 L424.7,439.0 L426.8,421.7 L427.7,439.9 L429.5,462.2 L431.4,444.7 L433.2,457.3 L435.0,452.8 L436.4,454.3 L437.8,450.0 L439.1,450.6 L440.5,447.7 L442.0,447.9 L443.5,445.6 L445.0,444.6 L446.5,444.3 L448.0,444.1 L449.5,439.3 L451.1,439.6 L452.7,439.2 L454.3,437.4 L455.9,437.7 L457.4,438.9 L458.8,435.5 L460.3,436.9 L461.7,436.2 L463.2,435.4 L464.7,434.0 L466.2,435.8 L467.8,434.9 L469.3,435.2 L470.8,433.2 L472.3,434.4 L473.7,431.5 L475.2,435.1 L476.6,430.1 L478.1,432.7 L479.5,432.5 L481.0,433.3 L482.4,433.1 L483.9,435.0 L485.3,432.7 L486.8,435.0 M488.6,433.9 L490.5,431.0 L492.3,433.8 L494.1,429.7 L495.9,431.1 L497.4,431.8 L498.8,432.7 L500.3,430.4 L501.7,432.9 L503.2,430.1 L504.7,431.4 L506.1,428.9 L507.6,429.4 L509.0,429.8 L510.5,431.3 L512.3,429.9 L514.1,433.0 L515.9,434.1 L517.4,434.7 L518.8,435.6 L520.3,438.4 L521.7,436.8 L523.2,436.9" stroke="#1f1fff" stroke-width="1.15"/>
<path d="M76.2,448.4 L77.3,451.2 L79.1,452.4 L80.9,452.9 L82.4,453.9 L83.8,455.4 L85.3,456.3 L86.7,456.9 L88.2,457.5 L90.0,458.1 L91.8,456.8 L93.2,456.8 L94.5,455.6 L95.9,454.0 L97.3,452.5 L99.2,450.3 L101.0,448.4 L102.8,447.1 L104.6,445.5 L106.4,444.0 L107.9,443.1 L109.4,442.2 L111.0,441.2 L112.5,441.1 L114.0,440.6 L115.5,439.5 L117.0,438.8 L118.5,438.4 L120.0,437.3 L121.5,437.0 L123.0,437.3 L124.5,436.4 L126.0,435.2 L127.4,434.4 L128.9,433.9 L130.3,433.7 L131.8,435.3 L133.7,437.1 L135.5,436.8 L136.9,435.7 L138.4,434.7 L139.8,434.4 L141.3,434.4 L142.7,434.8 L144.2,434.6 L145.7,434.0 L147.2,433.6 L148.8,433.2 L150.3,433.2 L151.8,432.8 L153.3,432.2 L154.8,431.9 L156.4,431.7 L157.9,431.6 L159.4,431.7 L160.9,432.2 L162.4,432.2 L163.9,432.5 L165.4,433.2 L167.0,433.1 L168.5,432.9 L170.0,434.4 L172.3,435.1 L173.9,435.1 L175.4,436.0 L177.0,436.6 L178.6,437.7 L179.6,433.5 L180.8,439.1 L181.7,435.6 L183.2,437.3 L184.8,428.2 L185.9,440.8 L186.2,439.4 L187.7,438.2 L189.5,436.9 M193.9,425.0 L195.1,443.2 L195.4,437.3 L196.8,440.5 L198.3,445.2 L199.9,449.5 L201.4,452.4 L203.2,455.7 L205.0,459.5 L206.8,460.8 L208.2,460.3 L209.5,456.8 L211.0,453.3 L212.6,449.7 L214.1,448.3 L215.9,446.2 L217.7,443.8 L219.5,443.4 L221.0,443.0 L222.5,442.0 L224.1,441.6 L225.6,441.0 L227.1,440.2 L228.6,439.0 L230.1,437.9 L231.6,437.7 L233.1,437.2 L234.7,436.4 L236.2,435.7 L237.7,435.0 L239.2,435.0 L240.7,435.5 L242.2,435.3 L243.8,435.1 L245.3,435.0 L246.8,434.6 L248.3,433.9 L249.8,433.2 L251.4,433.2 L252.9,433.7 L254.4,434.0 L255.9,433.7 L257.4,433.6 L258.9,433.2 L260.4,432.2 L262.0,431.7 L263.5,432.4 L265.0,432.7 L266.4,432.1 L267.7,431.4 L269.1,430.7 L270.6,431.0 L272.1,431.4 L273.6,431.3 L275.2,431.0 L276.7,429.7 L278.2,429.0 L280.0,429.3 L281.8,429.2 L283.6,430.3 L285.0,431.5 L286.4,432.1 L287.7,432.9 L289.1,433.2 L290.6,434.0 L292.0,434.6 L293.5,435.2 L294.9,436.1 L296.4,437.6 L298.2,439.5 L300.0,441.1 L301.8,443.5 L303.6,446.4 L305.5,448.5 L307.3,450.0 L309.1,451.5 L310.9,452.1 L312.4,453.1 L313.8,453.6 L315.3,453.6 L316.7,454.3 L318.2,454.3 L320.0,453.6 L321.8,451.3 L323.2,449.7 L324.6,447.6 L325.9,445.2 L327.3,443.5 L329.1,442.5 L330.9,441.6 L332.7,440.2 L334.2,439.5 L335.7,438.6 L337.2,437.3 L338.8,436.0 L340.3,435.1 L341.8,434.7 L343.3,434.9 L344.8,434.9 L346.4,434.2 L347.9,433.8 L349.4,433.6 L350.9,433.1 L352.4,432.5 L353.9,432.1 L355.4,431.9 L357.0,431.8 L358.5,431.7 L360.0,432.0 L361.4,432.1 L362.7,432.3 L364.1,432.0 L365.6,431.6 L367.1,431.3 L368.6,431.5 L370.2,431.4 L371.7,430.7 L373.2,430.3 L374.7,430.1 L376.2,429.8 L377.8,429.9 L379.3,429.8 L380.8,429.6 L382.3,429.7 L383.8,429.4 L385.3,429.0 L386.9,429.5 L388.4,429.9 L389.9,429.3 L391.4,429.2 L392.9,429.9 L394.4,430.0 L395.9,430.8 L397.5,431.5 L399.0,431.3 L400.5,430.5 L402.3,429.8 L404.1,429.5 L405.9,431.2 L407.3,432.7 L408.6,435.4 L410.0,435.1 L411.4,435.2 L413.2,437.6 L415.7,435.6 L416.8,444.3 L418.4,447.7 L420.0,447.8 L421.6,447.4 L423.2,444.6 L424.7,441.9 L426.2,438.3 L427.5,427.7 L430.2,456.2 L431.4,448.0 L433.2,453.9 L435.0,454.0 L436.4,453.0 L437.8,451.8 L439.1,450.6 L440.5,449.4 L442.0,447.9 L443.5,446.3 L445.0,445.5 L446.5,444.8 L448.0,443.3 L449.5,441.4 L451.1,440.2 L452.7,439.0 L454.3,437.5 L455.9,437.9 L457.4,437.2 L458.8,436.4 L460.3,436.5 L461.7,436.4 L463.2,435.7 L464.7,435.3 L466.2,435.4 L467.8,435.3 L469.3,434.5 L470.8,434.1 L472.3,433.8 L473.7,433.8 L475.2,433.2 L476.6,432.1 L478.1,432.3 L479.5,432.7 L481.0,432.8 L482.4,433.7 L483.9,433.6 L485.3,433.7 L486.8,434.1 M488.6,434.9 L490.5,432.8 L492.3,432.2 L494.1,430.6 L495.9,430.5 L497.4,431.5 L498.8,431.2 L500.3,431.2 L501.7,431.6 L503.2,430.9 L504.7,430.4 L506.1,430.0 L507.6,429.6 L509.0,429.8 L510.5,430.5 L512.3,430.8 L514.1,432.3 L515.9,433.8 L517.4,434.3 L518.8,435.5 L520.3,437.0 L521.7,437.3 L523.2,436.8" stroke="#ff3fff" stroke-width="1.15"/>
<path d="M75.5,449.5 L77.4,449.6 L79.1,451.5 L80.9,452.6 L82.4,453.8 L83.8,454.5 L85.3,455.0 L86.7,456.1 L88.2,457.0 L90.0,457.5 L91.8,457.7 L93.2,456.5 L94.5,455.6 L95.9,454.8 L97.3,453.4 L99.2,451.2 L101.0,449.2 L102.8,447.7 L104.6,445.7 L106.4,444.3 L107.9,443.5 L109.4,442.4 L111.0,442.0 L112.5,441.4 L114.0,440.3 L115.5,439.6 L117.0,439.1 L118.5,438.4 L120.0,438.1 L121.5,437.8 L123.0,437.2 L124.5,436.5 L126.0,435.8 L127.4,435.0 L128.9,434.5 L130.3,434.2 L131.8,434.9 L133.7,436.3 L135.5,436.1 L136.9,435.5 L138.4,435.2 L139.8,435.0 L141.3,434.8 L142.7,434.5 L144.2,434.2 L145.7,434.0 L147.2,433.6 L148.8,433.5 L150.3,433.4 L151.8,433.0 L153.3,432.7 L154.8,432.6 L156.4,432.4 L157.9,432.3 L159.4,432.1 L160.9,432.0 L162.4,432.2 L163.9,432.6 L165.4,432.7 L167.0,432.8 L168.5,433.2 L170.0,434.2 L172.3,435.4 L173.9,435.8 L175.4,436.1 L177.0,436.5 L178.6,436.3 L180.1,436.1 L180.8,435.6 L182.0,438.8 L183.2,439.1 L184.7,439.1 L186.0,431.7 L187.2,438.9 L187.7,437.4 L189.5,437.3 M194.1,431.6 L195.2,431.0 L196.3,441.4 L196.8,439.4 L198.3,443.6 L199.9,447.1 L201.4,450.3 L203.2,454.3 L205.0,458.2 L206.8,460.3 L208.2,460.7 L209.5,458.7 L211.0,454.9 L212.6,451.3 L214.1,448.9 L215.9,446.8 L217.7,445.1 L219.5,444.1 L221.0,443.3 L222.5,442.5 L224.1,441.8 L225.6,441.1 L227.1,440.3 L228.6,439.4 L230.1,438.8 L231.6,438.2 L233.1,437.4 L234.7,436.5 L236.2,435.3 L237.7,435.3 L239.2,435.6 L240.7,435.4 L242.2,435.3 L243.8,435.2 L245.3,434.9 L246.8,434.5 L248.3,434.1 L249.8,434.0 L251.4,434.1 L252.9,434.2 L254.4,433.8 L255.9,433.6 L257.4,433.4 L258.9,432.8 L260.4,432.2 L262.0,432.5 L263.5,432.9 L265.0,432.4 L266.4,432.0 L267.7,431.6 L269.1,431.6 L270.6,431.6 L272.1,431.4 L273.6,431.1 L275.2,430.2 L276.7,429.7 L278.2,429.8 L280.0,429.5 L281.8,429.3 L283.6,429.9 L285.0,430.8 L286.4,431.7 L287.7,432.2 L289.1,433.0 L290.6,433.5 L292.0,434.3 L293.5,435.1 L294.9,435.7 L296.4,436.7 L298.2,438.5 L300.0,440.3 L301.8,442.3 L303.6,445.2 L305.5,447.4 L307.3,449.1 L309.1,450.8 L310.9,452.2 L312.4,452.7 L313.8,453.0 L315.3,453.6 L316.7,454.3 L318.2,454.2 L320.0,453.7 L321.8,452.6 L323.2,450.5 L324.6,448.0 L325.9,445.9 L327.3,444.7 L329.1,443.5 L330.9,441.8 L332.7,440.7 L334.2,439.8 L335.7,438.6 L337.2,437.6 L338.8,436.6 L340.3,435.7 L341.8,435.3 L343.3,435.2 L344.8,434.8 L346.4,434.4 L347.9,434.1 L349.4,433.6 L350.9,433.0 L352.4,432.7 L353.9,432.6 L355.4,432.4 L357.0,432.1 L358.5,431.8 L360.0,431.8 L361.4,432.3 L362.7,432.1 L364.1,431.9 L365.6,431.7 L367.1,431.8 L368.6,431.6 L370.2,431.3 L371.7,430.9 L373.2,430.7 L374.7,430.4 L376.2,430.4 L377.8,430.2 L379.3,429.8 L380.8,429.6 L382.3,429.3 L383.8,429.2 L385.3,429.5 L386.9,429.6 L388.4,429.3 L389.9,429.2 L391.4,429.5 L392.9,429.6 L394.4,430.2 L395.9,430.7 L397.5,430.7 L399.0,430.8 L400.5,430.7 L402.3,430.3 L404.1,429.7 L405.9,430.4 L407.3,432.9 L408.6,432.7 L410.0,433.1 L411.4,434.4 L413.2,436.9 L415.0,440.6 L416.9,440.5 L418.4,444.8 L420.0,445.1 L421.6,447.2 L423.2,446.5 L424.7,442.7 L426.2,439.6 L427.7,440.0 L428.7,433.4 L429.5,442.6 L431.4,453.3 L433.2,452.5 L435.0,453.9 L436.4,453.1 L437.8,452.4 L439.1,451.9 L440.5,450.7 L442.0,449.0 L443.5,447.3 L445.0,446.2 L446.5,444.6 L448.0,443.1 L449.5,442.1 L451.1,440.9 L452.7,439.5 L454.3,438.4 L455.9,437.4 L457.4,436.9 L458.8,436.8 L460.3,436.6 L461.7,436.2 L463.2,436.0 L464.7,435.9 L466.2,435.7 L467.8,435.2 L469.3,434.9 L470.8,434.3 L472.3,434.3 L473.7,433.7 L475.2,433.0 L476.6,432.9 L478.1,432.7 L479.5,432.6 L481.0,433.2 L482.4,433.3 L483.9,433.4 L485.3,433.7 L486.8,433.7 M488.6,437.4 L490.5,433.5 L492.3,432.3 L494.1,431.4 L495.9,431.3 L497.4,431.1 L498.8,431.2 L500.3,431.2 L501.7,431.1 L503.2,430.7 L504.7,430.2 L506.1,429.9 L507.6,429.8 L509.0,429.2 L510.5,429.4 L512.3,430.7 L514.1,432.1 L515.9,433.2 L517.4,434.4 L518.8,435.3 L520.3,435.9 L521.7,436.7 L523.2,437.1" stroke="#7fff5f" stroke-width="1.15"/>
<path d="M75.5,449.2 L77.3,449.9 L79.1,451.0 L80.9,452.0 L82.4,452.7 L83.8,453.8 L85.3,454.8 L86.7,455.6 L88.2,456.3 L90.0,457.1 L91.8,457.7 L93.2,456.9 L94.5,456.4 L95.9,455.4 L97.3,454.5 L99.2,452.3 L101.0,450.0 L102.8,448.2 L104.6,446.5 L106.4,444.7 L107.9,443.8 L109.4,443.1 L111.0,442.3 L112.5,441.4 L114.0,440.9 L115.5,440.1 L117.0,439.4 L118.5,439.1 L120.0,438.6 L121.5,438.0 L123.0,437.7 L124.5,437.3 L126.0,436.4 L127.4,435.7 L128.9,435.0 L130.3,434.2 L131.8,433.5 L133.7,435.3 L135.5,436.7 L136.9,436.2 L138.4,435.5 L139.8,435.1 L141.3,434.8 L142.7,434.5 L144.2,434.5 L145.7,434.2 L147.2,434.0 L148.8,433.8 L150.3,433.5 L151.8,433.5 L153.3,433.2 L154.8,432.8 L156.4,432.5 L157.9,432.3 L159.4,432.1 L160.9,431.9 L162.4,432.2 L163.9,432.4 L165.4,432.7 L167.0,433.0 L168.5,433.2 L170.0,433.4 L172.3,435.4 L173.9,435.6 L175.4,435.9 L177.0,436.2 L178.6,436.4 L180.1,437.1 L181.7,437.2 L183.2,437.5 L184.7,438.2 L186.2,438.2 L187.7,437.9 L188.8,421.3 L189.9,439.3 M191.2,435.3 L191.5,397.3 L191.8,431.3 L194.1,428.4 L195.4,432.7 L196.8,437.2 L198.3,440.7 L199.9,444.6 L201.4,448.5 L203.2,452.2 L205.0,456.2 L206.8,460.1 L208.2,460.5 L209.5,460.9 L211.0,457.3 L212.6,453.6 L214.1,449.9 L215.9,448.1 L217.7,446.2 L219.5,444.3 L221.0,443.7 L222.5,443.1 L224.1,442.2 L225.6,441.5 L227.1,440.7 L228.6,440.0 L230.1,439.3 L231.6,438.4 L233.1,437.8 L234.7,437.1 L236.2,436.3 L237.7,435.4 L239.2,435.2 L240.7,435.4 L242.2,435.4 L243.8,435.2 L245.3,435.2 L246.8,435.1 L248.3,434.7 L249.8,434.4 L251.4,434.1 L252.9,434.0 L254.4,433.9 L255.9,433.8 L257.4,433.4 L258.9,433.3 L260.4,433.2 L262.0,432.7 L263.5,432.4 L265.0,432.6 L266.4,432.5 L267.7,432.0 L269.1,431.7 L270.6,431.3 L272.1,431.2 L273.6,431.0 L275.2,430.8 L276.7,430.5 L278.2,429.8 L280.0,429.6 L281.8,429.5 L283.6,429.1 L285.0,430.1 L286.4,431.0 L287.7,431.9 L289.1,432.8 L290.6,433.1 L292.0,433.8 L293.5,434.4 L294.9,435.0 L296.4,435.7 L298.2,437.4 L300.0,439.2 L301.8,441.0 L303.6,443.7 L305.5,446.5 L307.3,448.3 L309.1,450.0 L310.9,451.7 L312.4,452.3 L313.8,453.0 L315.3,453.4 L316.7,453.9 L318.2,454.5 L320.0,454.1 L321.8,453.5 L323.2,451.5 L324.6,449.7 L325.9,447.6 L327.3,445.3 L329.1,443.8 L330.9,442.6 L332.7,441.0 L334.2,440.1 L335.7,439.3 L337.2,438.3 L338.8,437.3 L340.3,436.4 L341.8,435.4 L343.3,435.1 L344.8,434.9 L346.4,434.7 L347.9,434.3 L349.4,433.9 L350.9,433.6 L352.4,433.2 L353.9,432.8 L355.4,432.5 L357.0,432.3 L358.5,432.0 L360.0,431.8 L361.4,431.9 L362.7,432.2 L364.1,432.5 L365.6,432.0 L367.1,431.7 L368.6,431.5 L370.2,431.4 L371.7,431.2 L373.2,430.9 L374.7,430.6 L376.2,430.3 L377.8,430.0 L379.3,429.9 L380.8,429.6 L382.3,429.2 L383.8,429.3 L385.3,429.1 L386.9,429.2 L388.4,429.3 L389.9,429.3 L391.4,429.1 L392.9,429.4 L394.4,429.8 L395.9,430.0 L397.5,430.5 L399.0,430.9 L400.5,430.9 L402.3,430.3 L404.1,429.8 L405.9,429.3 L407.3,430.6 L408.6,432.0 L410.0,433.9 L411.4,434.5 L413.2,436.3 L415.0,438.8 L416.8,441.4 L418.4,443.8 L420.0,445.7 L421.6,446.5 L423.2,447.7 L424.7,445.0 L426.2,441.7 L427.7,438.1 L429.5,442.0 L431.4,445.1 L433.2,449.6 L435.0,454.8 L436.4,453.8 L437.8,453.1 L439.1,452.3 L440.5,451.7 L442.0,449.9 L443.5,448.2 L445.0,446.4 L446.5,445.3 L448.0,444.2 L449.5,442.7 L451.1,441.2 L452.7,440.2 L454.3,438.8 L455.9,437.4 L457.4,437.4 L458.8,437.0 L460.3,436.7 L461.7,436.6 L463.2,436.4 L464.7,435.9 L466.2,435.7 L467.8,435.5 L469.3,435.2 L470.8,434.8 L472.3,434.5 L473.7,434.0 L475.2,433.8 L476.6,433.3 L478.1,432.8 L479.5,432.7 L481.0,432.8 L482.4,433.0 L483.9,433.4 L485.3,433.5 L486.8,433.6 M488.6,441.0 L490.5,433.5 L492.3,432.8 L494.1,431.9 L495.9,430.8 L497.4,431.0 L498.8,431.1 L500.3,431.0 L501.7,431.0 L503.2,431.0 L504.7,430.6 L506.1,430.2 L507.6,429.7 L509.0,429.5 L510.5,429.2 L512.3,430.2 L514.1,431.3 L515.9,432.7 L517.4,433.6 L518.8,434.5 L520.3,435.6 L521.7,436.5 L523.2,437.2" stroke="#ff4a3a" stroke-width="1.2"/>
</g>
<rect x="53.0" y="361.2" width="492.6" height="103.69999999999999" fill="none" stroke="#9a9a9a" stroke-width="1.4"/>
<line x1="49.6" y1="361.2" x2="53.0" y2="361.2" stroke="#9a9a9a" stroke-width="1.1"/>
<text x="45.8" y="364.3" font-size="8.6" text-anchor="end" fill="#111">9</text>
<line x1="49.6" y1="382.4" x2="53.0" y2="382.4" stroke="#9a9a9a" stroke-width="1.1"/>
<text x="45.8" y="385.5" font-size="8.6" text-anchor="end" fill="#111">6</text>
<line x1="49.6" y1="403.5" x2="53.0" y2="403.5" stroke="#9a9a9a" stroke-width="1.1"/>
<text x="45.8" y="406.6" font-size="8.6" text-anchor="end" fill="#111">3</text>
<line x1="49.6" y1="424.6" x2="53.0" y2="424.6" stroke="#9a9a9a" stroke-width="1.1"/>
<text x="45.8" y="427.8" font-size="8.6" text-anchor="end" fill="#111">0</text>
<line x1="49.6" y1="445.8" x2="53.0" y2="445.8" stroke="#9a9a9a" stroke-width="1.1"/>
<text x="45.8" y="448.9" font-size="8.6" text-anchor="end" fill="#111">−3</text>
<line x1="73.6" y1="464.9" x2="73.6" y2="467.7" stroke="#9a9a9a" stroke-width="1.1"/>
<line x1="129.8" y1="464.9" x2="129.8" y2="467.7" stroke="#9a9a9a" stroke-width="1.1"/>
<line x1="187.0" y1="464.9" x2="187.0" y2="467.7" stroke="#9a9a9a" stroke-width="1.1"/>
<line x1="243.5" y1="464.9" x2="243.5" y2="467.7" stroke="#9a9a9a" stroke-width="1.1"/>
<line x1="300.4" y1="464.9" x2="300.4" y2="467.7" stroke="#9a9a9a" stroke-width="1.1"/>
<line x1="356.6" y1="464.9" x2="356.6" y2="467.7" stroke="#9a9a9a" stroke-width="1.1"/>
<line x1="413.8" y1="464.9" x2="413.8" y2="467.7" stroke="#9a9a9a" stroke-width="1.1"/>
<line x1="470.0" y1="464.9" x2="470.0" y2="467.7" stroke="#9a9a9a" stroke-width="1.1"/>
<line x1="527.2" y1="464.9" x2="527.2" y2="467.7" stroke="#9a9a9a" stroke-width="1.1"/>
<text x="58" y="370.1" font-size="8.7" fill="#111">Close Ice</text>
<g transform="translate(28.4,430.5) rotate(-90)" fill="#111"><text x="-0.3" y="0" font-size="10.2" font-style="italic" font-family="DejaVu Sans, sans-serif">σ</text><text x="6.2" y="-4.3" font-size="5.6" font-style="italic">0</text><text x="10.6" y="1.6" font-size="6.3" font-style="italic">VV, PC1</text></g>
<rect x="136.4" y="364.3" width="123.3" height="35.9" fill="#fff"/>
<line x1="142.5" y1="364.3" x2="142.5" y2="400.2" stroke="#a0a0a0" stroke-width="0.8" stroke-dasharray="2.6,1.6"/>
<line x1="179.8" y1="364.3" x2="179.8" y2="400.2" stroke="#a0a0a0" stroke-width="0.8" stroke-dasharray="2.6,1.6"/>
<line x1="217.1" y1="364.3" x2="217.1" y2="400.2" stroke="#a0a0a0" stroke-width="0.8" stroke-dasharray="2.6,1.6"/>
<line x1="254.4" y1="364.3" x2="254.4" y2="400.2" stroke="#a0a0a0" stroke-width="0.8" stroke-dasharray="2.6,1.6"/>
<line x1="136.4" y1="365.4" x2="259.7" y2="365.4" stroke="#a0a0a0" stroke-width="0.8" stroke-dasharray="2.6,1.6"/>
<line x1="136.4" y1="395.5" x2="259.7" y2="395.5" stroke="#a0a0a0" stroke-width="0.8" stroke-dasharray="2.6,1.6"/>
<g fill="none" stroke-width="1.15" stroke-linejoin="round">
<path d="M142.5,375.8 L143.7,375.8 L144.9,375.8 L146.1,375.9 L147.3,375.9 L148.5,376.0 L149.7,376.0 L150.9,376.1 L152.1,376.2 L153.3,376.3 L154.5,376.4 L155.7,376.5 L156.9,376.7 L158.1,376.8 L159.3,377.1 L160.5,377.3 L161.7,377.6 L162.9,377.9 L164.1,378.2 L165.3,378.5 L166.5,379.0 L167.7,379.6 L168.9,380.4 L170.1,381.1 L171.3,382.0 L172.5,382.8 L173.7,383.5 L174.9,384.2 L176.1,384.7 L177.3,385.1 L178.5,385.5 L179.7,385.9 L180.9,386.2 L182.1,386.5 L183.3,386.8 L184.5,387.1 L185.7,387.5 L186.9,387.9 L188.1,388.3 L189.3,388.9 L190.5,389.6 L191.7,390.4 L192.9,391.1 L194.1,391.8 L195.3,392.3 L196.5,392.8 L197.7,393.1 L198.9,393.1 L200.1,393.0 L201.3,392.7 L202.5,392.4 L203.7,392.0 L204.9,391.6 L206.1,391.1 L207.3,390.6 L208.5,390.2 L209.7,389.8 L210.9,389.3 L212.1,388.8 L213.3,388.3 L214.5,387.8 L215.7,387.5 L216.9,387.3 L218.1,387.4 L219.3,387.6 L220.5,387.8 L221.7,388.1 L222.9,388.3 L224.1,388.5 L225.3,388.5 L226.5,388.5 L227.7,388.5 L228.9,388.5 L230.1,388.5 L231.3,388.5 L232.5,388.5 L233.7,388.5 L234.9,388.5 L236.1,388.5 L237.3,388.7 L238.5,389.0 L239.7,389.5 L240.9,390.0 L242.1,390.6 L243.3,391.1 L244.5,391.8 L245.7,392.7 L246.9,393.7 L248.1,394.6 L249.3,395.5 L250.5,396.1 L251.7,396.6 L252.9,397.0 L254.1,397.3 L254.4,397.4" stroke="#3f9f3f"/>
<path d="M142.5,374.5 L143.7,374.6 L144.9,374.8 L146.1,374.9 L147.3,375.1 L148.5,375.2 L149.7,375.3 L150.9,375.5 L152.1,375.6 L153.3,375.8 L154.5,375.9 L155.7,376.0 L156.9,376.1 L158.1,376.2 L159.3,376.4 L160.5,376.5 L161.7,376.6 L162.9,376.8 L164.1,377.0 L165.3,377.2 L166.5,377.5 L167.7,378.0 L168.9,378.5 L170.1,379.1 L171.3,379.7 L172.5,380.4 L173.7,381.0 L174.9,381.6 L176.1,382.2 L177.3,382.8 L178.5,383.3 L179.7,383.9 L180.9,384.4 L182.1,384.9 L183.3,385.5 L184.5,386.0 L185.7,386.6 L186.9,387.1 L188.1,387.7 L189.3,388.4 L190.5,389.1 L191.7,389.8 L192.9,390.5 L194.1,391.2 L195.3,391.7 L196.5,392.1 L197.7,392.4 L198.9,392.4 L200.1,392.2 L201.3,391.9 L202.5,391.5 L203.7,391.1 L204.9,390.8 L206.1,390.6 L207.3,390.5 L208.5,390.4 L209.7,390.3 L210.9,390.3 L212.1,390.2 L213.3,390.1 L214.5,390.1 L215.7,390.0 L216.9,389.8 L218.1,389.5 L219.3,388.9 L220.5,388.0 L221.7,387.2 L222.9,386.4 L224.1,386.0 L225.3,386.0 L226.5,386.2 L227.7,386.4 L228.9,386.6 L230.1,386.9 L231.3,387.2 L232.5,387.4 L233.7,387.6 L234.9,387.7 L236.1,387.9 L237.3,388.1 L238.5,388.3 L239.7,388.6 L240.9,389.0 L242.1,389.6 L243.3,390.3 L244.5,391.0 L245.7,391.7 L246.9,392.4 L248.1,393.0 L249.3,393.6 L250.5,394.2 L251.7,394.8 L252.9,395.4 L254.1,396.0 L254.4,396.2" stroke="#1f1fff"/>
<path d="M142.5,372.8 L143.7,373.0 L144.9,373.2 L146.1,373.5 L147.3,373.7 L148.5,373.9 L149.7,374.2 L150.9,374.4 L152.1,374.6 L153.3,374.9 L154.5,375.2 L155.7,375.4 L156.9,375.7 L158.1,376.0 L159.3,376.2 L160.5,376.5 L161.7,376.8 L162.9,377.1 L164.1,377.4 L165.3,377.7 L166.5,378.0 L167.7,378.3 L168.9,378.6 L170.1,379.0 L171.3,379.3 L172.5,379.6 L173.7,380.0 L174.9,380.4 L176.1,380.7 L177.3,381.1 L178.5,381.5 L179.7,381.9 L180.9,382.3 L182.1,382.8 L183.3,383.2 L184.5,383.6 L185.7,384.1 L186.9,384.6 L188.1,385.1 L189.3,385.6 L190.5,386.3 L191.7,387.0 L192.9,387.7 L194.1,388.3 L195.3,388.9 L196.5,389.3 L197.7,389.7 L198.9,389.9 L200.1,390.0 L201.3,390.1 L202.5,390.2 L203.7,390.3 L204.9,390.4 L206.1,390.5 L207.3,390.6 L208.5,390.6 L209.7,390.6 L210.9,390.6 L212.1,390.5 L213.3,390.5 L214.5,390.4 L215.7,390.3 L216.9,390.2 L218.1,390.1 L219.3,390.0 L220.5,389.8 L221.7,389.7 L222.9,389.4 L224.1,389.1 L225.3,388.7 L226.5,388.4 L227.7,388.0 L228.9,387.7 L230.1,387.5 L231.3,387.3 L232.5,387.3 L233.7,387.4 L234.9,387.5 L236.1,387.8 L237.3,388.1 L238.5,388.4 L239.7,388.7 L240.9,389.1 L242.1,389.5 L243.3,389.8 L244.5,390.2 L245.7,390.7 L246.9,391.1 L248.1,391.6 L249.3,392.2 L250.5,392.8 L251.7,393.4 L252.9,394.1 L254.1,394.7 L254.4,394.9" stroke="#ff3fff"/>
<path d="M142.5,368.7 L143.7,369.1 L144.9,369.5 L146.1,369.9 L147.3,370.3 L148.5,370.6 L149.7,371.0 L150.9,371.4 L152.1,371.8 L153.3,372.1 L154.5,372.5 L155.7,372.8 L156.9,373.2 L158.1,373.5 L159.3,373.8 L160.5,374.1 L161.7,374.4 L162.9,374.7 L164.1,375.0 L165.3,375.3 L166.5,375.6 L167.7,375.9 L168.9,376.2 L170.1,376.5 L171.3,376.8 L172.5,377.1 L173.7,377.5 L174.9,377.8 L176.1,378.1 L177.3,378.5 L178.5,378.8 L179.7,379.2 L180.9,379.5 L182.1,379.9 L183.3,380.2 L184.5,380.6 L185.7,380.9 L186.9,381.3 L188.1,381.7 L189.3,382.0 L190.5,382.4 L191.7,382.8 L192.9,383.2 L194.1,383.6 L195.3,384.0 L196.5,384.4 L197.7,384.8 L198.9,385.2 L200.1,385.5 L201.3,385.8 L202.5,386.1 L203.7,386.3 L204.9,386.6 L206.1,386.8 L207.3,387.1 L208.5,387.3 L209.7,387.5 L210.9,387.7 L212.1,387.8 L213.3,388.0 L214.5,388.1 L215.7,388.3 L216.9,388.4 L218.1,388.6 L219.3,388.7 L220.5,388.8 L221.7,388.9 L222.9,389.0 L224.1,389.0 L225.3,389.0 L226.5,389.0 L227.7,389.0 L228.9,389.0 L230.1,389.0 L231.3,389.0 L232.5,389.0 L233.7,389.0 L234.9,389.0 L236.1,389.0 L237.3,389.0 L238.5,389.0 L239.7,389.0 L240.9,389.1 L242.1,389.3 L243.3,389.6 L244.5,389.9 L245.7,390.2 L246.9,390.6 L248.1,391.0 L249.3,391.4 L250.5,391.8 L251.7,392.3 L252.9,392.9 L254.1,393.5 L254.4,393.6" stroke="#7fff5f"/>
<path d="M142.5,366.1 L143.7,366.5 L144.9,366.8 L146.1,367.2 L147.3,367.5 L148.5,367.9 L149.7,368.3 L150.9,368.6 L152.1,369.0 L153.3,369.4 L154.5,369.8 L155.7,370.1 L156.9,370.5 L158.1,370.9 L159.3,371.3 L160.5,371.7 L161.7,372.1 L162.9,372.6 L164.1,373.0 L165.3,373.4 L166.5,373.8 L167.7,374.2 L168.9,374.6 L170.1,375.1 L171.3,375.5 L172.5,375.9 L173.7,376.2 L174.9,376.6 L176.1,377.0 L177.3,377.4 L178.5,377.8 L179.7,378.2 L180.9,378.5 L182.1,378.9 L183.3,379.3 L184.5,379.6 L185.7,380.0 L186.9,380.3 L188.1,380.6 L189.3,381.0 L190.5,381.3 L191.7,381.6 L192.9,381.9 L194.1,382.2 L195.3,382.5 L196.5,382.8 L197.7,383.1 L198.9,383.4 L200.1,383.6 L201.3,383.8 L202.5,384.1 L203.7,384.3 L204.9,384.4 L206.1,384.6 L207.3,384.8 L208.5,385.0 L209.7,385.1 L210.9,385.3 L212.1,385.4 L213.3,385.6 L214.5,385.7 L215.7,385.8 L216.9,386.0 L218.1,386.1 L219.3,386.2 L220.5,386.3 L221.7,386.4 L222.9,386.5 L224.1,386.6 L225.3,386.7 L226.5,386.8 L227.7,386.9 L228.9,387.0 L230.1,387.1 L231.3,387.2 L232.5,387.4 L233.7,387.5 L234.9,387.7 L236.1,387.8 L237.3,388.0 L238.5,388.2 L239.7,388.4 L240.9,388.6 L242.1,388.8 L243.3,389.0 L244.5,389.3 L245.7,389.5 L246.9,389.8 L248.1,390.1 L249.3,390.4 L250.5,390.7 L251.7,391.0 L252.9,391.4 L254.1,391.7 L254.4,391.8" stroke="#ff4a3a"/>
</g>
<rect x="136.4" y="364.3" width="123.3" height="35.9" fill="none" stroke="#707070" stroke-width="1.0"/>
<text x="142.5" y="408.9" font-size="6.6" text-anchor="middle" fill="#111">01</text>
<text x="179.8" y="408.9" font-size="6.6" text-anchor="middle" fill="#111">11</text>
<text x="217.1" y="408.9" font-size="6.6" text-anchor="middle" fill="#111">21</text>
<text x="254.4" y="408.9" font-size="6.6" text-anchor="middle" fill="#111">31</text>
<rect x="417.3" y="364.3" width="123.4" height="35.9" fill="#fff"/>
<line x1="423.3" y1="364.3" x2="423.3" y2="400.2" stroke="#a0a0a0" stroke-width="0.8" stroke-dasharray="2.6,1.6"/>
<line x1="460.6" y1="364.3" x2="460.6" y2="400.2" stroke="#a0a0a0" stroke-width="0.8" stroke-dasharray="2.6,1.6"/>
<line x1="497.9" y1="364.3" x2="497.9" y2="400.2" stroke="#a0a0a0" stroke-width="0.8" stroke-dasharray="2.6,1.6"/>
<line x1="535.2" y1="364.3" x2="535.2" y2="400.2" stroke="#a0a0a0" stroke-width="0.8" stroke-dasharray="2.6,1.6"/>
<line x1="417.3" y1="376.3" x2="540.7" y2="376.3" stroke="#a0a0a0" stroke-width="0.8" stroke-dasharray="2.6,1.6"/>
<g fill="none" stroke-width="1.15" stroke-linejoin="round">
<path d="M423.3,365.9 L424.5,366.8 L425.7,367.6 L426.9,368.2 L428.1,368.7 L429.3,369.2 L430.5,369.6 L431.7,370.0 L432.9,370.3 L434.1,370.5 L435.3,370.7 L436.5,370.9 L437.7,371.0 L438.9,371.1 L440.1,371.2 L441.3,371.3 L442.5,371.4 L443.7,371.5 L444.9,371.7 L446.1,371.9 L447.3,372.1 L448.5,372.4 L449.7,372.7 L450.9,373.0 L452.1,373.4 L453.3,373.9 L454.5,374.4 L455.7,374.9 L456.9,375.4 L458.1,376.1 L459.3,376.9 L460.5,377.9 L461.7,378.9 L462.9,380.0 L464.1,381.1 L465.3,382.2 L466.5,383.3 L467.7,384.5 L468.9,385.7 L470.1,386.9 L471.3,388.0 L472.5,389.0 L473.7,390.0 L474.9,391.0 L476.1,392.0 L477.3,392.9 L478.5,393.8 L479.7,394.6 L480.9,395.6 L482.1,396.6 L483.3,397.4 L484.5,397.8 L485.7,397.8 L486.9,397.6 L488.1,397.3 L489.3,397.0 L490.5,396.6 L491.7,395.7 L492.9,394.2 L494.1,392.4 L495.3,390.6 L496.5,389.0 L497.7,387.4 L498.9,385.7 L500.1,384.1 L501.3,382.8 L502.5,381.7 L503.7,380.7 L504.9,379.8 L506.1,379.1 L507.3,378.9 L508.5,379.0 L509.7,379.3 L510.9,379.6 L512.1,379.9 L513.3,380.2 L514.5,380.4 L515.7,380.7 L516.9,380.9 L518.1,381.1 L519.3,381.3 L520.5,381.3 L521.7,381.2 L522.9,381.1 L524.1,380.9 L525.3,380.6 L526.5,380.4 L527.7,380.1 L528.9,379.8 L530.1,379.5 L531.3,379.1 L532.5,378.7 L533.7,378.3 L534.9,377.8 L535.2,377.7" stroke="#3f9f3f"/>
<path d="M423.3,368.3 L424.5,368.5 L425.7,368.6 L426.9,368.8 L428.1,369.0 L429.3,369.2 L430.5,369.5 L431.7,369.7 L432.9,370.0 L434.1,370.3 L435.3,370.6 L436.5,370.9 L437.7,371.2 L438.9,371.5 L440.1,371.8 L441.3,372.1 L442.5,372.4 L443.7,372.7 L444.9,372.9 L446.1,373.1 L447.3,373.4 L448.5,373.6 L449.7,373.8 L450.9,374.1 L452.1,374.4 L453.3,374.7 L454.5,375.2 L455.7,375.6 L456.9,376.2 L458.1,376.7 L459.3,377.3 L460.5,378.0 L461.7,378.6 L462.9,379.3 L464.1,380.0 L465.3,380.6 L466.5,381.3 L467.7,382.0 L468.9,382.8 L470.1,383.5 L471.3,384.3 L472.5,385.1 L473.7,385.9 L474.9,386.8 L476.1,387.6 L477.3,388.7 L478.5,389.8 L479.7,390.9 L480.9,391.9 L482.1,392.7 L483.3,393.2 L484.5,393.6 L485.7,393.9 L486.9,394.2 L488.1,394.3 L489.3,394.2 L490.5,393.6 L491.7,392.7 L492.9,391.7 L494.1,390.7 L495.3,390.0 L496.5,389.2 L497.7,388.5 L498.9,387.7 L500.1,387.0 L501.3,386.2 L502.5,385.4 L503.7,384.7 L504.9,383.9 L506.1,383.1 L507.3,382.4 L508.5,381.6 L509.7,380.9 L510.9,380.1 L512.1,379.3 L513.3,378.7 L514.5,378.4 L515.7,378.6 L516.9,379.2 L518.1,380.0 L519.3,380.6 L520.5,380.8 L521.7,380.8 L522.9,380.7 L524.1,380.6 L525.3,380.5 L526.5,380.3 L527.7,380.1 L528.9,379.8 L530.1,379.4 L531.3,378.8 L532.5,378.0 L533.7,377.2 L534.9,376.3 L535.2,376.1" stroke="#1f1fff"/>
<path d="M423.3,370.6 L424.5,370.4 L425.7,370.2 L426.9,370.0 L428.1,369.9 L429.3,369.7 L430.5,369.6 L431.7,369.6 L432.9,369.5 L434.1,369.5 L435.3,369.5 L436.5,369.5 L437.7,369.6 L438.9,369.7 L440.1,369.8 L441.3,370.0 L442.5,370.1 L443.7,370.3 L444.9,370.5 L446.1,370.7 L447.3,370.9 L448.5,371.2 L449.7,371.6 L450.9,372.0 L452.1,372.4 L453.3,372.8 L454.5,373.3 L455.7,373.8 L456.9,374.2 L458.1,374.7 L459.3,375.1 L460.5,375.6 L461.7,376.0 L462.9,376.5 L464.1,377.0 L465.3,377.6 L466.5,378.1 L467.7,378.7 L468.9,379.3 L470.1,380.0 L471.3,380.7 L472.5,381.5 L473.7,382.3 L474.9,383.1 L476.1,383.9 L477.3,384.7 L478.5,385.5 L479.7,386.3 L480.9,387.2 L482.1,388.1 L483.3,389.0 L484.5,389.8 L485.7,390.4 L486.9,390.7 L488.1,390.9 L489.3,391.0 L490.5,391.1 L491.7,391.2 L492.9,391.2 L494.1,390.9 L495.3,390.6 L496.5,390.1 L497.7,389.7 L498.9,389.2 L500.1,388.8 L501.3,388.2 L502.5,387.7 L503.7,387.2 L504.9,386.7 L506.1,386.2 L507.3,385.8 L508.5,385.3 L509.7,384.9 L510.9,384.4 L512.1,384.0 L513.3,383.6 L514.5,383.2 L515.7,382.8 L516.9,382.4 L518.1,382.0 L519.3,381.7 L520.5,381.4 L521.7,381.1 L522.9,380.8 L524.1,380.5 L525.3,380.1 L526.5,379.8 L527.7,379.4 L528.9,379.0 L530.1,378.6 L531.3,378.1 L532.5,377.6 L533.7,377.1 L534.9,376.6 L535.2,376.5" stroke="#ff3fff"/>
<path d="M423.3,371.8 L424.5,371.6 L425.7,371.4 L426.9,371.3 L428.1,371.2 L429.3,371.0 L430.5,370.9 L431.7,370.8 L432.9,370.8 L434.1,370.7 L435.3,370.6 L436.5,370.6 L437.7,370.6 L438.9,370.6 L440.1,370.6 L441.3,370.7 L442.5,370.7 L443.7,370.8 L444.9,370.9 L446.1,371.0 L447.3,371.2 L448.5,371.3 L449.7,371.4 L450.9,371.5 L452.1,371.7 L453.3,371.8 L454.5,372.0 L455.7,372.1 L456.9,372.3 L458.1,372.5 L459.3,372.7 L460.5,372.9 L461.7,373.1 L462.9,373.4 L464.1,373.6 L465.3,374.0 L466.5,374.4 L467.7,374.9 L468.9,375.5 L470.1,376.1 L471.3,376.8 L472.5,377.4 L473.7,378.0 L474.9,378.6 L476.1,379.2 L477.3,379.7 L478.5,380.2 L479.7,380.8 L480.9,381.3 L482.1,381.9 L483.3,382.4 L484.5,382.8 L485.7,383.3 L486.9,383.7 L488.1,384.1 L489.3,384.5 L490.5,384.9 L491.7,385.2 L492.9,385.4 L494.1,385.5 L495.3,385.5 L496.5,385.5 L497.7,385.5 L498.9,385.5 L500.1,385.5 L501.3,385.5 L502.5,385.5 L503.7,385.4 L504.9,385.2 L506.1,385.0 L507.3,384.8 L508.5,384.5 L509.7,384.2 L510.9,384.0 L512.1,383.7 L513.3,383.5 L514.5,383.3 L515.7,383.2 L516.9,383.0 L518.1,382.8 L519.3,382.7 L520.5,382.5 L521.7,382.3 L522.9,382.2 L524.1,382.0 L525.3,381.8 L526.5,381.6 L527.7,381.4 L528.9,381.2 L530.1,381.0 L531.3,380.8 L532.5,380.6 L533.7,380.4 L534.9,380.2 L535.2,380.1" stroke="#7fff5f"/>
<path d="M423.3,376.1 L424.5,375.9 L425.7,375.6 L426.9,375.4 L428.1,375.2 L429.3,375.0 L430.5,374.8 L431.7,374.6 L432.9,374.4 L434.1,374.2 L435.3,374.1 L436.5,373.9 L437.7,373.8 L438.9,373.6 L440.1,373.5 L441.3,373.3 L442.5,373.2 L443.7,373.0 L444.9,372.9 L446.1,372.7 L447.3,372.6 L448.5,372.5 L449.7,372.4 L450.9,372.4 L452.1,372.3 L453.3,372.3 L454.5,372.4 L455.7,372.5 L456.9,372.7 L458.1,373.0 L459.3,373.3 L460.5,373.6 L461.7,373.9 L462.9,374.3 L464.1,374.6 L465.3,375.0 L466.5,375.4 L467.7,375.8 L468.9,376.3 L470.1,376.8 L471.3,377.3 L472.5,377.8 L473.7,378.3 L474.9,378.7 L476.1,379.1 L477.3,379.5 L478.5,379.9 L479.7,380.3 L480.9,380.7 L482.1,381.1 L483.3,381.4 L484.5,381.7 L485.7,381.9 L486.9,382.0 L488.1,382.1 L489.3,382.2 L490.5,382.2 L491.7,382.3 L492.9,382.3 L494.1,382.3 L495.3,382.4 L496.5,382.4 L497.7,382.5 L498.9,382.6 L500.1,382.6 L501.3,382.7 L502.5,382.8 L503.7,382.8 L504.9,382.9 L506.1,383.0 L507.3,383.1 L508.5,383.2 L509.7,383.3 L510.9,383.4 L512.1,383.5 L513.3,383.7 L514.5,383.8 L515.7,384.0 L516.9,384.1 L518.1,384.2 L519.3,384.3 L520.5,384.3 L521.7,384.3 L522.9,384.3 L524.1,384.3 L525.3,384.3 L526.5,384.2 L527.7,384.2 L528.9,384.1 L530.1,384.1 L531.3,384.0 L532.5,383.9 L533.7,383.8 L534.9,383.6 L535.2,383.6" stroke="#ff4a3a"/>
</g>
<rect x="417.3" y="364.3" width="123.4" height="35.9" fill="none" stroke="#707070" stroke-width="1.0"/>
<text x="423.3" y="408.9" font-size="6.6" text-anchor="middle" fill="#111">01</text>
<text x="460.6" y="408.9" font-size="6.6" text-anchor="middle" fill="#111">11</text>
<text x="497.9" y="408.9" font-size="6.6" text-anchor="middle" fill="#111">21</text>
<text x="535.2" y="408.9" font-size="6.6" text-anchor="middle" fill="#111">31</text>
<rect x="262.4" y="367.9" width="32.0" height="13.2" rx="2.4" fill="#fff" stroke="#111" stroke-width="1.2"/>
<text x="278.4" y="377.1" font-size="8.4" text-anchor="middle" fill="#111">2021.1</text>
<rect x="380.1" y="367.9" width="33.2" height="13.2" rx="2.4" fill="#fff" stroke="#111" stroke-width="1.2"/>
<text x="396.7" y="377.1" font-size="8.4" text-anchor="middle" fill="#111">2021.7</text>
<path d="M297.2,374.5 A7.2,7.2 0 0 1 304.4,381.7 L304.4,456.3" fill="none" stroke="#111" stroke-width="1.2"/>
<path d="M301.7,455.4 L304.4,456.8 L307.1,455.4 L304.4,459.8 Z" fill="#111"/>
<path d="M377.6,374.1 L368.2,374.1 A7.2,7.2 0 0 0 361.0,381.3 L361.0,456.3" fill="none" stroke="#111" stroke-width="1.2"/>
<path d="M358.3,455.4 L361.0,456.8 L363.7,455.4 L361.0,459.8 Z" fill="#111"/>
<rect x="300.4" y="474.0" width="9.4" height="103.5" fill="#f6a9ae"/>
<rect x="356.9" y="474.0" width="9.0" height="103.5" fill="#a4b4c7"/>
<g clip-path="url(#c4)" fill="none" stroke-width="1.25" stroke-linejoin="round">
<path d="M75.5,560.5 L77.3,561.0 L79.1,558.3 L80.9,563.4 L82.3,563.8 L83.7,567.7 L85.0,566.5 L86.4,569.5 L88.2,572.4 L90.0,573.1 L91.8,570.2 L93.6,571.6 L95.0,568.9 L96.3,571.6 L97.7,568.3 L99.1,569.5 L100.6,560.8 L102.0,566.2 L103.5,564.9 L104.9,565.7 L106.4,560.2 L107.8,559.5 L109.3,558.9 L110.7,557.8 L112.2,555.6 L113.6,560.3 L115.1,560.8 L116.5,564.2 L118.0,562.9 L119.4,561.8 L120.9,562.7 L122.4,559.6 L123.8,558.5 L125.3,558.3 L126.7,559.0 L128.2,559.0 L129.7,555.8 L131.2,558.5 L132.8,555.4 L134.3,557.5 L135.8,552.9 L137.3,560.1 L138.8,556.8 L140.3,557.7 L141.9,555.9 L143.4,559.3 L144.9,557.7 L146.4,559.0 L147.9,556.5 L149.4,558.4 L150.9,555.3 L152.5,558.1 L154.0,557.1 L155.5,558.5 L157.0,556.6 L158.5,560.1 L160.0,556.5 L161.5,557.9 L163.0,555.8 L164.5,556.8 L165.9,553.8 L167.2,554.9 L168.6,551.8 L170.0,555.4 L171.4,549.9 L172.7,555.1 L174.1,552.4 L175.9,556.1 L177.7,553.9 L179.5,555.6 L180.1,549.1 L181.2,559.1 L183.2,560.1 L184.7,553.0 L185.4,548.7 L186.6,562.7 L187.7,561.9 M194.1,549.4 L194.6,536.5 L195.7,564.5 L196.8,557.3 L198.3,559.9 L199.9,562.4 L201.4,569.5 L203.2,572.2 L205.0,573.7 L206.8,569.4 L208.7,572.8 L210.5,565.4 L212.0,569.4 L213.5,569.1 L215.0,569.4 L216.5,564.7 L218.0,565.7 L219.5,566.4 L221.0,567.6 L222.5,564.2 L224.1,566.1 L225.6,561.9 L227.1,562.4 L228.6,562.2 L230.1,562.5 L231.6,559.5 L233.1,561.5 L234.7,560.1 L236.2,560.5 L237.7,559.2 L239.2,560.8 L240.7,560.0 L242.2,560.6 L243.8,557.3 L245.3,558.8 L246.8,557.2 L248.3,562.8 L249.8,562.9 L251.4,559.9 L252.9,557.3 L254.4,560.1 L255.9,558.2 L257.4,559.3 L258.9,557.7 L260.4,556.6 L262.0,556.3 L263.5,560.6 L265.0,559.5 L266.4,559.0 L267.7,557.4 L269.1,559.5 L270.6,556.0 L272.1,557.7 L273.6,553.2 L275.2,555.9 L276.7,553.4 L278.2,554.0 L279.7,550.8 L281.2,554.4 L282.8,550.8 L284.3,553.2 L285.8,549.6 L287.3,550.9 L288.8,549.1 L290.3,550.4 L291.9,547.6 L293.4,548.9 L294.9,549.0 L296.4,554.1 L298.2,550.2 L300.0,553.9 L301.8,554.9 L303.2,558.9 L304.6,556.4 L305.9,560.0 L307.3,560.7 L309.1,564.0 L310.9,563.2 L312.7,569.4 L314.2,567.0 L315.8,569.7 L317.3,566.2 L318.9,567.7 L320.5,563.2 L322.0,563.5 L323.6,562.6 L325.1,564.6 L326.6,562.5 L328.1,563.5 L329.7,560.2 L331.2,562.2 L332.7,561.1 L334.2,562.7 L335.7,559.9 L337.2,561.6 L338.8,561.0 L340.3,560.7 L341.8,558.3 L343.3,560.1 L344.8,559.5 L346.4,560.1 L347.9,557.4 L349.4,557.3 L350.9,557.5 L352.4,559.5 L353.9,556.7 L355.4,558.1 L357.0,555.9 L358.5,557.0 L360.0,555.9 L361.4,558.4 L362.7,555.2 L364.1,558.0 L365.6,555.8 L367.1,558.1 L368.6,554.3 L370.2,556.8 L371.7,555.8 L373.2,555.9 L374.7,553.9 L376.2,557.4 L377.8,555.5 L379.3,557.9 L380.8,553.5 L382.3,557.7 L383.8,555.3 L385.3,556.1 L386.9,555.6 L388.4,556.4 L389.9,555.0 L391.4,553.1 L392.8,552.4 L394.3,552.5 L395.7,550.1 L397.2,552.1 L398.6,549.5 L400.1,549.8 L401.5,548.2 L403.0,549.7 L404.4,546.6 L405.9,552.1 L407.4,550.9 L408.8,557.3 L410.3,548.9 L411.7,561.1 L413.2,552.0 L414.7,559.3 L416.3,549.9 L417.6,565.8 L419.0,554.4 L420.5,558.3 L421.9,557.9 L423.4,561.2 L424.8,555.1 L426.3,564.0 L428.1,540.6 L429.1,562.9 L430.4,562.6 L431.8,575.9 L433.2,563.4 L434.7,569.0 L436.1,563.5 L437.6,564.9 L439.0,562.5 L440.5,567.6 L442.1,561.6 L443.8,566.6 L445.4,564.5 L447.0,565.0 L448.6,562.7 L450.2,562.2 L451.8,562.1 L453.4,562.0 L455.0,561.3 L456.6,562.6 L458.3,559.2 L459.9,563.9 L461.6,560.8 L463.2,562.8 L465.0,560.0 L466.8,558.9 L468.6,557.2 L470.5,562.7 L472.1,555.3 L473.6,561.1 L475.2,554.1 L476.7,560.4 L478.3,553.9 L479.8,559.6 L481.4,551.3 L482.8,557.6 L484.2,556.4 L485.6,558.0 L487.0,558.0 M489.0,552.2 L490.5,557.1 L492.0,551.1 L493.5,560.5 L495.0,556.7 L496.5,561.5 L498.0,550.2 L499.5,554.0 L501.0,551.4 L502.5,553.4 L504.1,552.4 L505.6,554.2 L507.1,550.4 L508.6,555.1 L510.1,550.3 L511.6,558.4 L513.2,550.5 L514.7,551.3 L516.2,550.8 L517.7,550.2 L519.1,549.0 L520.5,549.5 L521.8,548.1 L523.2,548.1" stroke="#3f9f3f" stroke-width="1.15"/>
<path d="M75.5,559.0 L77.3,560.8 L79.1,561.6 L80.9,560.8 L82.3,565.1 L83.7,564.9 L85.0,568.6 L86.4,567.9 L88.2,571.3 L90.0,573.3 L91.8,572.9 L93.6,569.7 L95.0,571.4 L96.3,568.4 L97.7,570.5 L99.1,567.1 L100.6,568.7 L102.0,560.1 L103.5,565.4 L104.9,562.8 L106.4,565.6 L107.8,559.9 L109.3,558.8 L110.7,558.7 L112.2,559.3 L113.6,556.4 L115.1,561.0 L116.5,561.2 L118.0,565.2 L119.4,562.9 L120.9,561.5 L122.4,562.4 L123.8,559.1 L125.3,557.1 L126.7,557.8 L128.2,558.6 L129.7,558.4 L131.2,557.0 L132.8,559.0 L134.3,555.4 L135.8,557.9 L137.3,553.8 L138.8,558.8 L140.3,556.6 L141.9,557.9 L143.4,556.2 L144.9,559.0 L146.4,557.9 L147.9,558.5 L149.4,556.8 L150.9,559.0 L152.5,556.3 L154.0,558.4 L155.5,557.4 L157.0,558.0 L158.5,556.6 L160.0,559.1 L161.5,556.4 L163.0,557.0 L164.5,555.2 L165.9,556.4 L167.2,553.7 L168.6,555.0 L170.0,550.8 L171.4,555.2 L172.7,549.9 L174.1,554.7 L175.9,552.5 L177.7,556.3 L178.8,548.4 L179.9,557.6 L181.3,555.9 L183.2,557.2 L184.1,548.9 L185.2,561.8 L186.2,553.3 L187.7,559.5 M194.1,558.8 L195.4,552.5 L196.8,559.3 L198.3,559.0 L199.9,562.4 L201.4,564.6 L203.2,572.3 L205.0,573.4 L206.8,573.5 L208.7,568.5 L210.5,572.6 L212.0,566.3 L213.5,569.0 L215.0,568.5 L216.5,569.9 L218.0,564.3 L219.5,565.8 L221.0,565.8 L222.5,567.1 L224.1,563.1 L225.6,566.8 L227.1,561.9 L228.6,561.4 L230.1,562.0 L231.6,563.2 L233.1,559.5 L234.7,560.5 L236.2,559.8 L237.7,560.8 L239.2,559.1 L240.7,560.8 L242.2,560.1 L243.8,561.5 L245.3,558.2 L246.8,559.5 L248.3,557.5 L249.8,561.5 L251.4,562.2 L252.9,559.5 L254.4,556.4 L255.9,560.2 L257.4,557.9 L258.9,558.9 L260.4,557.5 L262.0,557.0 L263.5,556.4 L265.0,560.2 L266.4,558.8 L267.7,558.7 L269.1,555.4 L270.6,557.9 L272.1,555.3 L273.6,557.1 L275.2,553.0 L276.7,555.0 L278.2,553.5 L279.7,554.4 L281.2,550.7 L282.8,553.1 L284.3,550.8 L285.8,552.9 L287.3,549.4 L288.8,550.5 L290.3,548.7 L291.9,550.7 L293.4,547.6 L294.9,549.7 L296.4,549.3 L298.2,554.4 L300.0,551.2 L301.8,556.6 L303.2,554.6 L304.6,560.4 L305.9,558.0 L307.3,560.7 L309.1,561.7 L310.9,565.3 L312.7,563.5 L314.2,569.6 L315.8,567.3 L317.3,569.5 L318.9,566.0 L320.5,566.5 L322.0,562.6 L323.6,563.8 L325.1,562.4 L326.6,563.8 L328.1,562.9 L329.7,564.2 L331.2,559.9 L332.7,562.3 L334.2,561.3 L335.7,562.8 L337.2,559.8 L338.8,561.7 L340.3,560.7 L341.8,560.8 L343.3,557.7 L344.8,559.1 L346.4,559.7 L347.9,559.6 L349.4,557.1 L350.9,557.2 L352.4,557.3 L353.9,558.9 L355.4,556.5 L357.0,557.5 L358.5,556.6 L360.0,557.8 L361.4,555.6 L362.7,559.0 L364.1,554.8 L365.6,557.3 L367.1,555.8 L368.6,557.4 L370.2,554.4 L371.7,556.8 L373.2,555.7 L374.7,555.6 L376.2,553.4 L377.8,558.2 L379.3,556.1 L380.8,557.9 L382.3,553.6 L383.8,557.5 L385.3,555.0 L386.9,555.8 L388.4,555.3 L389.9,556.3 L391.4,554.2 L392.8,552.5 L394.3,551.3 L395.7,552.0 L397.2,549.6 L398.6,551.8 L400.1,549.3 L401.5,549.6 L403.0,547.4 L404.4,551.0 L405.9,546.9 L407.4,552.3 L408.8,551.0 L410.3,557.4 L411.7,550.8 L413.2,562.7 L415.0,546.6 L416.1,560.7 L417.6,559.6 L419.0,561.1 L420.5,553.3 L421.9,556.8 L423.4,556.4 L424.8,561.8 L426.8,542.9 L427.7,564.8 L429.1,558.5 L430.5,574.0 L431.8,560.7 L433.2,569.6 L434.7,561.9 L436.1,568.4 L437.6,562.8 L439.0,564.8 L440.5,562.5 L442.1,566.8 L443.8,561.6 L445.4,565.8 L447.0,564.0 L448.6,565.1 L450.2,563.0 L451.8,562.6 L453.4,561.6 L455.0,562.3 L456.6,561.1 L458.3,562.4 L459.9,559.3 L461.6,563.6 L463.2,562.3 L465.0,563.1 L466.8,558.4 L468.6,557.6 L470.5,557.1 L472.1,564.3 L473.6,555.8 L475.2,561.3 L476.7,553.5 L478.3,560.2 L479.8,555.8 L481.4,558.8 L482.8,551.3 L484.2,557.2 L485.6,557.4 L487.0,558.7 M489.0,557.3 L490.5,552.6 L492.0,557.0 L493.5,550.9 L495.0,560.4 L496.5,554.3 L498.0,561.2 L499.5,550.7 L501.0,553.7 L502.5,551.5 L504.1,554.1 L505.6,551.3 L507.1,553.8 L508.6,550.4 L510.1,554.7 L511.6,549.9 L513.2,558.6 L514.7,550.5 L516.2,550.3 L517.7,550.7 L519.1,550.2 L520.5,549.7 L521.8,549.5 L523.2,548.8" stroke="#1f1fff" stroke-width="1.15"/>
<path d="M75.5,559.1 L77.3,560.3 L79.1,560.2 L80.9,561.5 L82.3,563.1 L83.7,565.0 L85.0,566.9 L86.4,568.2 L88.2,570.5 L90.0,572.4 L91.8,572.4 L93.6,570.8 L95.0,570.2 L96.3,570.2 L97.7,569.5 L99.1,568.7 L100.6,566.6 L102.0,564.6 L103.5,564.5 L104.9,564.6 L106.4,563.5 L107.8,561.1 L109.3,559.9 L110.7,559.3 L112.2,557.5 L113.6,558.3 L115.1,560.1 L116.5,561.5 L118.0,562.7 L119.4,562.8 L120.9,561.8 L122.4,561.4 L123.8,559.7 L125.3,558.4 L126.7,558.0 L128.2,558.5 L129.7,558.2 L131.2,557.5 L132.8,557.0 L134.3,556.5 L135.8,555.8 L137.3,556.3 L138.8,557.4 L140.3,557.6 L141.9,557.1 L143.4,557.4 L144.9,558.1 L146.4,558.2 L147.9,558.0 L149.4,558.0 L150.9,557.6 L152.5,557.0 L154.0,557.4 L155.5,557.8 L157.0,557.2 L158.5,557.3 L160.0,557.6 L161.5,557.1 L163.0,556.6 L164.5,556.4 L165.9,555.8 L167.2,555.0 L168.6,554.1 L170.0,553.8 L171.4,552.7 L172.7,552.7 L174.1,553.4 L175.9,553.7 L177.7,554.5 L179.4,550.2 L180.6,557.2 L181.3,555.4 L183.2,556.5 L184.8,548.9 L185.9,558.7 L186.2,557.4 L187.7,557.7 M193.9,541.6 L195.1,561.2 L195.4,554.4 L196.8,556.4 L198.3,558.8 L199.9,561.4 L201.4,565.0 L203.2,569.7 L205.0,572.8 L206.8,571.9 L208.7,571.4 L210.5,570.5 L212.0,568.7 L213.5,568.8 L215.0,569.3 L216.5,568.3 L218.0,566.4 L219.5,565.6 L221.0,566.1 L222.5,565.9 L224.1,565.5 L225.6,564.9 L227.1,563.1 L228.6,562.2 L230.1,562.4 L231.6,561.9 L233.1,561.1 L234.7,560.7 L236.2,560.0 L237.7,560.1 L239.2,560.5 L240.7,560.9 L242.2,560.8 L243.8,560.2 L245.3,559.4 L246.8,558.7 L248.3,559.4 L249.8,560.8 L251.4,560.7 L252.9,559.0 L254.4,558.7 L255.9,558.9 L257.4,558.8 L258.9,558.6 L260.4,557.8 L262.0,557.4 L263.5,557.9 L265.0,558.9 L266.4,559.0 L267.7,558.3 L269.1,557.6 L270.6,557.2 L272.1,556.9 L273.6,556.2 L275.2,555.2 L276.7,554.4 L278.2,553.6 L279.7,552.6 L281.2,552.3 L282.8,552.4 L284.3,552.1 L285.8,551.4 L287.3,550.9 L288.8,550.2 L290.3,549.9 L291.9,549.6 L293.4,548.8 L294.9,548.6 L296.4,550.4 L298.2,551.7 L300.0,552.2 L301.8,553.8 L303.2,556.1 L304.6,557.8 L305.9,558.7 L307.3,559.8 L309.1,561.5 L310.9,563.2 L312.7,565.0 L314.2,566.8 L315.8,568.6 L317.3,568.1 L318.9,566.8 L320.5,565.4 L322.0,564.0 L323.6,563.7 L325.1,563.6 L326.6,563.5 L328.1,563.8 L329.7,562.9 L331.2,562.0 L332.7,561.4 L334.2,561.9 L335.7,561.9 L337.2,560.9 L338.8,560.9 L340.3,561.1 L341.8,560.3 L343.3,559.7 L344.8,559.6 L346.4,559.4 L347.9,558.7 L349.4,557.8 L350.9,557.4 L352.4,557.9 L353.9,557.9 L355.4,557.5 L357.0,557.2 L358.5,557.1 L360.0,557.2 L361.4,557.3 L362.7,557.1 L364.1,556.5 L365.6,556.3 L367.1,556.8 L368.6,556.5 L370.2,555.8 L371.7,555.7 L373.2,555.9 L374.7,555.3 L376.2,555.4 L377.8,556.3 L379.3,556.7 L380.8,556.3 L382.3,556.1 L383.8,556.1 L385.3,555.7 L386.9,555.4 L388.4,555.7 L389.9,555.9 L391.4,554.4 L392.8,553.2 L394.3,552.5 L395.7,551.6 L397.2,551.0 L398.6,550.6 L400.1,549.7 L401.5,548.8 L403.0,548.8 L404.4,548.1 L405.9,549.1 L407.4,550.4 L408.8,552.1 L410.3,552.8 L411.7,554.0 L413.2,556.1 L414.7,556.4 L415.7,549.5 L417.6,558.5 L419.0,559.0 L420.5,557.1 L421.9,556.3 L423.4,558.1 L424.8,558.6 L426.3,557.9 L427.5,547.2 L429.1,561.3 L431.2,570.2 L433.2,567.4 L434.7,567.1 L436.1,566.1 L437.6,564.8 L439.0,564.1 L440.5,564.7 L442.1,564.5 L443.8,564.0 L445.4,564.6 L447.0,564.6 L448.6,564.1 L450.2,563.6 L451.8,562.7 L453.4,562.3 L455.0,562.3 L456.6,562.3 L458.3,562.0 L459.9,561.4 L461.6,561.4 L463.2,562.4 L465.0,563.0 L466.8,560.7 L468.6,557.6 L470.5,558.2 L472.1,558.8 L473.6,558.5 L475.2,557.6 L476.7,557.4 L478.3,558.2 L479.8,557.9 L481.4,555.7 L482.8,554.9 L484.2,556.8 L485.6,557.3 L487.0,557.1 M489.0,556.1 L490.5,555.5 L492.0,555.1 L493.5,555.6 L495.0,557.4 L496.5,558.4 L498.0,557.0 L499.5,554.2 L501.0,553.3 L502.5,553.1 L504.1,552.5 L505.6,552.8 L507.1,552.8 L508.6,552.5 L510.1,552.4 L511.6,553.7 L513.2,553.9 L514.7,551.6 L516.2,550.6 L517.7,550.5 L519.1,550.3 L520.5,550.5 L521.8,549.5 L523.2,548.9" stroke="#ff3fff" stroke-width="1.15"/>
<path d="M75.5,558.9 L77.3,559.3 L79.1,559.4 L80.9,560.8 L82.3,562.7 L83.7,564.1 L85.0,565.6 L86.4,567.4 L88.2,570.1 L90.0,571.4 L91.8,571.8 L93.6,571.7 L95.0,571.3 L96.3,570.5 L97.7,570.0 L99.1,568.1 L100.6,566.6 L102.0,566.2 L103.5,565.8 L104.9,564.6 L106.4,562.7 L107.8,561.5 L109.3,560.8 L110.7,559.2 L112.2,558.1 L113.6,558.7 L115.1,560.1 L116.5,561.2 L118.0,561.6 L119.4,562.6 L120.9,562.4 L122.4,561.1 L123.8,560.0 L125.3,559.4 L126.7,558.8 L128.2,558.2 L129.7,558.0 L131.2,557.6 L132.8,557.1 L134.3,556.5 L135.8,556.4 L137.3,556.8 L138.8,557.0 L140.3,556.8 L141.9,557.0 L143.4,557.5 L144.9,557.7 L146.4,557.5 L147.9,557.6 L149.4,557.5 L150.9,557.4 L152.5,557.7 L154.0,558.1 L155.5,558.0 L157.0,558.0 L158.5,557.8 L160.0,557.4 L161.5,557.1 L163.0,556.8 L164.5,556.0 L165.9,555.7 L167.2,554.8 L168.6,554.7 L170.0,553.8 L171.4,553.3 L172.7,552.7 L174.1,552.8 L175.9,553.6 L177.7,554.0 L179.5,554.5 L180.7,552.8 L181.8,556.8 L183.2,556.2 L184.7,556.5 L186.0,552.3 L187.2,557.9 L187.7,557.1 M194.1,549.9 L195.2,546.2 L196.3,557.4 L196.8,555.1 L198.3,557.9 L199.9,561.5 L201.4,565.1 L203.2,568.5 L205.0,571.1 L206.8,571.8 L208.7,571.5 L210.5,570.3 L212.0,570.1 L213.5,570.0 L215.0,569.0 L216.5,567.8 L218.0,567.4 L219.5,567.3 L221.0,566.7 L222.5,566.2 L224.1,565.5 L225.6,564.4 L227.1,563.8 L228.6,563.6 L230.1,562.8 L231.6,562.1 L233.1,561.7 L234.7,561.2 L236.2,560.5 L237.7,560.3 L239.2,560.5 L240.7,560.5 L242.2,560.2 L243.8,559.8 L245.3,559.7 L246.8,560.1 L248.3,560.8 L249.8,560.7 L251.4,559.6 L252.9,559.3 L254.4,559.4 L255.9,559.3 L257.4,559.0 L258.9,558.4 L260.4,557.9 L262.0,558.1 L263.5,558.3 L265.0,558.3 L266.4,558.0 L267.7,558.4 L269.1,558.3 L270.6,557.8 L272.1,556.8 L273.6,555.9 L275.2,555.3 L276.7,554.6 L278.2,553.6 L279.7,553.2 L281.2,552.9 L282.8,552.6 L284.3,552.1 L285.8,551.4 L287.3,550.9 L288.8,550.6 L290.3,550.1 L291.9,549.7 L293.4,549.4 L294.9,549.4 L296.4,550.1 L298.2,550.9 L300.0,552.2 L301.8,554.3 L303.2,555.6 L304.6,556.7 L305.9,558.1 L307.3,559.5 L309.1,561.1 L310.9,562.6 L312.7,564.6 L314.2,566.2 L315.8,567.8 L317.3,567.8 L318.9,566.6 L320.5,565.3 L322.0,564.3 L323.6,563.9 L325.1,563.8 L326.6,563.7 L328.1,563.0 L329.7,562.4 L331.2,562.2 L332.7,562.3 L334.2,562.0 L335.7,561.6 L337.2,561.4 L338.8,561.1 L340.3,560.5 L341.8,560.0 L343.3,560.0 L344.8,559.9 L346.4,559.3 L347.9,558.6 L349.4,558.2 L350.9,558.4 L352.4,558.3 L353.9,557.8 L355.4,557.5 L357.0,557.2 L358.5,556.6 L360.0,557.0 L361.4,557.0 L362.7,557.2 L364.1,557.3 L365.6,557.3 L367.1,556.9 L368.6,556.5 L370.2,556.3 L371.7,555.9 L373.2,555.5 L374.7,555.7 L376.2,556.1 L377.8,556.3 L379.3,556.0 L380.8,556.0 L382.3,556.1 L383.8,555.9 L385.3,555.6 L386.9,555.6 L388.4,555.7 L389.9,555.3 L391.4,554.5 L392.8,553.8 L394.3,552.8 L395.7,552.0 L397.2,551.2 L398.6,550.4 L400.1,549.7 L401.5,549.5 L403.0,548.8 L404.4,548.5 L405.9,549.2 L407.4,550.6 L408.8,551.2 L410.3,553.0 L411.7,554.0 L413.2,554.6 L414.7,555.8 L416.9,553.5 L419.0,557.9 L420.5,558.2 L421.9,558.8 L423.4,558.0 L424.8,557.3 L426.3,555.5 L427.7,556.3 L428.7,550.9 L430.4,562.9 L432.4,570.0 L433.2,567.5 L434.7,566.9 L436.1,566.0 L437.6,565.3 L439.0,565.1 L440.5,564.9 L442.1,564.6 L443.8,564.7 L445.4,564.5 L447.0,564.1 L448.6,563.7 L450.2,563.2 L451.8,563.1 L453.4,562.9 L455.0,562.8 L456.6,562.4 L458.3,562.1 L459.9,562.1 L461.6,561.6 L463.2,561.7 L465.0,562.3 L466.8,561.4 L468.6,559.4 L470.5,558.9 L472.1,558.5 L473.6,557.9 L475.2,557.7 L476.7,557.9 L478.3,557.8 L479.8,556.9 L481.4,556.6 L482.8,557.3 L484.2,557.6 L485.6,557.6 L487.0,557.6 M489.0,556.4 L490.5,556.0 L492.0,556.4 L493.5,557.0 L495.0,557.5 L496.5,556.8 L498.0,555.3 L499.5,554.7 L501.0,554.6 L502.5,554.2 L504.1,554.0 L505.6,553.5 L507.1,553.4 L508.6,553.2 L510.1,553.6 L511.6,553.5 L513.2,552.2 L514.7,551.4 L516.2,551.2 L517.7,550.9 L519.1,550.5 L520.5,550.2 L521.8,550.0 L523.2,549.9" stroke="#7fff5f" stroke-width="1.15"/>
<path d="M75.5,558.3 L77.3,559.0 L79.1,559.6 L80.9,559.9 L82.3,561.4 L83.7,563.1 L85.0,564.8 L86.4,566.3 L88.2,568.5 L90.0,571.0 L91.8,571.8 L93.6,572.3 L95.0,571.5 L96.3,570.7 L97.7,570.0 L99.1,569.3 L100.6,568.3 L102.0,566.7 L103.5,565.4 L104.9,564.8 L106.4,564.0 L107.8,562.8 L109.3,561.2 L110.7,560.2 L112.2,559.3 L113.6,557.9 L115.1,558.8 L116.5,560.1 L118.0,561.2 L119.4,562.1 L120.9,562.7 L122.4,562.0 L123.8,561.1 L125.3,559.8 L126.7,558.9 L128.2,558.2 L129.7,558.1 L131.2,557.7 L132.8,557.4 L134.3,557.1 L135.8,556.7 L137.3,556.2 L138.8,556.5 L140.3,557.0 L141.9,556.9 L143.4,557.0 L144.9,557.2 L146.4,557.6 L147.9,557.6 L149.4,557.6 L150.9,557.8 L152.5,557.8 L154.0,557.8 L155.5,558.1 L157.0,557.9 L158.5,557.6 L160.0,557.5 L161.5,557.2 L163.0,556.8 L164.5,556.5 L165.9,556.0 L167.2,555.4 L168.6,555.0 L170.0,554.3 L171.4,553.7 L172.7,553.0 L174.1,552.3 L175.9,553.0 L177.7,553.7 L179.5,554.3 L181.3,555.0 L183.2,555.9 L184.7,556.5 L186.2,556.5 L187.7,556.8 M191.0,559.1 L191.4,525.5 L191.9,551.4 L194.1,550.0 L195.4,551.6 L196.8,553.7 L198.3,556.9 L199.9,559.7 L201.4,562.7 L203.2,566.2 L205.0,569.7 L206.8,572.6 L208.7,571.7 L210.5,571.4 L212.0,570.6 L213.5,569.7 L215.0,569.5 L216.5,569.1 L218.0,568.1 L219.5,567.2 L221.0,566.9 L222.5,566.6 L224.1,565.9 L225.6,565.4 L227.1,564.7 L228.6,563.7 L230.1,563.3 L231.6,562.9 L233.1,562.1 L234.7,561.5 L236.2,561.0 L237.7,560.4 L239.2,560.4 L240.7,560.4 L242.2,560.5 L243.8,560.5 L245.3,560.3 L246.8,560.1 L248.3,559.9 L249.8,560.1 L251.4,560.5 L252.9,560.1 L254.4,559.4 L255.9,559.3 L257.4,559.2 L258.9,558.9 L260.4,558.6 L262.0,558.1 L263.5,557.7 L265.0,557.8 L266.4,558.3 L267.7,558.4 L269.1,558.5 L270.6,557.8 L272.1,557.2 L273.6,556.5 L275.2,555.6 L276.7,554.8 L278.2,554.2 L279.7,553.7 L281.2,553.0 L282.8,552.7 L284.3,552.3 L285.8,551.9 L287.3,551.4 L288.8,550.9 L290.3,550.5 L291.9,550.2 L293.4,549.8 L294.9,549.4 L296.4,549.1 L298.2,550.7 L300.0,551.8 L301.8,553.0 L303.2,554.4 L304.6,556.0 L305.9,557.4 L307.3,558.5 L309.1,560.1 L310.9,561.8 L312.7,563.2 L314.2,564.9 L315.8,566.5 L317.3,568.0 L318.9,567.2 L320.5,566.2 L322.0,565.1 L323.6,564.0 L325.1,563.7 L326.6,563.5 L328.1,563.3 L329.7,563.1 L331.2,562.5 L332.7,562.1 L334.2,562.0 L335.7,561.9 L337.2,561.5 L338.8,561.1 L340.3,560.9 L341.8,560.6 L343.3,560.1 L344.8,559.7 L346.4,559.6 L347.9,559.4 L349.4,558.8 L350.9,558.3 L352.4,558.1 L353.9,558.1 L355.4,557.8 L357.0,557.4 L358.5,557.1 L360.0,556.7 L361.4,556.9 L362.7,557.4 L364.1,557.6 L365.6,557.2 L367.1,557.0 L368.6,556.9 L370.2,556.5 L371.7,556.1 L373.2,555.9 L374.7,555.8 L376.2,555.7 L377.8,555.8 L379.3,556.1 L380.8,556.1 L382.3,555.9 L383.8,555.8 L385.3,555.8 L386.9,555.5 L388.4,555.4 L389.9,555.3 L391.4,555.3 L392.8,554.2 L394.3,553.2 L395.7,552.4 L397.2,551.5 L398.6,550.6 L400.1,550.3 L401.5,549.8 L403.0,549.2 L404.4,549.0 L405.9,548.4 L407.4,549.4 L408.8,550.5 L410.3,551.6 L411.7,552.4 L413.2,553.8 L414.7,555.1 L416.1,555.8 L417.6,557.4 L419.0,558.6 L420.5,559.3 L421.9,557.9 L423.4,557.4 L424.8,557.3 L426.3,556.4 L427.7,555.4 L429.1,558.3 L430.4,560.8 L431.8,563.8 L433.2,567.4 L434.7,567.2 L436.1,566.6 L437.6,566.1 L439.0,565.3 L440.5,564.8 L442.1,564.8 L443.8,564.5 L445.4,564.2 L447.0,564.3 L448.6,564.0 L450.2,563.8 L451.8,563.4 L453.4,563.2 L455.0,563.0 L456.6,562.7 L458.3,562.4 L459.9,561.9 L461.6,561.7 L463.2,561.5 L465.0,562.3 L466.8,563.0 L468.6,560.5 L470.5,557.9 L472.1,558.5 L473.6,558.5 L475.2,558.1 L476.7,557.8 L478.3,557.7 L479.8,557.9 L481.4,557.6 L482.8,557.1 L484.2,556.9 L485.6,557.4 L487.0,557.3 M489.0,557.4 L490.5,556.6 L492.0,556.5 L493.5,556.2 L495.0,556.4 L496.5,556.7 L498.0,556.7 L499.5,556.1 L501.0,554.8 L502.5,554.6 L504.1,554.3 L505.6,553.8 L507.1,553.5 L508.6,553.1 L510.1,553.0 L511.6,552.7 L513.2,552.8 L514.7,552.6 L516.2,551.5 L517.7,551.2 L519.1,551.1 L520.5,550.8 L521.8,550.5 L523.2,550.2" stroke="#ff4a3a" stroke-width="1.2"/>
</g>
<rect x="53.0" y="474.0" width="492.6" height="103.5" fill="none" stroke="#9a9a9a" stroke-width="1.4"/>
<line x1="49.6" y1="474.0" x2="53.0" y2="474.0" stroke="#9a9a9a" stroke-width="1.1"/>
<text x="45.8" y="477.1" font-size="8.6" text-anchor="end" fill="#111">9</text>
<line x1="49.6" y1="496.9" x2="53.0" y2="496.9" stroke="#9a9a9a" stroke-width="1.1"/>
<text x="45.8" y="500.1" font-size="8.6" text-anchor="end" fill="#111">6</text>
<line x1="49.6" y1="519.9" x2="53.0" y2="519.9" stroke="#9a9a9a" stroke-width="1.1"/>
<text x="45.8" y="523.0" font-size="8.6" text-anchor="end" fill="#111">3</text>
<line x1="49.6" y1="542.8" x2="53.0" y2="542.8" stroke="#9a9a9a" stroke-width="1.1"/>
<text x="45.8" y="545.9" font-size="8.6" text-anchor="end" fill="#111">0</text>
<line x1="49.6" y1="565.8" x2="53.0" y2="565.8" stroke="#9a9a9a" stroke-width="1.1"/>
<text x="45.8" y="568.9" font-size="8.6" text-anchor="end" fill="#111">−3</text>
<line x1="73.6" y1="577.5" x2="73.6" y2="580.3" stroke="#9a9a9a" stroke-width="1.1"/>
<line x1="129.8" y1="577.5" x2="129.8" y2="580.3" stroke="#9a9a9a" stroke-width="1.1"/>
<line x1="187.0" y1="577.5" x2="187.0" y2="580.3" stroke="#9a9a9a" stroke-width="1.1"/>
<line x1="243.5" y1="577.5" x2="243.5" y2="580.3" stroke="#9a9a9a" stroke-width="1.1"/>
<line x1="300.4" y1="577.5" x2="300.4" y2="580.3" stroke="#9a9a9a" stroke-width="1.1"/>
<line x1="356.6" y1="577.5" x2="356.6" y2="580.3" stroke="#9a9a9a" stroke-width="1.1"/>
<line x1="413.8" y1="577.5" x2="413.8" y2="580.3" stroke="#9a9a9a" stroke-width="1.1"/>
<line x1="470.0" y1="577.5" x2="470.0" y2="580.3" stroke="#9a9a9a" stroke-width="1.1"/>
<line x1="527.2" y1="577.5" x2="527.2" y2="580.3" stroke="#9a9a9a" stroke-width="1.1"/>
<text x="58" y="482.9" font-size="8.7" fill="#111">Open Ice</text>
<g transform="translate(28.4,543.2) rotate(-90)" fill="#111"><text x="-0.3" y="0" font-size="10.2" font-style="italic" font-family="DejaVu Sans, sans-serif">σ</text><text x="6.2" y="-4.3" font-size="5.6" font-style="italic">0</text><text x="10.6" y="1.6" font-size="6.3" font-style="italic">VV, PC1</text></g>
<rect x="136.4" y="477.1" width="123.3" height="35.9" fill="#fff"/>
<line x1="142.5" y1="477.1" x2="142.5" y2="513.0" stroke="#a0a0a0" stroke-width="0.8" stroke-dasharray="2.6,1.6"/>
<line x1="179.8" y1="477.1" x2="179.8" y2="513.0" stroke="#a0a0a0" stroke-width="0.8" stroke-dasharray="2.6,1.6"/>
<line x1="217.1" y1="477.1" x2="217.1" y2="513.0" stroke="#a0a0a0" stroke-width="0.8" stroke-dasharray="2.6,1.6"/>
<line x1="254.4" y1="477.1" x2="254.4" y2="513.0" stroke="#a0a0a0" stroke-width="0.8" stroke-dasharray="2.6,1.6"/>
<line x1="136.4" y1="484.2" x2="259.7" y2="484.2" stroke="#a0a0a0" stroke-width="0.8" stroke-dasharray="2.6,1.6"/>
<line x1="136.4" y1="495.5" x2="259.7" y2="495.5" stroke="#a0a0a0" stroke-width="0.8" stroke-dasharray="2.6,1.6"/>
<line x1="136.4" y1="506.5" x2="259.7" y2="506.5" stroke="#a0a0a0" stroke-width="0.8" stroke-dasharray="2.6,1.6"/>
<g fill="none" stroke-width="1.15" stroke-linejoin="round">
<path d="M142.5,487.3 L143.7,487.7 L144.9,488.1 L146.1,488.4 L147.3,488.6 L148.5,488.8 L149.7,488.9 L150.9,489.0 L152.1,489.1 L153.3,489.1 L154.5,489.0 L155.7,488.8 L156.9,488.4 L158.1,488.0 L159.3,487.6 L160.5,487.3 L161.7,487.3 L162.9,487.4 L164.1,487.6 L165.3,487.8 L166.5,488.1 L167.7,488.4 L168.9,488.7 L170.1,489.1 L171.3,489.5 L172.5,489.9 L173.7,490.3 L174.9,490.9 L176.1,491.6 L177.3,492.4 L178.5,493.1 L179.7,493.8 L180.9,494.5 L182.1,495.0 L183.3,495.4 L184.5,495.6 L185.7,495.8 L186.9,496.0 L188.1,496.2 L189.3,496.3 L190.5,496.5 L191.7,496.6 L192.9,496.7 L194.1,496.7 L195.3,496.7 L196.5,496.7 L197.7,496.7 L198.9,496.7 L200.1,496.7 L201.3,496.7 L202.5,496.7 L203.7,496.7 L204.9,496.7 L206.1,496.7 L207.3,496.8 L208.5,497.0 L209.7,497.2 L210.9,497.6 L212.1,498.0 L213.3,498.5 L214.5,498.9 L215.7,499.4 L216.9,499.9 L218.1,500.4 L219.3,501.0 L220.5,501.6 L221.7,502.3 L222.9,503.1 L224.1,503.9 L225.3,504.7 L226.5,505.6 L227.7,506.5 L228.9,507.5 L230.1,508.8 L231.3,510.0 L232.5,510.2 L233.7,509.8 L234.9,509.2 L236.1,508.3 L237.3,507.4 L238.5,506.4 L239.7,505.4 L240.9,504.2 L242.1,502.8 L243.3,501.2 L244.5,499.9 L245.7,498.9 L246.9,498.5 L248.1,498.5 L249.3,498.5 L250.5,498.7 L251.7,498.9 L252.9,499.3 L254.1,499.8 L254.4,500.0" stroke="#3f9f3f"/>
<path d="M142.5,485.3 L143.7,485.7 L144.9,486.0 L146.1,486.4 L147.3,486.7 L148.5,487.0 L149.7,487.2 L150.9,487.5 L152.1,487.6 L153.3,487.8 L154.5,487.9 L155.7,487.9 L156.9,488.0 L158.1,488.0 L159.3,488.1 L160.5,488.1 L161.7,488.1 L162.9,488.2 L164.1,488.2 L165.3,488.3 L166.5,488.5 L167.7,488.7 L168.9,489.0 L170.1,489.3 L171.3,489.7 L172.5,490.0 L173.7,490.4 L174.9,490.8 L176.1,491.3 L177.3,491.6 L178.5,492.0 L179.7,492.4 L180.9,492.7 L182.1,493.1 L183.3,493.5 L184.5,493.9 L185.7,494.2 L186.9,494.6 L188.1,494.9 L189.3,495.2 L190.5,495.3 L191.7,495.5 L192.9,495.5 L194.1,495.6 L195.3,495.7 L196.5,495.7 L197.7,495.7 L198.9,495.8 L200.1,495.9 L201.3,495.9 L202.5,496.0 L203.7,496.2 L204.9,496.4 L206.1,496.6 L207.3,496.9 L208.5,497.2 L209.7,497.5 L210.9,497.9 L212.1,498.3 L213.3,498.7 L214.5,499.1 L215.7,499.5 L216.9,499.9 L218.1,500.4 L219.3,500.9 L220.5,501.6 L221.7,502.2 L222.9,502.9 L224.1,503.6 L225.3,504.3 L226.5,504.9 L227.7,505.4 L228.9,505.8 L230.1,506.3 L231.3,506.7 L232.5,507.1 L233.7,507.5 L234.9,507.7 L236.1,507.7 L237.3,507.6 L238.5,507.3 L239.7,506.9 L240.9,506.5 L242.1,506.0 L243.3,505.6 L244.5,505.1 L245.7,504.4 L246.9,503.8 L248.1,503.1 L249.3,502.4 L250.5,501.9 L251.7,501.4 L252.9,501.0 L254.1,500.6 L254.4,500.5" stroke="#1f1fff"/>
<path d="M142.5,483.2 L143.7,483.4 L144.9,483.6 L146.1,483.8 L147.3,484.0 L148.5,484.2 L149.7,484.4 L150.9,484.6 L152.1,484.8 L153.3,485.0 L154.5,485.3 L155.7,485.5 L156.9,485.7 L158.1,485.9 L159.3,486.1 L160.5,486.4 L161.7,486.6 L162.9,486.8 L164.1,487.1 L165.3,487.3 L166.5,487.6 L167.7,487.8 L168.9,488.0 L170.1,488.3 L171.3,488.5 L172.5,488.8 L173.7,489.1 L174.9,489.3 L176.1,489.6 L177.3,489.8 L178.5,490.1 L179.7,490.4 L180.9,490.6 L182.1,490.9 L183.3,491.2 L184.5,491.5 L185.7,491.8 L186.9,492.1 L188.1,492.4 L189.3,492.7 L190.5,493.0 L191.7,493.3 L192.9,493.5 L194.1,493.8 L195.3,494.1 L196.5,494.4 L197.7,494.7 L198.9,495.0 L200.1,495.3 L201.3,495.6 L202.5,495.8 L203.7,496.1 L204.9,496.4 L206.1,496.6 L207.3,496.9 L208.5,497.2 L209.7,497.4 L210.9,497.7 L212.1,498.0 L213.3,498.3 L214.5,498.6 L215.7,498.9 L216.9,499.2 L218.1,499.6 L219.3,500.0 L220.5,500.4 L221.7,500.8 L222.9,501.3 L224.1,501.7 L225.3,502.2 L226.5,502.6 L227.7,502.9 L228.9,503.3 L230.1,503.6 L231.3,504.0 L232.5,504.3 L233.7,504.7 L234.9,505.0 L236.1,505.2 L237.3,505.4 L238.5,505.6 L239.7,505.6 L240.9,505.5 L242.1,505.4 L243.3,505.1 L244.5,504.9 L245.7,504.6 L246.9,504.4 L248.1,504.2 L249.3,504.0 L250.5,503.8 L251.7,503.6 L252.9,503.4 L254.1,503.2 L254.4,503.1" stroke="#ff3fff"/>
<path d="M142.5,480.7 L143.7,481.0 L144.9,481.2 L146.1,481.5 L147.3,481.7 L148.5,482.0 L149.7,482.3 L150.9,482.5 L152.1,482.8 L153.3,483.1 L154.5,483.3 L155.7,483.6 L156.9,483.8 L158.1,484.1 L159.3,484.4 L160.5,484.7 L161.7,484.9 L162.9,485.2 L164.1,485.5 L165.3,485.7 L166.5,486.0 L167.7,486.3 L168.9,486.6 L170.1,486.9 L171.3,487.1 L172.5,487.4 L173.7,487.7 L174.9,488.0 L176.1,488.2 L177.3,488.5 L178.5,488.8 L179.7,489.1 L180.9,489.4 L182.1,489.6 L183.3,489.9 L184.5,490.2 L185.7,490.5 L186.9,490.7 L188.1,491.0 L189.3,491.3 L190.5,491.6 L191.7,491.9 L192.9,492.1 L194.1,492.4 L195.3,492.7 L196.5,493.0 L197.7,493.2 L198.9,493.5 L200.1,493.8 L201.3,494.0 L202.5,494.3 L203.7,494.5 L204.9,494.8 L206.1,495.0 L207.3,495.3 L208.5,495.5 L209.7,495.8 L210.9,496.0 L212.1,496.3 L213.3,496.6 L214.5,496.8 L215.7,497.1 L216.9,497.4 L218.1,497.8 L219.3,498.1 L220.5,498.5 L221.7,498.9 L222.9,499.4 L224.1,499.8 L225.3,500.2 L226.5,500.5 L227.7,500.9 L228.9,501.1 L230.1,501.4 L231.3,501.8 L232.5,502.1 L233.7,502.3 L234.9,502.6 L236.1,502.8 L237.3,503.0 L238.5,503.1 L239.7,503.1 L240.9,503.1 L242.1,503.1 L243.3,503.1 L244.5,503.1 L245.7,503.1 L246.9,503.1 L248.1,503.1 L249.3,503.0 L250.5,503.0 L251.7,502.9 L252.9,502.7 L254.1,502.6 L254.4,502.6" stroke="#7fff5f"/>
<path d="M142.5,478.1 L143.7,478.4 L144.9,478.7 L146.1,479.1 L147.3,479.4 L148.5,479.7 L149.7,480.0 L150.9,480.3 L152.1,480.6 L153.3,480.9 L154.5,481.2 L155.7,481.4 L156.9,481.7 L158.1,482.0 L159.3,482.3 L160.5,482.6 L161.7,482.8 L162.9,483.1 L164.1,483.3 L165.3,483.6 L166.5,483.8 L167.7,484.0 L168.9,484.3 L170.1,484.5 L171.3,484.7 L172.5,485.0 L173.7,485.2 L174.9,485.4 L176.1,485.7 L177.3,485.9 L178.5,486.2 L179.7,486.5 L180.9,486.8 L182.1,487.1 L183.3,487.4 L184.5,487.7 L185.7,488.1 L186.9,488.4 L188.1,488.7 L189.3,489.1 L190.5,489.5 L191.7,489.8 L192.9,490.1 L194.1,490.5 L195.3,490.8 L196.5,491.1 L197.7,491.4 L198.9,491.7 L200.1,492.0 L201.3,492.2 L202.5,492.5 L203.7,492.7 L204.9,493.0 L206.1,493.2 L207.3,493.4 L208.5,493.7 L209.7,493.9 L210.9,494.1 L212.1,494.4 L213.3,494.6 L214.5,494.9 L215.7,495.1 L216.9,495.4 L218.1,495.6 L219.3,495.9 L220.5,496.2 L221.7,496.4 L222.9,496.7 L224.1,497.0 L225.3,497.3 L226.5,497.6 L227.7,497.9 L228.9,498.2 L230.1,498.5 L231.3,498.8 L232.5,499.2 L233.7,499.6 L234.9,499.9 L236.1,500.3 L237.3,500.6 L238.5,500.8 L239.7,501.0 L240.9,501.2 L242.1,501.4 L243.3,501.5 L244.5,501.7 L245.7,501.8 L246.9,501.8 L248.1,501.8 L249.3,501.8 L250.5,501.8 L251.7,501.8 L252.9,501.8 L254.1,501.8 L254.4,501.8" stroke="#ff4a3a"/>
</g>
<rect x="136.4" y="477.1" width="123.3" height="35.9" fill="none" stroke="#707070" stroke-width="1.0"/>
<text x="142.5" y="521.7" font-size="6.6" text-anchor="middle" fill="#111">01</text>
<text x="179.8" y="521.7" font-size="6.6" text-anchor="middle" fill="#111">11</text>
<text x="217.1" y="521.7" font-size="6.6" text-anchor="middle" fill="#111">21</text>
<text x="254.4" y="521.7" font-size="6.6" text-anchor="middle" fill="#111">31</text>
<rect x="417.3" y="477.1" width="123.4" height="35.9" fill="#fff"/>
<line x1="423.3" y1="477.1" x2="423.3" y2="513.0" stroke="#a0a0a0" stroke-width="0.8" stroke-dasharray="2.6,1.6"/>
<line x1="460.6" y1="477.1" x2="460.6" y2="513.0" stroke="#a0a0a0" stroke-width="0.8" stroke-dasharray="2.6,1.6"/>
<line x1="497.9" y1="477.1" x2="497.9" y2="513.0" stroke="#a0a0a0" stroke-width="0.8" stroke-dasharray="2.6,1.6"/>
<line x1="535.2" y1="477.1" x2="535.2" y2="513.0" stroke="#a0a0a0" stroke-width="0.8" stroke-dasharray="2.6,1.6"/>
<line x1="417.3" y1="490.9" x2="540.7" y2="490.9" stroke="#a0a0a0" stroke-width="0.8" stroke-dasharray="2.6,1.6"/>
<line x1="417.3" y1="503.9" x2="540.7" y2="503.9" stroke="#a0a0a0" stroke-width="0.8" stroke-dasharray="2.6,1.6"/>
<g fill="none" stroke-width="1.15" stroke-linejoin="round">
<path d="M423.3,484.3 L424.5,483.4 L425.7,482.8 L426.9,482.6 L428.1,483.0 L429.3,484.3 L430.5,486.1 L431.7,487.9 L432.9,489.5 L434.1,490.3 L435.3,490.3 L436.5,489.9 L437.7,489.2 L438.9,488.4 L440.1,487.5 L441.3,486.6 L442.5,485.9 L443.7,485.2 L444.9,484.4 L446.1,483.7 L447.3,482.9 L448.5,482.1 L449.7,481.3 L450.9,480.1 L452.1,479.0 L453.3,478.6 L454.5,478.9 L455.7,479.6 L456.9,480.5 L458.1,481.4 L459.3,482.1 L460.5,482.6 L461.7,482.7 L462.9,482.9 L464.1,482.9 L465.3,483.0 L466.5,483.1 L467.7,483.2 L468.9,483.6 L470.1,484.4 L471.3,485.7 L472.5,487.2 L473.7,488.7 L474.9,490.2 L476.1,491.5 L477.3,492.8 L478.5,494.1 L479.7,495.4 L480.9,496.8 L482.1,498.2 L483.3,499.6 L484.5,501.0 L485.7,502.5 L486.9,504.2 L488.1,506.5 L489.3,508.8 L490.5,509.8 L491.7,509.3 L492.9,507.9 L494.1,506.1 L495.3,504.1 L496.5,502.2 L497.7,500.6 L498.9,499.4 L500.1,498.3 L501.3,497.2 L502.5,496.3 L503.7,495.4 L504.9,494.7 L506.1,494.2 L507.3,493.6 L508.5,493.1 L509.7,492.7 L510.9,492.3 L512.1,492.1 L513.3,492.2 L514.5,492.8 L515.7,493.9 L516.9,495.2 L518.1,496.5 L519.3,497.5 L520.5,498.1 L521.7,498.4 L522.9,498.6 L524.1,498.9 L525.3,499.0 L526.5,499.2 L527.7,499.2 L528.9,498.9 L530.1,498.0 L531.3,496.5 L532.5,494.7 L533.7,492.6 L534.9,490.3 L535.2,489.7" stroke="#3f9f3f"/>
<path d="M423.3,487.4 L424.5,485.9 L425.7,484.7 L426.9,483.8 L428.1,483.2 L429.3,482.8 L430.5,482.6 L431.7,482.9 L432.9,483.8 L434.1,485.1 L435.3,486.5 L436.5,487.7 L437.7,488.4 L438.9,488.5 L440.1,488.2 L441.3,487.7 L442.5,487.1 L443.7,486.5 L444.9,486.0 L446.1,485.6 L447.3,485.2 L448.5,484.8 L449.7,484.4 L450.9,484.1 L452.1,483.9 L453.3,483.8 L454.5,483.8 L455.7,483.8 L456.9,483.8 L458.1,483.8 L459.3,483.8 L460.5,483.8 L461.7,483.8 L462.9,483.9 L464.1,484.1 L465.3,484.3 L466.5,484.6 L467.7,484.9 L468.9,485.3 L470.1,485.9 L471.3,486.6 L472.5,487.4 L473.7,488.4 L474.9,489.3 L476.1,490.1 L477.3,491.1 L478.5,492.0 L479.7,493.1 L480.9,494.1 L482.1,495.0 L483.3,495.8 L484.5,496.7 L485.7,497.6 L486.9,498.5 L488.1,499.2 L489.3,499.7 L490.5,499.9 L491.7,499.9 L492.9,499.9 L494.1,499.9 L495.3,499.9 L496.5,499.9 L497.7,499.9 L498.9,500.0 L500.1,500.5 L501.3,501.1 L502.5,501.8 L503.7,502.3 L504.9,502.7 L506.1,502.5 L507.3,501.5 L508.5,500.0 L509.7,498.3 L510.9,496.8 L512.1,495.8 L513.3,495.6 L514.5,495.8 L515.7,496.2 L516.9,496.8 L518.1,497.4 L519.3,498.0 L520.5,498.6 L521.7,499.3 L522.9,500.2 L524.1,501.1 L525.3,501.9 L526.5,502.5 L527.7,502.7 L528.9,502.5 L530.1,501.7 L531.3,500.6 L532.5,499.1 L533.7,497.2 L534.9,495.1 L535.2,494.5" stroke="#1f1fff"/>
<path d="M423.3,495.2 L424.5,494.1 L425.7,493.1 L426.9,492.1 L428.1,491.2 L429.3,490.5 L430.5,489.8 L431.7,489.3 L432.9,488.8 L434.1,488.3 L435.3,487.9 L436.5,487.5 L437.7,487.1 L438.9,486.8 L440.1,486.5 L441.3,486.3 L442.5,486.1 L443.7,485.9 L444.9,485.8 L446.1,485.7 L447.3,485.5 L448.5,485.4 L449.7,485.3 L450.9,485.2 L452.1,485.1 L453.3,485.0 L454.5,484.9 L455.7,484.7 L456.9,484.6 L458.1,484.5 L459.3,484.4 L460.5,484.2 L461.7,484.1 L462.9,484.0 L464.1,483.8 L465.3,483.6 L466.5,483.4 L467.7,483.2 L468.9,482.9 L470.1,482.7 L471.3,482.6 L472.5,482.8 L473.7,483.7 L474.9,485.1 L476.1,486.9 L477.3,488.6 L478.5,490.2 L479.7,491.3 L480.9,492.2 L482.1,493.1 L483.3,494.0 L484.5,494.7 L485.7,495.3 L486.9,495.6 L488.1,495.9 L489.3,496.2 L490.5,496.4 L491.7,496.6 L492.9,496.8 L494.1,496.8 L495.3,496.7 L496.5,496.5 L497.7,496.2 L498.9,496.0 L500.1,495.7 L501.3,495.6 L502.5,495.8 L503.7,496.5 L504.9,497.6 L506.1,498.7 L507.3,499.7 L508.5,500.3 L509.7,500.4 L510.9,500.3 L512.1,500.1 L513.3,499.9 L514.5,499.6 L515.7,499.4 L516.9,499.1 L518.1,499.0 L519.3,498.8 L520.5,498.6 L521.7,498.4 L522.9,498.2 L524.1,498.0 L525.3,497.7 L526.5,497.4 L527.7,497.1 L528.9,496.7 L530.1,496.4 L531.3,496.0 L532.5,495.5 L533.7,495.1 L534.9,494.6 L535.2,494.5" stroke="#ff3fff"/>
<path d="M423.3,493.3 L424.5,493.6 L425.7,493.9 L426.9,494.2 L428.1,494.3 L429.3,494.5 L430.5,494.5 L431.7,494.5 L432.9,494.4 L434.1,494.2 L435.3,493.9 L436.5,493.6 L437.7,493.3 L438.9,493.0 L440.1,492.6 L441.3,492.3 L442.5,492.0 L443.7,491.6 L444.9,491.3 L446.1,490.9 L447.3,490.6 L448.5,490.2 L449.7,489.8 L450.9,489.3 L452.1,488.9 L453.3,488.4 L454.5,487.9 L455.7,487.3 L456.9,486.6 L458.1,486.0 L459.3,485.4 L460.5,485.0 L461.7,484.7 L462.9,484.5 L464.1,484.2 L465.3,484.0 L466.5,483.9 L467.7,483.8 L468.9,483.8 L470.1,483.9 L471.3,484.1 L472.5,484.3 L473.7,484.6 L474.9,484.8 L476.1,485.2 L477.3,485.7 L478.5,486.5 L479.7,487.3 L480.9,488.2 L482.1,489.1 L483.3,489.9 L484.5,490.8 L485.7,491.7 L486.9,492.6 L488.1,493.4 L489.3,494.1 L490.5,494.5 L491.7,494.8 L492.9,495.0 L494.1,495.3 L495.3,495.4 L496.5,495.5 L497.7,495.6 L498.9,495.5 L500.1,495.1 L501.3,494.6 L502.5,494.1 L503.7,493.6 L504.9,493.3 L506.1,493.4 L507.3,494.0 L508.5,494.9 L509.7,496.0 L510.9,497.0 L512.1,497.7 L513.3,498.1 L514.5,498.4 L515.7,498.7 L516.9,498.9 L518.1,499.1 L519.3,499.2 L520.5,499.2 L521.7,499.0 L522.9,498.7 L524.1,498.3 L525.3,497.8 L526.5,497.2 L527.7,496.8 L528.9,496.4 L530.1,496.1 L531.3,495.7 L532.5,495.3 L533.7,495.0 L534.9,494.6 L535.2,494.5" stroke="#7fff5f"/>
<path d="M423.3,490.9 L424.5,491.0 L425.7,491.1 L426.9,491.1 L428.1,491.2 L429.3,491.3 L430.5,491.3 L431.7,491.3 L432.9,491.4 L434.1,491.4 L435.3,491.4 L436.5,491.4 L437.7,491.4 L438.9,491.4 L440.1,491.4 L441.3,491.3 L442.5,491.3 L443.7,491.2 L444.9,491.1 L446.1,491.0 L447.3,490.9 L448.5,490.8 L449.7,490.7 L450.9,490.6 L452.1,490.5 L453.3,490.4 L454.5,490.3 L455.7,490.3 L456.9,490.2 L458.1,490.2 L459.3,490.1 L460.5,490.0 L461.7,489.9 L462.9,489.8 L464.1,489.7 L465.3,489.5 L466.5,488.9 L467.7,488.1 L468.9,487.3 L470.1,486.6 L471.3,486.2 L472.5,486.2 L473.7,486.3 L474.9,486.5 L476.1,486.7 L477.3,487.0 L478.5,487.2 L479.7,487.5 L480.9,487.8 L482.1,488.2 L483.3,488.7 L484.5,489.1 L485.7,489.5 L486.9,489.7 L488.1,490.0 L489.3,490.3 L490.5,490.5 L491.7,490.7 L492.9,490.8 L494.1,490.9 L495.3,490.8 L496.5,490.6 L497.7,490.3 L498.9,490.1 L500.1,489.8 L501.3,489.7 L502.5,489.7 L503.7,489.8 L504.9,490.0 L506.1,490.3 L507.3,490.6 L508.5,490.9 L509.7,491.3 L510.9,491.6 L512.1,491.9 L513.3,492.2 L514.5,492.6 L515.7,493.0 L516.9,493.4 L518.1,493.9 L519.3,494.3 L520.5,494.7 L521.7,494.9 L522.9,495.1 L524.1,495.2 L525.3,495.2 L526.5,495.2 L527.7,495.2 L528.9,495.1 L530.1,495.1 L531.3,495.0 L532.5,494.9 L533.7,494.7 L534.9,494.6 L535.2,494.5" stroke="#ff4a3a"/>
</g>
<rect x="417.3" y="477.1" width="123.4" height="35.9" fill="none" stroke="#707070" stroke-width="1.0"/>
<text x="423.3" y="521.7" font-size="6.6" text-anchor="middle" fill="#111">01</text>
<text x="460.6" y="521.7" font-size="6.6" text-anchor="middle" fill="#111">11</text>
<text x="497.9" y="521.7" font-size="6.6" text-anchor="middle" fill="#111">21</text>
<text x="535.2" y="521.7" font-size="6.6" text-anchor="middle" fill="#111">31</text>
<rect x="262.4" y="480.7" width="32.0" height="13.2" rx="2.4" fill="#fff" stroke="#111" stroke-width="1.2"/>
<text x="278.4" y="489.9" font-size="8.4" text-anchor="middle" fill="#111">2021.1</text>
<rect x="380.1" y="480.7" width="33.2" height="13.2" rx="2.4" fill="#fff" stroke="#111" stroke-width="1.2"/>
<text x="396.7" y="489.9" font-size="8.4" text-anchor="middle" fill="#111">2021.7</text>
<path d="M297.2,487.3 A7.2,7.2 0 0 1 304.4,494.5 L304.4,569.1" fill="none" stroke="#111" stroke-width="1.2"/>
<path d="M301.7,568.2 L304.4,569.6 L307.1,568.2 L304.4,572.6 Z" fill="#111"/>
<path d="M377.6,486.9 L368.2,486.9 A7.2,7.2 0 0 0 361.0,494.1 L361.0,569.1" fill="none" stroke="#111" stroke-width="1.2"/>
<path d="M358.3,568.2 L361.0,569.6 L363.7,568.2 L361.0,572.6 Z" fill="#111"/>
<rect x="300.4" y="586.2" width="9.4" height="103.59999999999991" fill="#f6a9ae"/>
<rect x="356.9" y="586.2" width="9.0" height="103.59999999999991" fill="#a4b4c7"/>
<g clip-path="url(#c5)" fill="none" stroke-width="1.25" stroke-linejoin="round">
<path d="M75.5,650.5 L77.3,657.3 L79.1,647.4 L80.9,659.5 L82.3,650.2 L83.7,662.2 L85.0,658.7 L86.4,662.2 L88.2,659.0 L90.0,663.7 L91.8,659.7 L93.3,663.8 L94.7,657.1 L96.2,658.8 L97.6,652.3 L99.1,664.5 L100.6,651.8 L102.0,661.5 L103.5,658.3 L104.9,662.0 L106.4,652.8 L107.8,660.1 L109.3,655.0 L110.7,660.3 L112.2,654.5 L113.6,663.8 L115.1,661.3 L116.5,669.2 L118.0,658.6 L119.4,671.7 L120.9,661.0 L122.4,666.4 L123.8,654.6 L125.3,665.4 L126.7,651.1 L128.2,661.9 L130.0,646.9 L131.8,654.8 L133.6,650.3 L135.1,663.2 L136.6,650.5 L138.1,656.3 L139.7,650.8 L141.2,660.5 L142.7,654.7 L144.2,663.1 L145.7,654.0 L147.2,662.0 L148.8,654.7 L150.3,664.3 L151.8,658.2 L153.3,668.6 L154.8,658.9 L156.4,670.3 L157.9,658.8 L159.4,661.7 L160.9,659.9 L162.3,668.3 L163.6,659.1 L165.0,662.6 L166.4,656.2 L167.8,657.2 L169.1,647.2 L170.5,658.3 L172.3,652.1 L174.1,661.6 L175.9,652.0 L177.4,659.4 L178.8,653.3 L180.3,662.4 L181.7,649.6 L183.2,660.0 L185.0,652.6 L186.8,658.7 L188.6,659.6 M191.4,659.8 L192.3,667.6 L193.8,661.7 L195.3,666.1 L196.9,656.1 L198.4,663.4 L199.9,655.7 L201.4,669.0 L202.8,655.0 L204.3,664.3 L205.7,665.9 L207.2,668.6 L208.6,662.2 L210.1,666.9 L211.5,659.4 L213.0,662.4 L214.4,658.1 L215.9,667.6 L217.4,657.0 L218.8,665.5 L220.3,657.8 L221.7,659.3 L223.2,653.3 L224.7,661.5 L226.1,653.8 L227.6,663.0 L229.0,649.1 L230.5,661.4 L231.9,653.6 L233.4,658.2 L234.8,646.9 L236.3,661.3 L237.7,657.7 L239.2,663.5 L240.6,647.9 L242.1,661.2 L243.5,658.2 L244.8,637.5 L246.0,681.5 L246.5,655.4 L247.9,660.1 L249.4,653.1 L250.8,661.1 L252.3,646.5 L254.5,638.2 L256.6,662.7 L258.1,651.2 L259.4,647.9 L260.5,679.9 L261.0,654.0 L262.5,669.2 L264.0,654.9 L265.5,663.9 L267.3,660.2 L269.1,666.7 L270.9,650.8 L272.4,663.9 L273.8,660.0 L275.3,664.9 L276.7,649.6 L278.2,661.0 L280.0,654.8 L281.8,660.2 L283.6,651.2 L285.0,653.8 L286.4,648.5 L287.7,654.6 L289.1,642.1 L290.9,654.1 L292.7,646.7 L294.5,657.0 L296.0,650.9 L297.4,661.2 L298.9,655.3 L300.3,658.4 L301.8,644.0 L303.3,662.4 L304.8,652.8 L306.4,664.1 L307.9,650.3 L309.4,665.8 L310.9,661.6 L312.4,662.5 L313.9,655.2 L315.4,663.2 L317.0,664.9 L318.5,666.0 L320.0,656.4 L321.5,669.7 L323.0,660.5 L324.6,664.5 L326.1,659.2 L327.6,668.5 L329.1,659.5 L330.6,665.4 L332.1,656.3 L333.6,662.6 L335.2,654.7 L336.7,664.6 L338.2,654.9 L339.7,665.4 L341.1,651.3 L342.6,660.8 L344.0,650.2 L345.5,662.3 L347.3,656.3 L349.1,667.4 L350.9,659.1 L352.4,660.7 L353.9,657.6 L355.4,660.4 L357.0,652.4 L358.5,662.8 L360.0,654.8 L361.4,660.1 L362.7,655.2 L364.1,666.4 L365.6,656.9 L367.1,665.8 L368.6,654.2 L370.2,661.7 L371.7,658.9 L373.2,664.2 L374.7,653.7 L376.2,664.1 L377.8,650.0 L379.3,661.1 L380.8,651.1 L382.7,640.0 L383.7,651.1 L385.2,667.5 L386.6,652.7 L388.1,664.0 L389.5,652.9 L391.0,661.8 L392.4,645.9 L393.9,655.6 L395.3,637.6 L396.8,655.4 L398.1,633.1 L399.6,658.3 L400.9,651.0 L402.3,655.1 L403.7,650.1 L405.2,656.9 L406.6,645.1 L408.1,658.8 L409.5,647.6 L411.0,658.6 L412.5,651.2 L414.1,664.4 L415.6,652.5 L417.1,662.8 L418.6,653.3 L420.1,667.3 L421.6,656.4 L423.1,667.6 L424.7,658.1 L426.2,663.1 L427.7,659.8 L429.2,667.0 L430.7,657.4 L432.2,666.8 L433.8,663.6 L435.3,673.6 L436.8,658.8 L438.3,668.1 L439.8,656.5 L441.4,661.6 L442.9,655.8 L444.4,669.8 L445.9,654.6 L447.4,662.2 L449.0,657.9 L450.5,662.7 L452.3,661.8 L454.1,664.2 L455.9,653.8 L457.4,661.4 L458.8,652.7 L460.3,656.4 L461.7,651.2 L463.2,658.7 L464.7,650.0 L466.1,664.0 L467.6,652.8 L469.0,663.6 L470.5,654.9 L471.9,662.8 L473.4,655.1 L474.8,657.0 L476.3,658.5 L477.7,658.6 L479.2,652.0 L480.7,663.9 L482.2,643.1 L483.8,654.5 L485.3,647.1 L486.8,647.1 M488.6,662.3 L490.1,666.5 L491.5,655.3 L493.0,670.8 L494.4,663.8 L495.9,663.2 L497.4,650.1 L498.8,671.8 L500.3,655.8 L501.7,667.6 L503.2,655.4 L505.0,660.1 L506.8,644.5 L508.6,658.0 L510.0,655.1 L511.4,662.6 L512.7,658.4 L514.1,663.1 L515.9,657.3 L517.7,660.7 L519.5,647.9 L521.4,654.5 L523.2,656.3" stroke="#3f9f3f" stroke-width="1.15"/>
<path d="M75.5,657.6 L77.3,649.7 L79.1,658.5 L80.9,648.2 L82.3,663.4 L83.7,648.1 L85.0,662.8 L86.4,659.5 L88.2,664.6 L90.0,660.5 L91.8,662.8 L93.3,658.1 L94.7,663.3 L96.2,656.8 L97.6,659.4 L99.1,652.2 L100.6,666.7 L102.0,653.5 L103.5,661.6 L104.9,657.9 L106.4,662.8 L107.8,649.8 L109.3,658.7 L110.7,654.0 L112.2,660.9 L113.6,656.3 L115.1,666.1 L116.5,662.8 L118.0,670.4 L119.4,658.6 L120.9,670.6 L122.4,660.1 L123.8,665.8 L125.3,653.2 L126.7,664.3 L128.2,650.9 L130.0,660.3 L131.8,644.6 L133.6,656.0 L135.1,650.9 L136.6,664.1 L138.1,650.7 L139.7,656.7 L141.2,652.4 L142.7,660.1 L144.2,656.3 L145.7,662.8 L147.2,654.3 L148.8,662.9 L150.3,654.6 L151.8,665.5 L153.3,658.9 L154.8,668.8 L156.4,659.8 L157.9,670.0 L159.4,659.1 L160.9,661.8 L162.3,655.3 L163.6,667.4 L165.0,655.5 L166.4,661.5 L167.8,652.4 L169.1,660.0 L170.5,647.1 L172.3,659.3 L174.1,652.4 L175.9,662.4 L177.4,651.3 L178.8,660.1 L180.3,654.0 L181.7,662.4 L183.2,650.9 L185.0,661.9 L186.8,651.7 L188.6,660.7 M191.4,662.5 L192.3,652.3 L193.8,666.7 L195.3,661.9 L196.9,665.0 L198.4,654.5 L199.9,664.3 L201.4,656.2 L202.8,670.0 L204.3,655.9 L205.7,665.6 L207.2,665.7 L208.6,669.0 L210.1,662.3 L211.5,667.3 L213.0,659.9 L214.4,664.3 L215.9,657.4 L217.4,667.4 L218.8,656.5 L220.3,663.4 L221.7,657.5 L223.2,658.9 L224.7,652.4 L226.1,661.1 L227.6,653.6 L229.0,663.6 L230.5,647.5 L231.9,662.2 L233.4,654.4 L234.8,661.7 L236.3,645.1 L237.7,661.3 L239.2,654.2 L240.6,664.6 L242.1,647.3 L243.5,635.0 L244.7,675.5 L245.0,656.5 L246.5,667.9 L247.9,653.4 L249.4,660.9 L250.8,653.8 L252.3,661.9 L253.2,639.5 L255.2,658.3 L256.6,649.1 L258.1,645.6 L259.2,675.1 L259.5,651.1 L261.0,666.2 L262.5,654.6 L264.0,667.2 L265.5,655.1 L267.3,664.2 L269.1,658.8 L270.9,668.0 L272.4,650.6 L273.8,664.6 L275.3,660.7 L276.7,666.6 L278.2,648.8 L280.0,661.4 L281.8,654.1 L283.6,657.9 L285.0,648.6 L286.4,652.7 L287.7,647.6 L289.1,655.4 L290.9,642.7 L292.7,656.8 L294.5,647.6 L296.0,658.7 L297.4,652.0 L298.9,662.0 L300.3,655.3 L301.8,658.8 L303.3,644.9 L304.8,663.0 L306.4,654.1 L307.9,664.4 L309.4,650.3 L310.9,664.1 L312.4,661.4 L313.9,663.2 L315.4,655.3 L317.0,662.0 L318.5,662.6 L320.0,665.3 L321.5,654.7 L323.0,668.5 L324.6,659.1 L326.1,661.6 L327.6,657.7 L329.1,667.2 L330.6,658.4 L332.1,664.4 L333.6,654.1 L335.2,663.8 L336.7,653.9 L338.2,664.1 L339.7,651.4 L341.1,665.0 L342.6,649.5 L344.0,661.3 L345.5,652.1 L347.3,665.5 L349.1,657.1 L350.9,666.9 L352.4,659.0 L353.9,661.4 L355.4,656.5 L357.0,660.7 L358.5,652.0 L360.0,662.1 L361.4,653.9 L362.7,660.5 L364.1,653.8 L365.6,666.1 L367.1,657.4 L368.6,665.3 L370.2,654.8 L371.7,661.0 L373.2,657.4 L374.7,663.3 L376.2,654.4 L377.8,663.9 L379.3,648.2 L381.4,635.1 L382.3,649.8 L383.7,669.9 L385.2,650.8 L386.6,668.1 L388.1,650.9 L389.5,663.4 L391.0,647.9 L392.4,660.4 L393.9,643.0 L395.3,657.2 L396.8,622.8 L398.2,660.4 L399.6,652.6 L400.9,658.9 L402.3,649.7 L403.7,654.7 L405.2,649.4 L406.6,657.1 L408.1,646.9 L409.5,658.8 L411.0,649.2 L412.5,659.8 L414.1,650.7 L415.6,664.9 L417.1,651.5 L418.6,663.4 L420.1,653.0 L421.6,666.5 L423.1,656.9 L424.7,666.2 L426.2,658.1 L427.7,665.4 L429.2,660.0 L430.7,667.5 L432.2,660.0 L433.8,666.1 L435.3,662.6 L436.8,670.5 L438.3,659.6 L439.8,666.8 L441.4,657.0 L442.9,662.7 L444.4,656.5 L445.9,668.9 L447.4,656.7 L449.0,662.5 L450.5,659.8 L452.3,663.7 L454.1,660.2 L455.9,662.6 L457.4,652.2 L458.8,660.6 L460.3,651.7 L461.7,658.7 L463.2,652.1 L464.7,659.1 L466.1,650.2 L467.6,664.9 L469.0,653.0 L470.5,663.6 L471.9,654.2 L473.4,661.9 L474.8,655.5 L476.3,655.4 L477.7,657.3 L479.2,656.9 L480.7,650.0 L482.2,660.6 L483.8,642.7 L485.3,655.2 L486.8,646.9 M488.6,674.2 L490.1,661.0 L491.5,667.1 L493.0,655.1 L494.4,666.8 L495.9,662.0 L497.4,663.2 L498.8,650.2 L500.3,669.7 L501.7,653.1 L503.2,664.4 L505.0,651.6 L506.8,660.3 L508.6,644.7 L510.0,657.7 L511.4,656.0 L512.7,663.9 L514.1,658.1 L515.9,665.1 L517.7,657.6 L519.5,655.9 L521.4,643.1 L523.2,655.7" stroke="#1f1fff" stroke-width="1.15"/>
<path d="M75.5,655.0 L77.3,653.6 L79.1,653.2 L80.9,654.8 L82.3,655.0 L83.7,655.2 L85.0,657.9 L86.4,660.1 L88.2,661.4 L90.0,663.0 L91.8,661.8 L93.3,661.3 L94.7,660.5 L96.2,658.5 L97.6,656.7 L99.1,658.7 L100.6,658.8 L102.0,658.3 L103.5,659.3 L104.9,660.6 L106.4,658.4 L107.8,656.4 L109.3,656.4 L110.7,657.0 L112.2,656.0 L113.6,658.1 L115.1,661.0 L116.5,664.2 L118.0,664.4 L119.4,666.0 L120.9,665.9 L122.4,664.4 L123.8,661.8 L125.3,660.1 L126.7,658.2 L128.2,656.4 L130.0,654.1 L131.8,650.9 L133.6,652.2 L135.1,655.1 L136.6,655.7 L138.1,654.5 L139.7,654.3 L141.2,655.5 L142.7,657.2 L144.2,659.0 L145.7,659.4 L147.2,659.6 L148.8,659.7 L150.3,660.2 L151.8,661.1 L153.3,663.2 L154.8,664.4 L156.4,664.9 L157.9,664.5 L159.4,663.2 L160.9,660.8 L162.3,662.3 L163.6,662.6 L165.0,660.2 L166.4,658.0 L167.8,657.1 L169.1,653.4 L170.5,652.5 L172.3,654.2 L174.1,655.8 L175.9,656.6 L177.4,656.5 L178.8,655.8 L180.3,657.3 L181.7,656.7 L183.2,656.2 L185.0,657.1 L186.8,656.7 L188.6,657.1 M191.4,659.4 L192.3,660.4 L193.8,661.9 L195.3,663.0 L196.9,661.3 L198.4,659.6 L199.9,658.7 L201.4,660.7 L202.8,661.2 L204.3,660.3 L205.7,662.9 L207.2,665.7 L208.6,664.7 L210.1,664.0 L211.5,663.7 L213.0,662.4 L214.4,661.1 L215.9,662.6 L217.4,662.4 L218.8,661.7 L220.3,661.7 L221.7,660.2 L223.2,657.6 L224.7,656.5 L226.1,656.2 L227.6,657.2 L229.0,655.7 L230.5,654.9 L231.9,656.0 L233.4,656.8 L234.8,655.1 L236.3,655.2 L237.7,656.8 L239.2,658.7 L240.6,656.7 L242.1,654.4 L243.5,655.6 L244.2,640.0 L245.3,670.8 L246.5,659.4 L247.9,658.5 L249.4,657.2 L250.8,657.8 L252.3,655.9 L253.9,645.5 L255.2,654.8 L256.6,654.8 L258.1,654.8 L258.8,647.4 L259.9,669.8 L261.0,659.7 L262.5,661.1 L264.0,662.1 L265.5,660.5 L267.3,660.0 L269.1,660.2 L270.9,658.9 L272.4,657.8 L273.8,659.6 L275.3,661.4 L276.7,659.2 L278.2,656.7 L280.0,657.6 L281.8,658.8 L283.6,655.5 L285.0,653.2 L286.4,651.4 L287.7,650.8 L289.1,650.5 L290.9,649.8 L292.7,651.4 L294.5,652.7 L296.0,653.8 L297.4,655.9 L298.9,657.9 L300.3,658.2 L301.8,654.7 L303.3,653.9 L304.8,656.4 L306.4,657.9 L307.9,657.2 L309.4,657.6 L310.9,660.5 L312.4,661.3 L313.9,659.8 L315.4,659.9 L317.0,662.0 L318.5,663.2 L320.0,661.2 L321.5,661.4 L323.0,662.6 L324.6,661.6 L326.1,660.1 L327.6,660.7 L329.1,660.9 L330.6,660.9 L332.1,660.8 L333.6,659.7 L335.2,659.1 L336.7,660.0 L338.2,659.1 L339.7,658.8 L341.1,657.9 L342.6,656.6 L344.0,654.6 L345.5,656.3 L347.3,659.9 L349.1,662.0 L350.9,662.8 L352.4,661.6 L353.9,659.9 L355.4,659.7 L357.0,658.1 L358.5,657.5 L360.0,657.6 L361.4,657.3 L362.7,657.0 L364.1,659.3 L365.6,660.4 L367.1,660.5 L368.6,660.2 L370.2,659.5 L371.7,659.8 L373.2,660.0 L374.7,659.9 L376.2,659.9 L377.8,656.6 L379.3,654.0 L380.8,653.8 L382.1,640.7 L383.7,659.1 L385.2,659.1 L386.6,658.9 L388.1,660.2 L389.5,657.7 L391.0,655.6 L392.4,652.8 L393.9,650.7 L395.3,646.1 L397.5,636.4 L399.6,653.9 L400.9,655.2 L402.3,654.0 L403.7,652.5 L405.2,653.2 L406.6,652.6 L408.1,651.3 L409.5,652.4 L411.0,654.3 L412.5,654.3 L414.1,655.9 L415.6,657.4 L417.1,657.9 L418.6,657.2 L420.1,658.0 L421.6,659.8 L423.1,660.7 L424.7,661.3 L426.2,661.0 L427.7,661.6 L429.2,662.7 L430.7,662.7 L432.2,662.2 L433.8,663.1 L435.3,666.7 L436.8,666.6 L438.3,664.5 L439.8,663.0 L441.4,661.6 L442.9,659.8 L444.4,661.5 L445.9,662.5 L447.4,660.5 L449.0,661.4 L450.5,661.1 L452.3,660.9 L454.1,661.3 L455.9,658.7 L457.4,657.5 L458.8,656.7 L460.3,655.9 L461.7,654.8 L463.2,655.6 L464.7,655.2 L466.1,656.4 L467.6,657.2 L469.0,658.3 L470.5,658.5 L471.9,658.6 L473.4,658.6 L474.8,657.2 L476.3,657.6 L477.7,657.8 L479.2,654.9 L480.7,655.3 L482.2,653.3 L483.8,650.0 L485.3,650.2 L486.8,650.3 M488.6,669.4 L490.1,665.8 L491.5,662.9 L493.0,661.8 L494.4,663.4 L495.9,663.2 L497.4,659.1 L498.8,659.1 L500.3,661.2 L501.7,661.1 L503.2,659.3 L505.0,657.0 L506.8,652.9 L508.6,653.4 L510.0,656.3 L511.4,659.2 L512.7,660.4 L514.1,660.8 L515.9,661.4 L517.7,662.3 L519.5,656.3 L521.4,649.6 L523.2,651.1" stroke="#ff3fff" stroke-width="1.15"/>
<path d="M75.5,654.4 L77.3,654.2 L79.1,653.1 L80.9,653.1 L82.3,654.2 L83.7,656.0 L85.0,657.0 L86.4,658.1 L88.2,659.6 L90.0,661.7 L91.8,662.7 L93.3,661.6 L94.7,660.3 L96.2,658.2 L97.6,658.4 L99.1,658.4 L100.6,658.3 L102.0,659.0 L103.5,659.9 L104.9,659.2 L106.4,658.5 L107.8,658.1 L109.3,658.1 L110.7,656.7 L112.2,655.9 L113.6,657.3 L115.1,660.2 L116.5,661.1 L118.0,663.7 L119.4,666.6 L120.9,666.8 L122.4,664.2 L123.8,663.0 L125.3,661.1 L126.7,659.7 L128.2,657.9 L130.0,654.7 L131.8,652.7 L133.6,653.2 L135.1,654.1 L136.6,653.7 L138.1,653.8 L139.7,655.1 L141.2,656.4 L142.7,657.8 L144.2,658.1 L145.7,658.5 L147.2,658.8 L148.8,659.8 L150.3,660.8 L151.8,662.3 L153.3,662.8 L154.8,663.5 L156.4,663.8 L157.9,663.3 L159.4,663.2 L160.9,664.8 L162.3,664.2 L163.6,663.3 L165.0,661.2 L166.4,659.5 L167.8,655.7 L169.1,653.8 L170.5,653.9 L172.3,654.9 L174.1,655.9 L175.9,655.7 L177.4,655.8 L178.8,656.7 L180.3,656.2 L181.7,656.1 L183.2,656.4 L185.0,656.5 L186.8,657.5 L188.6,657.8 M191.4,662.9 L192.3,663.1 L193.8,663.1 L195.3,661.4 L196.9,660.3 L198.4,659.4 L199.9,659.5 L201.4,659.0 L202.8,659.2 L204.3,661.3 L205.7,663.6 L207.2,664.3 L208.6,664.4 L210.1,663.6 L211.5,663.0 L213.0,662.4 L214.4,663.4 L215.9,662.7 L217.4,661.9 L218.8,661.3 L220.3,660.4 L221.7,658.6 L223.2,658.3 L224.7,657.9 L226.1,658.2 L227.6,656.5 L229.0,655.5 L230.5,655.9 L231.9,656.5 L233.4,655.0 L234.8,655.5 L236.3,657.2 L237.7,658.6 L239.2,656.7 L240.6,655.7 L242.1,656.3 L243.5,657.9 L245.0,657.6 L245.4,646.7 L246.6,664.3 L247.9,656.2 L249.4,657.0 L250.8,656.2 L252.3,655.9 L253.7,655.4 L255.1,650.6 L256.6,655.9 L258.1,656.1 L259.5,656.6 L259.9,652.1 L261.1,664.9 L262.5,659.5 L264.0,660.9 L265.5,661.6 L267.3,661.3 L269.1,659.9 L270.9,658.1 L272.4,659.3 L273.8,660.4 L275.3,658.8 L276.7,658.4 L278.2,658.9 L280.0,659.0 L281.8,659.1 L283.6,657.4 L285.0,654.9 L286.4,653.6 L287.7,649.8 L289.1,648.5 L290.9,650.1 L292.7,651.2 L294.5,652.7 L296.0,654.5 L297.4,655.7 L298.9,656.4 L300.3,655.1 L301.8,655.5 L303.3,656.9 L304.8,657.9 L306.4,657.3 L307.9,657.6 L309.4,659.2 L310.9,659.8 L312.4,659.0 L313.9,659.0 L315.4,660.3 L317.0,661.6 L318.5,661.0 L320.0,661.5 L321.5,662.1 L323.0,661.3 L324.6,660.4 L326.1,660.9 L327.6,660.7 L329.1,660.4 L330.6,659.8 L332.1,659.5 L333.6,659.3 L335.2,660.0 L336.7,660.2 L338.2,660.5 L339.7,659.4 L341.1,658.3 L342.6,656.8 L344.0,655.9 L345.5,657.0 L347.3,659.4 L349.1,662.7 L350.9,662.8 L352.4,661.5 L353.9,661.1 L355.4,659.9 L357.0,659.5 L358.5,659.3 L360.0,658.8 L361.4,657.4 L362.7,657.7 L364.1,658.2 L365.6,658.9 L367.1,658.7 L368.6,658.4 L370.2,659.1 L371.7,660.7 L373.2,660.2 L374.7,659.5 L376.2,657.9 L377.8,656.7 L379.3,655.9 L380.8,656.4 L382.3,656.0 L383.3,647.1 L385.2,657.7 L386.6,659.3 L388.1,660.2 L389.5,659.8 L391.0,656.9 L392.4,654.4 L393.9,649.6 L395.3,646.2 L396.8,647.4 L398.7,643.6 L399.6,651.9 L400.9,654.2 L402.3,654.4 L403.7,654.6 L405.2,653.2 L406.6,652.7 L408.1,651.6 L409.5,651.9 L411.0,652.6 L412.5,654.5 L414.1,655.7 L415.6,656.6 L417.1,657.4 L418.6,658.7 L420.1,659.4 L421.6,659.9 L423.1,660.0 L424.7,659.9 L426.2,659.8 L427.7,660.6 L429.2,660.8 L430.7,661.2 L432.2,662.1 L433.8,664.0 L435.3,664.5 L436.8,664.0 L438.3,663.1 L439.8,662.0 L441.4,661.0 L442.9,661.7 L444.4,661.4 L445.9,660.4 L447.4,660.8 L449.0,661.9 L450.5,662.4 L452.3,662.2 L454.1,660.8 L455.9,659.2 L457.4,658.2 L458.8,657.5 L460.3,656.4 L461.7,656.0 L463.2,655.5 L464.7,656.7 L466.1,657.2 L467.6,658.1 L469.0,658.7 L470.5,659.0 L471.9,658.8 L473.4,658.0 L474.8,658.1 L476.3,658.6 L477.7,657.3 L479.2,657.1 L480.7,655.4 L482.2,653.1 L483.8,652.3 L485.3,651.3 L486.8,650.8 M488.6,666.9 L490.1,664.6 L491.5,664.4 L493.0,664.9 L494.4,664.0 L495.9,660.6 L497.4,661.2 L498.8,661.8 L500.3,661.9 L501.7,661.7 L503.2,660.3 L505.0,657.4 L506.8,653.3 L508.6,653.8 L510.0,656.3 L511.4,657.8 L512.7,659.3 L514.1,660.2 L515.9,660.9 L517.7,662.2 L519.5,659.2 L521.4,653.7 L523.2,650.2" stroke="#7fff5f" stroke-width="1.15"/>
<path d="M75.5,655.9 L77.3,653.9 L79.1,653.9 L80.9,652.7 L82.3,654.0 L83.7,654.6 L85.0,655.1 L86.4,657.6 L88.2,659.2 L90.0,660.8 L91.8,662.7 L93.3,661.9 L94.7,661.4 L96.2,660.4 L97.6,658.8 L99.1,656.9 L100.6,658.6 L102.0,659.1 L103.5,658.5 L104.9,659.8 L106.4,660.3 L107.8,658.3 L109.3,657.2 L110.7,657.2 L112.2,656.8 L113.6,655.5 L115.1,657.8 L116.5,660.8 L118.0,663.3 L119.4,664.2 L120.9,666.9 L122.4,666.3 L123.8,664.3 L125.3,661.9 L126.7,660.6 L128.2,659.0 L130.0,656.6 L131.8,653.9 L133.6,651.1 L135.1,652.8 L136.6,654.6 L138.1,655.3 L139.7,654.5 L141.2,655.3 L142.7,656.6 L144.2,657.8 L145.7,658.9 L147.2,659.1 L148.8,659.4 L150.3,660.0 L151.8,661.0 L153.3,662.0 L154.8,663.2 L156.4,663.7 L157.9,664.2 L159.4,664.7 L160.9,663.8 L162.3,662.5 L163.6,663.1 L165.0,662.9 L166.4,660.5 L167.8,658.5 L169.1,656.4 L170.5,653.0 L172.3,653.7 L174.1,655.2 L175.9,656.1 L177.4,656.1 L178.8,655.7 L180.3,656.2 L181.7,656.9 L183.2,656.4 L185.0,656.6 L186.8,657.2 L188.6,657.5 M191.4,657.5 L192.3,661.2 L193.8,661.5 L195.3,662.6 L196.9,661.9 L198.4,660.0 L199.9,659.1 L201.4,658.4 L202.8,660.3 L204.3,660.6 L205.7,660.3 L207.2,663.3 L208.6,665.1 L210.1,664.3 L211.5,663.9 L213.0,663.3 L214.4,662.5 L215.9,662.3 L217.4,662.7 L218.8,661.8 L220.3,660.6 L221.7,660.5 L223.2,659.1 L224.7,657.6 L226.1,657.4 L227.6,657.1 L229.0,657.1 L230.5,655.4 L231.9,655.3 L233.4,656.8 L234.8,656.8 L236.3,655.4 L237.7,655.9 L239.2,657.6 L240.6,658.0 L242.1,656.0 L243.5,654.9 L245.0,656.3 L246.5,658.1 L247.9,658.0 L249.4,656.7 L250.8,656.7 L252.3,657.5 L253.7,656.0 L255.2,655.2 L256.6,655.3 L258.1,655.8 L259.5,655.7 L261.0,657.3 L262.5,658.9 L264.0,660.3 L265.5,661.8 L267.3,660.3 L269.1,660.3 L270.9,659.9 L272.4,658.7 L273.8,658.3 L275.3,660.3 L276.7,660.7 L278.2,659.0 L280.0,658.2 L281.8,659.1 L283.6,658.8 L285.0,656.5 L286.4,653.9 L287.7,651.8 L289.1,650.1 L290.9,649.7 L292.7,650.4 L294.5,652.0 L296.0,652.8 L297.4,654.3 L298.9,655.7 L300.3,657.1 L301.8,657.4 L303.3,655.3 L304.8,655.9 L306.4,657.8 L307.9,658.0 L309.4,657.4 L310.9,657.9 L312.4,660.3 L313.9,660.0 L315.4,659.3 L317.0,659.6 L318.5,661.3 L320.0,662.2 L321.5,660.5 L323.0,661.2 L324.6,661.9 L326.1,660.3 L327.6,659.9 L329.1,660.5 L330.6,660.7 L332.1,660.4 L333.6,660.0 L335.2,659.7 L336.7,659.7 L338.2,660.6 L339.7,659.6 L341.1,659.2 L342.6,658.3 L344.0,656.8 L345.5,655.7 L347.3,658.0 L349.1,660.7 L350.9,663.4 L352.4,663.3 L353.9,661.4 L355.4,660.5 L357.0,660.2 L358.5,658.7 L360.0,658.7 L361.4,658.4 L362.7,657.4 L364.1,656.4 L365.6,657.9 L367.1,659.1 L368.6,659.4 L370.2,659.3 L371.7,658.9 L373.2,660.2 L374.7,660.1 L376.2,658.7 L377.8,658.2 L379.3,656.4 L380.8,655.2 L382.3,654.8 L383.7,657.3 L385.2,657.8 L386.6,658.3 L388.1,659.8 L389.5,660.8 L391.0,657.9 L392.4,655.4 L393.9,652.8 L395.3,649.8 L396.8,645.2 L398.2,647.1 L399.6,651.3 L400.9,653.2 L402.3,655.4 L403.7,654.0 L405.2,653.3 L406.6,653.4 L408.1,652.0 L409.5,651.2 L411.0,652.6 L412.5,653.4 L414.1,654.4 L415.6,656.2 L417.1,657.4 L418.6,658.0 L420.1,658.1 L421.6,659.0 L423.1,659.8 L424.7,659.8 L426.2,660.2 L427.7,659.8 L429.2,660.5 L430.7,661.5 L432.2,661.7 L433.8,662.0 L435.3,663.4 L436.8,665.1 L438.3,664.1 L439.8,663.0 L441.4,662.5 L442.9,661.1 L444.4,660.4 L445.9,661.4 L447.4,661.8 L449.0,660.7 L450.5,662.0 L452.3,661.5 L454.1,661.5 L455.9,661.0 L457.4,659.0 L458.8,658.1 L460.3,657.4 L461.7,656.4 L463.2,655.6 L464.7,656.3 L466.1,656.3 L467.6,657.5 L469.0,658.2 L470.5,658.7 L471.9,659.0 L473.4,658.6 L474.8,658.7 L476.3,657.6 L477.7,658.0 L479.2,657.5 L480.7,655.3 L482.2,655.7 L483.8,653.4 L485.3,650.9 L486.8,651.1 M488.6,671.1 L490.1,667.4 L491.5,665.1 L493.0,663.4 L494.4,663.1 L495.9,664.1 L497.4,662.9 L498.8,659.7 L500.3,661.0 L501.7,661.9 L503.2,661.1 L505.0,659.3 L506.8,656.6 L508.6,652.8 L510.0,653.6 L511.4,656.5 L512.7,658.3 L514.1,660.1 L515.9,661.0 L517.7,661.6 L519.5,662.9 L521.4,655.8 L523.2,649.6" stroke="#ff4a3a" stroke-width="1.2"/>
</g>
<rect x="53.0" y="586.2" width="492.6" height="103.59999999999991" fill="none" stroke="#9a9a9a" stroke-width="1.4"/>
<line x1="49.6" y1="586.2" x2="53.0" y2="586.2" stroke="#9a9a9a" stroke-width="1.1"/>
<text x="45.8" y="589.3" font-size="8.6" text-anchor="end" fill="#111">9</text>
<line x1="49.6" y1="612.1" x2="53.0" y2="612.1" stroke="#9a9a9a" stroke-width="1.1"/>
<text x="45.8" y="615.2" font-size="8.6" text-anchor="end" fill="#111">6</text>
<line x1="49.6" y1="638.0" x2="53.0" y2="638.0" stroke="#9a9a9a" stroke-width="1.1"/>
<text x="45.8" y="641.1" font-size="8.6" text-anchor="end" fill="#111">3</text>
<line x1="49.6" y1="663.9" x2="53.0" y2="663.9" stroke="#9a9a9a" stroke-width="1.1"/>
<text x="45.8" y="667.0" font-size="8.6" text-anchor="end" fill="#111">0</text>
<line x1="49.6" y1="689.8" x2="53.0" y2="689.8" stroke="#9a9a9a" stroke-width="1.1"/>
<text x="45.8" y="692.9" font-size="8.6" text-anchor="end" fill="#111">−3</text>
<line x1="73.6" y1="689.8" x2="73.6" y2="692.6" stroke="#9a9a9a" stroke-width="1.1"/>
<text x="73.6" y="703.3" font-size="8.6" text-anchor="middle" fill="#111">2019</text>
<line x1="129.8" y1="689.8" x2="129.8" y2="692.6" stroke="#9a9a9a" stroke-width="1.1"/>
<text x="129.8" y="703.3" font-size="8.6" text-anchor="middle" fill="#111">Jul</text>
<line x1="187.0" y1="689.8" x2="187.0" y2="692.6" stroke="#9a9a9a" stroke-width="1.1"/>
<text x="187.0" y="703.3" font-size="8.6" text-anchor="middle" fill="#111">2020</text>
<line x1="243.5" y1="689.8" x2="243.5" y2="692.6" stroke="#9a9a9a" stroke-width="1.1"/>
<text x="243.5" y="703.3" font-size="8.6" text-anchor="middle" fill="#111">Jul</text>
<line x1="300.4" y1="689.8" x2="300.4" y2="692.6" stroke="#9a9a9a" stroke-width="1.1"/>
<text x="300.4" y="703.3" font-size="8.6" text-anchor="middle" fill="#111">2021</text>
<line x1="356.6" y1="689.8" x2="356.6" y2="692.6" stroke="#9a9a9a" stroke-width="1.1"/>
<text x="356.6" y="703.3" font-size="8.6" text-anchor="middle" fill="#111">Jul</text>
<line x1="413.8" y1="689.8" x2="413.8" y2="692.6" stroke="#9a9a9a" stroke-width="1.1"/>
<text x="413.8" y="703.3" font-size="8.6" text-anchor="middle" fill="#111">2022</text>
<line x1="470.0" y1="689.8" x2="470.0" y2="692.6" stroke="#9a9a9a" stroke-width="1.1"/>
<text x="470.0" y="703.3" font-size="8.6" text-anchor="middle" fill="#111">Jul</text>
<line x1="527.2" y1="689.8" x2="527.2" y2="692.6" stroke="#9a9a9a" stroke-width="1.1"/>
<text x="527.2" y="703.3" font-size="8.6" text-anchor="middle" fill="#111">2023</text>
<text x="58" y="595.1" font-size="8.7" fill="#111">Open Water</text>
<g transform="translate(28.4,655.5) rotate(-90)" fill="#111"><text x="-0.3" y="0" font-size="10.2" font-style="italic" font-family="DejaVu Sans, sans-serif">σ</text><text x="6.2" y="-4.3" font-size="5.6" font-style="italic">0</text><text x="10.6" y="1.6" font-size="6.3" font-style="italic">VV, PC1</text></g>
<rect x="136.4" y="589.3" width="123.3" height="35.9" fill="#fff"/>
<line x1="142.5" y1="589.3" x2="142.5" y2="625.2" stroke="#a0a0a0" stroke-width="0.8" stroke-dasharray="2.6,1.6"/>
<line x1="179.8" y1="589.3" x2="179.8" y2="625.2" stroke="#a0a0a0" stroke-width="0.8" stroke-dasharray="2.6,1.6"/>
<line x1="217.1" y1="589.3" x2="217.1" y2="625.2" stroke="#a0a0a0" stroke-width="0.8" stroke-dasharray="2.6,1.6"/>
<line x1="254.4" y1="589.3" x2="254.4" y2="625.2" stroke="#a0a0a0" stroke-width="0.8" stroke-dasharray="2.6,1.6"/>
<line x1="136.4" y1="601.0" x2="259.7" y2="601.0" stroke="#a0a0a0" stroke-width="0.8" stroke-dasharray="2.6,1.6"/>
<line x1="136.4" y1="623.3" x2="259.7" y2="623.3" stroke="#a0a0a0" stroke-width="0.8" stroke-dasharray="2.6,1.6"/>
<g fill="none" stroke-width="1.15" stroke-linejoin="round">
<path d="M142.5,618.9 L143.7,618.9 L144.9,618.7 L146.1,618.5 L147.3,618.3 L148.5,618.0 L149.7,617.7 L150.9,617.2 L152.1,616.6 L153.3,615.7 L154.5,614.8 L155.7,613.8 L156.9,612.9 L158.1,612.0 L159.3,611.0 L160.5,609.9 L161.7,608.9 L162.9,608.0 L164.1,607.5 L165.3,607.4 L166.5,607.7 L167.7,608.2 L168.9,608.9 L170.1,609.4 L171.3,609.9 L172.5,610.0 L173.7,609.6 L174.9,608.8 L176.1,607.7 L177.3,606.4 L178.5,605.0 L179.7,603.7 L180.9,602.4 L182.1,600.8 L183.3,599.1 L184.5,597.5 L185.7,596.0 L186.9,594.9 L188.1,594.2 L189.3,593.5 L190.5,592.9 L191.7,592.3 L192.9,591.9 L194.1,591.7 L195.3,591.8 L196.5,592.2 L197.7,592.9 L198.9,593.9 L200.1,595.1 L201.3,596.4 L202.5,597.7 L203.7,599.3 L204.9,601.4 L206.1,603.7 L207.3,606.0 L208.5,608.2 L209.7,610.1 L210.9,611.8 L212.1,613.5 L213.3,615.2 L214.5,616.7 L215.7,617.9 L216.9,618.8 L218.1,619.4 L219.3,620.0 L220.5,620.5 L221.7,620.9 L222.9,621.2 L224.1,621.4 L225.3,621.3 L226.5,621.0 L227.7,620.4 L228.9,619.7 L230.1,618.9 L231.3,618.1 L232.5,617.3 L233.7,616.1 L234.9,614.8 L236.1,613.5 L237.3,612.3 L238.5,611.5 L239.7,611.3 L240.9,611.4 L242.1,611.6 L243.3,611.9 L244.5,612.2 L245.7,612.4 L246.9,612.5 L248.1,612.4 L249.3,612.0 L250.5,611.5 L251.7,610.8 L252.9,609.9 L254.1,609.0 L254.4,608.7" stroke="#3f9f3f"/>
<path d="M142.5,621.4 L143.7,621.1 L144.9,620.7 L146.1,620.3 L147.3,619.9 L148.5,619.5 L149.7,619.0 L150.9,618.5 L152.1,617.9 L153.3,617.3 L154.5,616.7 L155.7,616.0 L156.9,615.4 L158.1,614.7 L159.3,614.1 L160.5,613.5 L161.7,612.8 L162.9,612.2 L164.1,611.6 L165.3,611.1 L166.5,610.7 L167.7,610.3 L168.9,609.9 L170.1,609.5 L171.3,609.1 L172.5,608.6 L173.7,608.1 L174.9,607.6 L176.1,607.0 L177.3,606.4 L178.5,605.7 L179.7,605.0 L180.9,604.1 L182.1,603.0 L183.3,601.8 L184.5,600.6 L185.7,599.5 L186.9,598.7 L188.1,598.1 L189.3,597.5 L190.5,597.0 L191.7,596.5 L192.9,596.2 L194.1,596.0 L195.3,596.0 L196.5,596.1 L197.7,596.3 L198.9,596.5 L200.1,596.7 L201.3,597.1 L202.5,597.4 L203.7,598.0 L204.9,598.9 L206.1,600.0 L207.3,601.2 L208.5,602.4 L209.7,603.7 L210.9,605.0 L212.1,606.5 L213.3,608.1 L214.5,609.6 L215.7,611.1 L216.9,612.3 L218.1,613.4 L219.3,614.4 L220.5,615.4 L221.7,616.2 L222.9,616.9 L224.1,617.5 L225.3,617.8 L226.5,618.1 L227.7,618.4 L228.9,618.6 L230.1,618.8 L231.3,618.9 L232.5,618.9 L233.7,618.6 L234.9,618.0 L236.1,617.3 L237.3,616.6 L238.5,616.0 L239.7,615.5 L240.9,615.2 L242.1,615.0 L243.3,614.7 L244.5,614.5 L245.7,614.2 L246.9,613.8 L248.1,613.3 L249.3,612.7 L250.5,611.9 L251.7,611.0 L252.9,610.0 L254.1,609.0 L254.4,608.7" stroke="#1f1fff"/>
<path d="M142.5,613.8 L143.7,614.5 L144.9,615.1 L146.1,615.6 L147.3,616.0 L148.5,616.3 L149.7,616.4 L150.9,616.4 L152.1,616.2 L153.3,616.0 L154.5,615.8 L155.7,615.5 L156.9,615.1 L158.1,614.7 L159.3,614.4 L160.5,614.0 L161.7,613.6 L162.9,613.3 L164.1,612.9 L165.3,612.4 L166.5,612.0 L167.7,611.5 L168.9,611.0 L170.1,610.5 L171.3,610.0 L172.5,609.4 L173.7,608.9 L174.9,608.3 L176.1,607.6 L177.3,607.0 L178.5,606.3 L179.7,605.7 L180.9,605.0 L182.1,604.4 L183.3,603.7 L184.5,603.0 L185.7,602.3 L186.9,601.4 L188.1,600.7 L189.3,600.1 L190.5,599.8 L191.7,599.8 L192.9,599.8 L194.1,599.8 L195.3,599.8 L196.5,599.8 L197.7,599.8 L198.9,599.8 L200.1,599.8 L201.3,599.8 L202.5,599.8 L203.7,599.9 L204.9,600.2 L206.1,600.5 L207.3,600.9 L208.5,601.4 L209.7,601.8 L210.9,602.3 L212.1,602.9 L213.3,603.6 L214.5,604.4 L215.7,605.2 L216.9,606.1 L218.1,607.1 L219.3,608.6 L220.5,610.2 L221.7,611.8 L222.9,613.1 L224.1,613.7 L225.3,613.8 L226.5,613.8 L227.7,613.8 L228.9,613.8 L230.1,613.8 L231.3,613.8 L232.5,613.8 L233.7,613.8 L234.9,613.8 L236.1,613.8 L237.3,613.9 L238.5,614.0 L239.7,614.2 L240.9,614.4 L242.1,614.6 L243.3,614.8 L244.5,614.9 L245.7,615.1 L246.9,615.1 L248.1,615.0 L249.3,614.8 L250.5,614.4 L251.7,613.9 L252.9,613.3 L254.1,612.7 L254.4,612.5" stroke="#ff3fff"/>
<path d="M142.5,611.3 L143.7,611.1 L144.9,610.9 L146.1,610.8 L147.3,610.7 L148.5,610.6 L149.7,610.6 L150.9,610.5 L152.1,610.5 L153.3,610.5 L154.5,610.5 L155.7,610.6 L156.9,610.8 L158.1,611.0 L159.3,611.3 L160.5,611.6 L161.7,611.9 L162.9,612.1 L164.1,612.4 L165.3,612.6 L166.5,612.7 L167.7,612.9 L168.9,613.1 L170.1,613.3 L171.3,613.5 L172.5,613.6 L173.7,613.7 L174.9,613.8 L176.1,613.8 L177.3,613.6 L178.5,613.2 L179.7,612.6 L180.9,611.8 L182.1,610.9 L183.3,609.9 L184.5,609.0 L185.7,608.2 L186.9,607.6 L188.1,607.0 L189.3,606.6 L190.5,606.1 L191.7,605.7 L192.9,605.3 L194.1,604.9 L195.3,604.5 L196.5,604.2 L197.7,603.8 L198.9,603.5 L200.1,603.1 L201.3,602.7 L202.5,602.3 L203.7,602.1 L204.9,601.9 L206.1,601.8 L207.3,602.0 L208.5,602.3 L209.7,602.9 L210.9,603.6 L212.1,604.3 L213.3,605.1 L214.5,605.9 L215.7,606.6 L216.9,607.3 L218.1,607.9 L219.3,608.6 L220.5,609.3 L221.7,610.0 L222.9,610.7 L224.1,611.4 L225.3,611.9 L226.5,612.3 L227.7,612.5 L228.9,612.5 L230.1,612.4 L231.3,612.3 L232.5,612.1 L233.7,611.9 L234.9,611.7 L236.1,611.6 L237.3,611.4 L238.5,611.3 L239.7,611.3 L240.9,611.4 L242.1,611.6 L243.3,611.9 L244.5,612.2 L245.7,612.4 L246.9,612.5 L248.1,612.4 L249.3,612.2 L250.5,611.9 L251.7,611.4 L252.9,610.8 L254.1,610.2 L254.4,610.0" stroke="#7fff5f"/>
<path d="M142.5,607.4 L143.7,607.6 L144.9,607.7 L146.1,607.9 L147.3,608.0 L148.5,608.2 L149.7,608.3 L150.9,608.4 L152.1,608.6 L153.3,608.7 L154.5,608.8 L155.7,608.9 L156.9,609.0 L158.1,609.0 L159.3,609.1 L160.5,609.2 L161.7,609.3 L162.9,609.4 L164.1,609.4 L165.3,609.5 L166.5,609.7 L167.7,609.8 L168.9,609.9 L170.1,610.1 L171.3,610.2 L172.5,610.3 L173.7,610.4 L174.9,610.5 L176.1,610.5 L177.3,610.5 L178.5,610.3 L179.7,610.2 L180.9,610.0 L182.1,609.7 L183.3,609.5 L184.5,609.2 L185.7,609.0 L186.9,608.8 L188.1,608.6 L189.3,608.4 L190.5,608.1 L191.7,607.9 L192.9,607.7 L194.1,607.5 L195.3,607.3 L196.5,607.1 L197.7,607.0 L198.9,606.9 L200.1,606.8 L201.3,606.6 L202.5,606.5 L203.7,606.4 L204.9,606.4 L206.1,606.3 L207.3,606.2 L208.5,606.2 L209.7,606.2 L210.9,606.2 L212.1,606.3 L213.3,606.4 L214.5,606.6 L215.7,606.8 L216.9,606.9 L218.1,607.1 L219.3,607.3 L220.5,607.4 L221.7,607.5 L222.9,607.5 L224.1,607.6 L225.3,607.7 L226.5,607.7 L227.7,607.8 L228.9,607.8 L230.1,607.9 L231.3,608.0 L232.5,608.0 L233.7,608.1 L234.9,608.2 L236.1,608.2 L237.3,608.3 L238.5,608.4 L239.7,608.5 L240.9,608.5 L242.1,608.6 L243.3,608.7 L244.5,608.8 L245.7,608.9 L246.9,609.0 L248.1,609.0 L249.3,609.1 L250.5,609.2 L251.7,609.3 L252.9,609.4 L254.1,609.5 L254.4,609.5" stroke="#ff4a3a"/>
</g>
<rect x="136.4" y="589.3" width="123.3" height="35.9" fill="none" stroke="#707070" stroke-width="1.0"/>
<text x="142.5" y="633.9" font-size="6.6" text-anchor="middle" fill="#111">01</text>
<text x="179.8" y="633.9" font-size="6.6" text-anchor="middle" fill="#111">11</text>
<text x="217.1" y="633.9" font-size="6.6" text-anchor="middle" fill="#111">21</text>
<text x="254.4" y="633.9" font-size="6.6" text-anchor="middle" fill="#111">31</text>
<rect x="417.3" y="589.3" width="123.4" height="35.9" fill="#fff"/>
<line x1="423.3" y1="589.3" x2="423.3" y2="625.2" stroke="#a0a0a0" stroke-width="0.8" stroke-dasharray="2.6,1.6"/>
<line x1="460.6" y1="589.3" x2="460.6" y2="625.2" stroke="#a0a0a0" stroke-width="0.8" stroke-dasharray="2.6,1.6"/>
<line x1="497.9" y1="589.3" x2="497.9" y2="625.2" stroke="#a0a0a0" stroke-width="0.8" stroke-dasharray="2.6,1.6"/>
<line x1="535.2" y1="589.3" x2="535.2" y2="625.2" stroke="#a0a0a0" stroke-width="0.8" stroke-dasharray="2.6,1.6"/>
<line x1="417.3" y1="599.6" x2="540.7" y2="599.6" stroke="#a0a0a0" stroke-width="0.8" stroke-dasharray="2.6,1.6"/>
<line x1="417.3" y1="609.9" x2="540.7" y2="609.9" stroke="#a0a0a0" stroke-width="0.8" stroke-dasharray="2.6,1.6"/>
<line x1="417.3" y1="620.6" x2="540.7" y2="620.6" stroke="#a0a0a0" stroke-width="0.8" stroke-dasharray="2.6,1.6"/>
<g fill="none" stroke-width="1.15" stroke-linejoin="round">
<path d="M423.3,591.1 L424.5,591.5 L425.7,592.4 L426.9,593.4 L428.1,594.9 L429.3,597.0 L430.5,599.0 L431.7,600.7 L432.9,602.5 L434.1,604.2 L435.3,605.7 L436.5,606.9 L437.7,607.5 L438.9,607.6 L440.1,607.4 L441.3,607.2 L442.5,606.8 L443.7,606.4 L444.9,606.0 L446.1,605.5 L447.3,605.0 L448.5,604.2 L449.7,603.4 L450.9,602.5 L452.1,601.4 L453.3,600.3 L454.5,598.6 L455.7,596.7 L456.9,595.8 L458.1,596.2 L459.3,597.1 L460.5,598.2 L461.7,599.1 L462.9,599.5 L464.1,599.7 L465.3,599.9 L466.5,600.0 L467.7,600.1 L468.9,599.9 L470.1,599.2 L471.3,598.2 L472.5,597.3 L473.7,597.0 L474.9,597.4 L476.1,598.3 L477.3,599.6 L478.5,600.9 L479.7,602.2 L480.9,603.6 L482.1,605.1 L483.3,606.7 L484.5,608.2 L485.7,609.3 L486.9,610.1 L488.1,610.6 L489.3,611.0 L490.5,611.2 L491.7,610.6 L492.9,609.1 L494.1,607.1 L495.3,605.1 L496.5,603.5 L497.7,601.9 L498.9,600.4 L500.1,598.8 L501.3,597.4 L502.5,595.9 L503.7,594.2 L504.9,592.7 L506.1,591.5 L507.3,591.1 L508.5,591.3 L509.7,591.7 L510.9,592.3 L512.1,593.0 L513.3,593.9 L514.5,595.2 L515.7,596.9 L516.9,599.0 L518.1,601.3 L519.3,603.5 L520.5,605.7 L521.7,608.1 L522.9,610.8 L524.1,613.2 L525.3,615.2 L526.5,616.5 L527.7,617.4 L528.9,618.2 L530.1,618.9 L531.3,619.4 L532.5,619.9 L533.7,620.3 L534.9,620.5 L535.2,620.6" stroke="#3f9f3f"/>
<path d="M423.3,598.2 L424.5,597.1 L425.7,596.3 L426.9,595.8 L428.1,595.5 L429.3,595.3 L430.5,595.3 L431.7,595.6 L432.9,596.6 L434.1,598.2 L435.3,599.9 L436.5,601.5 L437.7,602.6 L438.9,603.2 L440.1,603.6 L441.3,604.0 L442.5,604.4 L443.7,604.6 L444.9,604.8 L446.1,604.8 L447.3,604.3 L448.5,603.4 L449.7,602.4 L450.9,601.4 L452.1,600.7 L453.3,600.5 L454.5,600.9 L455.7,601.4 L456.9,601.7 L458.1,601.6 L459.3,601.3 L460.5,600.9 L461.7,600.4 L462.9,600.0 L464.1,599.5 L465.3,599.0 L466.5,598.4 L467.7,597.7 L468.9,597.1 L470.1,596.6 L471.3,596.3 L472.5,596.4 L473.7,596.8 L474.9,597.6 L476.1,598.5 L477.3,599.4 L478.5,600.1 L479.7,600.7 L480.9,601.1 L482.1,601.4 L483.3,601.8 L484.5,602.1 L485.7,602.5 L486.9,603.0 L488.1,603.9 L489.3,604.9 L490.5,605.3 L491.7,604.5 L492.9,603.2 L494.1,602.4 L495.3,603.0 L496.5,604.4 L497.7,605.3 L498.9,605.1 L500.1,604.4 L501.3,603.4 L502.5,602.2 L503.7,601.0 L504.9,599.8 L506.1,598.7 L507.3,597.4 L508.5,596.1 L509.7,595.0 L510.9,594.6 L512.1,595.0 L513.3,596.2 L514.5,597.8 L515.7,599.4 L516.9,600.9 L518.1,602.4 L519.3,604.0 L520.5,605.6 L521.7,607.2 L522.9,608.7 L524.1,610.1 L525.3,611.5 L526.5,613.0 L527.7,614.5 L528.9,615.8 L530.1,616.7 L531.3,617.1 L532.5,617.1 L533.7,617.1 L534.9,617.1 L535.2,617.1" stroke="#1f1fff"/>
<path d="M423.3,607.6 L424.5,606.4 L425.7,605.3 L426.9,604.2 L428.1,603.3 L429.3,602.5 L430.5,601.8 L431.7,601.3 L432.9,600.8 L434.1,600.3 L435.3,599.9 L436.5,599.6 L437.7,599.4 L438.9,599.4 L440.1,599.4 L441.3,599.4 L442.5,599.4 L443.7,599.4 L444.9,599.4 L446.1,599.4 L447.3,599.6 L448.5,600.0 L449.7,600.5 L450.9,601.0 L452.1,601.4 L453.3,601.7 L454.5,602.0 L455.7,602.3 L456.9,602.5 L458.1,602.7 L459.3,602.8 L460.5,602.9 L461.7,602.8 L462.9,602.5 L464.1,602.1 L465.3,601.7 L466.5,601.1 L467.7,600.6 L468.9,600.1 L470.1,599.4 L471.3,598.7 L472.5,598.0 L473.7,597.4 L474.9,597.1 L476.1,597.0 L477.3,597.3 L478.5,597.8 L479.7,598.5 L480.9,599.2 L482.1,600.0 L483.3,600.7 L484.5,601.7 L485.7,603.0 L486.9,604.3 L488.1,605.4 L489.3,606.2 L490.5,606.5 L491.7,606.3 L492.9,605.8 L494.1,605.1 L495.3,604.3 L496.5,603.6 L497.7,603.0 L498.9,602.5 L500.1,602.1 L501.3,601.7 L502.5,601.4 L503.7,601.0 L504.9,600.6 L506.1,600.2 L507.3,599.8 L508.5,599.3 L509.7,598.8 L510.9,598.5 L512.1,598.2 L513.3,598.2 L514.5,598.5 L515.7,599.0 L516.9,599.6 L518.1,600.4 L519.3,601.1 L520.5,601.8 L521.7,602.5 L522.9,603.2 L524.1,603.9 L525.3,604.7 L526.5,605.5 L527.7,606.5 L528.9,607.9 L530.1,609.5 L531.3,610.5 L532.5,610.5 L533.7,610.4 L534.9,610.1 L535.2,610.0" stroke="#ff3fff"/>
<path d="M423.3,603.4 L424.5,603.1 L425.7,602.8 L426.9,602.6 L428.1,602.5 L429.3,602.4 L430.5,602.4 L431.7,602.5 L432.9,602.7 L434.1,603.0 L435.3,603.4 L436.5,603.9 L437.7,604.4 L438.9,604.8 L440.1,605.1 L441.3,605.3 L442.5,605.3 L443.7,605.2 L444.9,605.0 L446.1,604.8 L447.3,604.5 L448.5,604.1 L449.7,603.8 L450.9,603.5 L452.1,603.1 L453.3,602.9 L454.5,602.6 L455.7,602.3 L456.9,602.1 L458.1,601.8 L459.3,601.6 L460.5,601.3 L461.7,601.1 L462.9,600.8 L464.1,600.5 L465.3,600.3 L466.5,600.0 L467.7,599.7 L468.9,599.3 L470.1,599.0 L471.3,598.7 L472.5,598.5 L473.7,598.3 L474.9,598.2 L476.1,598.2 L477.3,598.4 L478.5,598.8 L479.7,599.3 L480.9,599.8 L482.1,600.4 L483.3,600.9 L484.5,601.3 L485.7,601.6 L486.9,601.7 L488.1,601.7 L489.3,601.7 L490.5,601.7 L491.7,601.7 L492.9,601.7 L494.1,601.7 L495.3,601.7 L496.5,601.7 L497.7,601.7 L498.9,601.5 L500.1,601.0 L501.3,600.2 L502.5,599.3 L503.7,598.6 L504.9,598.2 L506.1,598.2 L507.3,598.3 L508.5,598.5 L509.7,598.7 L510.9,599.0 L512.1,599.2 L513.3,599.5 L514.5,599.9 L515.7,600.3 L516.9,600.9 L518.1,601.4 L519.3,602.0 L520.5,602.6 L521.7,603.1 L522.9,603.7 L524.1,604.1 L525.3,604.6 L526.5,605.0 L527.7,605.4 L528.9,605.8 L530.1,606.1 L531.3,606.5 L532.5,606.9 L533.7,607.2 L534.9,607.5 L535.2,607.6" stroke="#7fff5f"/>
<path d="M423.3,605.7 L424.5,605.5 L425.7,605.3 L426.9,605.1 L428.1,605.0 L429.3,604.8 L430.5,604.6 L431.7,604.5 L432.9,604.3 L434.1,604.1 L435.3,604.0 L436.5,603.8 L437.7,603.7 L438.9,603.5 L440.1,603.3 L441.3,603.2 L442.5,603.1 L443.7,603.0 L444.9,602.9 L446.1,602.9 L447.3,603.1 L448.5,603.5 L449.7,604.0 L450.9,604.5 L452.1,605.1 L453.3,605.6 L454.5,606.1 L455.7,606.4 L456.9,606.5 L458.1,606.4 L459.3,606.2 L460.5,605.9 L461.7,605.5 L462.9,605.0 L464.1,604.5 L465.3,604.0 L466.5,603.5 L467.7,603.0 L468.9,602.6 L470.1,602.0 L471.3,601.4 L472.5,600.9 L473.7,600.4 L474.9,600.1 L476.1,600.1 L477.3,600.3 L478.5,600.5 L479.7,600.8 L480.9,601.2 L482.1,601.6 L483.3,601.9 L484.5,602.2 L485.7,602.3 L486.9,602.4 L488.1,602.4 L489.3,602.3 L490.5,602.3 L491.7,602.2 L492.9,602.1 L494.1,602.0 L495.3,601.9 L496.5,601.8 L497.7,601.7 L498.9,601.6 L500.1,601.5 L501.3,601.3 L502.5,601.1 L503.7,601.0 L504.9,600.8 L506.1,600.7 L507.3,600.6 L508.5,600.5 L509.7,600.5 L510.9,600.6 L512.1,600.8 L513.3,601.0 L514.5,601.3 L515.7,601.6 L516.9,601.9 L518.1,602.3 L519.3,602.6 L520.5,603.0 L521.7,603.4 L522.9,603.9 L524.1,604.4 L525.3,604.8 L526.5,605.2 L527.7,605.3 L528.9,605.3 L530.1,605.3 L531.3,605.3 L532.5,605.3 L533.7,605.3 L534.9,605.3 L535.2,605.3" stroke="#ff4a3a"/>
</g>
<rect x="417.3" y="589.3" width="123.4" height="35.9" fill="none" stroke="#707070" stroke-width="1.0"/>
<text x="423.3" y="633.9" font-size="6.6" text-anchor="middle" fill="#111">01</text>
<text x="460.6" y="633.9" font-size="6.6" text-anchor="middle" fill="#111">11</text>
<text x="497.9" y="633.9" font-size="6.6" text-anchor="middle" fill="#111">21</text>
<text x="535.2" y="633.9" font-size="6.6" text-anchor="middle" fill="#111">31</text>
<rect x="262.4" y="592.9" width="32.0" height="13.2" rx="2.4" fill="#fff" stroke="#111" stroke-width="1.2"/>
<text x="278.4" y="602.1" font-size="8.4" text-anchor="middle" fill="#111">2021.1</text>
<rect x="380.1" y="592.9" width="33.2" height="13.2" rx="2.4" fill="#fff" stroke="#111" stroke-width="1.2"/>
<text x="396.7" y="602.1" font-size="8.4" text-anchor="middle" fill="#111">2021.7</text>
<path d="M297.2,599.5 A7.2,7.2 0 0 1 304.4,606.7 L304.4,681.3" fill="none" stroke="#111" stroke-width="1.2"/>
<path d="M301.7,680.4 L304.4,681.8 L307.1,680.4 L304.4,684.8 Z" fill="#111"/>
<path d="M377.6,599.1 L368.2,599.1 A7.2,7.2 0 0 0 361.0,606.3 L361.0,681.3" fill="none" stroke="#111" stroke-width="1.2"/>
<path d="M358.3,680.4 L361.0,681.8 L363.7,680.4 L361.0,684.8 Z" fill="#111"/>
<text x="3.6" y="16.2" font-size="11.2" font-weight="bold" fill="#111">(a)</text>
<text x="3.6" y="370.5" font-size="11.2" font-weight="bold" fill="#111">(b)</text>
<rect x="126.6" y="711.2" width="306.0" height="15.5" rx="1.2" fill="#dadada" stroke="#cfcfcf" stroke-width="0.6"/>
<line x1="128.6" y1="718.1" x2="147.6" y2="718.1" stroke="#3f9f3f" stroke-width="1.5"/>
<text x="157.0" y="721.6" font-size="8.8" fill="#111">5days</text>
<line x1="187.6" y1="718.1" x2="206.6" y2="718.1" stroke="#1f1fff" stroke-width="1.5"/>
<text x="215.4" y="721.6" font-size="8.8" fill="#111">7days</text>
<line x1="246.4" y1="718.1" x2="265.4" y2="718.1" stroke="#ff3fff" stroke-width="1.5"/>
<text x="273.5" y="721.6" font-size="8.8" fill="#111">10days</text>
<line x1="310.2" y1="718.1" x2="329.2" y2="718.1" stroke="#7fff5f" stroke-width="1.5"/>
<text x="337.5" y="721.6" font-size="8.8" fill="#111">15days</text>
<line x1="373.8" y1="718.1" x2="392.8" y2="718.1" stroke="#ff4a3a" stroke-width="1.5"/>
<text x="400.3" y="721.6" font-size="8.8" fill="#111">20days</text>
</svg>
</body></html>
